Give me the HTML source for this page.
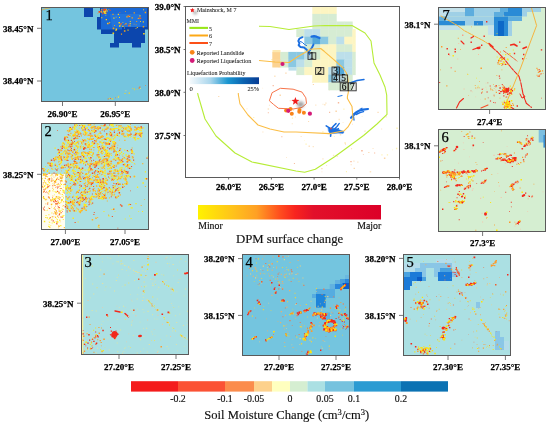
<!DOCTYPE html>
<html><head><meta charset="utf-8"><title>Soil moisture change figure</title>
<style>html,body{margin:0;padding:0;background:#fff;}svg{display:block;}
text{font-family:"Liberation Serif","Times New Roman",serif;}</style></head>
<body><svg width="550" height="425" viewBox="0 0 550 425">
<rect width="550" height="425" fill="#fff"/><rect x="41.0" y="7.0" width="108.0" height="95.0" fill="#74c5df" /><rect x="84.0" y="8.0" width="9.0" height="9.0" fill="#0c46ad" /><path d="M100 8 H148 V17 H148 V29.5 H145 V43 H141 V47.5 H132 V43 H119 V47.5 H110 V43 H114 V34 H101 V29.5 H97 V17 H100 Z" fill="#0c46ad"/><path d="M101 8 H147 V27 H122 V29.5 H101 Z" fill="#1a69d6"/><path d="M110 14 H140 V27 H112 Z" fill="#2a80e4" opacity="0.55"/><polyline points="42.0,10.0 46.0,8.5 50.0,8.0" fill="none" stroke="#e8b040" stroke-width="0.8" stroke-linejoin="round" stroke-linecap="round" /><path fill="#ffd21a" d="M103.2 11.0h1.5v1.5h-1.5zM107.1 10.5h0.9v0.9h-0.9zM99.0 11.7h0.9v0.9h-0.9zM103.6 11.1h0.9v0.9h-0.9zM101.4 11.8h0.9v0.9h-0.9zM105.2 12.9h1.2v1.2h-1.2zM103.7 9.6h1.3v1.3h-1.3zM104.8 10.5h1.6v1.6h-1.6zM104.0 12.0h1.7v1.7h-1.7zM105.6 8.8h1.2v1.2h-1.2zM129.5 25.2h1.0v1.0h-1.0zM115.7 16.7h0.8v0.8h-0.8zM105.7 18.9h1.3v1.3h-1.3zM129.8 21.1h1.0v1.0h-1.0zM122.5 22.2h0.8v0.8h-0.8zM119.0 17.0h1.0v1.0h-1.0zM109.3 22.0h0.9v0.9h-0.9zM119.0 25.2h1.5v1.5h-1.5zM135.6 28.0h0.8v0.8h-0.8zM101.2 17.2h1.1v1.1h-1.1zM127.5 29.6h1.1v1.1h-1.1zM137.8 17.9h1.0v1.0h-1.0zM112.5 32.5h1.6v1.6h-1.6zM117.8 13.8h1.2v1.2h-1.2zM143.1 9.2h1.0v1.0h-1.0zM122.2 25.7h1.3v1.3h-1.3zM118.5 22.1h1.5v1.5h-1.5zM107.1 22.8h1.5v1.5h-1.5zM139.4 15.3h1.2v1.2h-1.2zM140.0 21.0h0.9v0.9h-0.9zM113.3 17.5h1.2v1.2h-1.2zM126.4 16.3h1.2v1.2h-1.2zM129.6 23.1h1.2v1.2h-1.2zM143.1 33.0h1.6v1.6h-1.6zM129.1 15.9h1.1v1.1h-1.1zM142.7 21.2h1.2v1.2h-1.2zM115.4 29.8h1.2v1.2h-1.2zM105.4 14.7h0.9v0.9h-0.9zM115.6 28.6h1.5v1.5h-1.5zM136.8 27.1h1.0v1.0h-1.0zM112.3 98.1h0.9v0.9h-0.9zM136.7 89.0h0.8v0.8h-0.8zM128.6 92.5h1.3v1.3h-1.3zM134.2 88.4h0.9v0.9h-0.9zM111.7 99.0h0.9v0.9h-0.9zM109.4 97.8h1.1v1.1h-1.1zM118.2 95.8h1.0v1.0h-1.0zM124.5 93.0h1.0v1.0h-1.0zM116.8 96.7h0.7v0.7h-0.7zM132.3 88.2h0.9v0.9h-0.9zM134.2 89.4h0.8v0.8h-0.8z"/><path fill="#f04a1a" d="M101.2 9.6h0.9v0.9h-0.9zM104.8 8.8h1.4v1.4h-1.4zM103.3 8.6h1.4v1.4h-1.4zM106.0 11.9h0.8v0.8h-0.8zM102.2 12.8h1.4v1.4h-1.4zM98.5 11.0h1.7v1.7h-1.7zM103.5 9.4h1.5v1.5h-1.5zM109.6 9.8h1.1v1.1h-1.1z"/><path fill="#fd9a2a" d="M97.5 13.3h0.8v0.8h-0.8zM101.2 8.9h1.1v1.1h-1.1zM105.5 9.9h1.2v1.2h-1.2zM100.4 10.8h1.7v1.7h-1.7z"/><path fill="#f0a21a" d="M112.7 27.6h1.6v1.6h-1.6zM144.7 11.8h1.5v1.5h-1.5zM114.0 25.1h0.9v0.9h-0.9zM135.7 24.5h0.8v0.8h-0.8zM124.1 27.6h0.9v0.9h-0.9zM136.2 21.1h1.0v1.0h-1.0zM133.6 12.3h1.3v1.3h-1.3zM142.7 26.0h1.5v1.5h-1.5zM125.0 10.9h0.9v0.9h-0.9zM127.6 15.3h1.2v1.2h-1.2zM120.9 33.6h1.2v1.2h-1.2zM112.4 13.8h1.2v1.2h-1.2zM123.9 30.2h1.6v1.6h-1.6zM125.3 23.1h1.3v1.3h-1.3zM131.5 17.2h1.4v1.4h-1.4zM120.1 24.5h1.1v1.1h-1.1zM133.7 23.8h0.8v0.8h-0.8zM108.3 9.2h0.9v0.9h-0.9z"/><path fill="#e8602a" d="M120.3 23.1h1.5v1.5h-1.5zM139.7 17.6h1.5v1.5h-1.5zM128.1 25.1h1.3v1.3h-1.3zM128.5 23.7h0.9v0.9h-0.9zM127.7 15.8h1.5v1.5h-1.5zM108.5 22.9h1.2v1.2h-1.2zM138.5 17.6h1.2v1.2h-1.2zM124.1 24.2h1.1v1.1h-1.1zM129.5 14.4h0.9v0.9h-0.9zM119.4 12.2h0.9v0.9h-0.9z"/><path fill="#f07a2a" d="M138.6 87.5h1.2v1.2h-1.2zM115.0 97.5h0.8v0.8h-0.8zM145.3 85.3h0.7v0.7h-0.7zM107.7 98.4h1.1v1.1h-1.1zM139.3 86.4h1.2v1.2h-1.2zM110.0 98.0h1.1v1.1h-1.1z"/><path fill="#e8e070" d="M125.5 90.3h0.9v0.9h-0.9zM118.0 96.7h1.0v1.0h-1.0zM139.8 88.0h1.0v1.0h-1.0z"/><rect x="41.5" y="7.5" width="107" height="94" fill="none" stroke="#5a5a5a" stroke-width="1"/><line x1="37" y1="28.3" x2="41" y2="28.3" stroke="#777" stroke-width="1" /><text x="33.4" y="31.6" font-size="9" font-weight="bold" text-anchor="end" fill="#000" stroke="#000" stroke-width="0.25" >38.45°N</text><line x1="37" y1="81" x2="41" y2="81" stroke="#777" stroke-width="1" /><text x="33.4" y="84.3" font-size="9" font-weight="bold" text-anchor="end" fill="#000" stroke="#000" stroke-width="0.25" >38.40°N</text><line x1="62.5" y1="102" x2="62.5" y2="106" stroke="#777" stroke-width="1" /><text x="62.5" y="117.0" font-size="9" font-weight="bold" text-anchor="middle" fill="#000" stroke="#000" stroke-width="0.25" >26.90°E</text><line x1="115.3" y1="102" x2="115.3" y2="106" stroke="#777" stroke-width="1" /><text x="115.3" y="117.0" font-size="9" font-weight="bold" text-anchor="middle" fill="#000" stroke="#000" stroke-width="0.25" >26.95°E</text><text x="45.6" y="20.2" font-size="14.5" font-weight="normal" text-anchor="start" fill="#000" stroke="#000" stroke-width="0.25" >1</text><rect x="41.0" y="123.0" width="108.0" height="107.0" fill="#abe0e3" /><rect x="42.0" y="174.0" width="23.0" height="55.0" fill="#fffdf0" /><path fill="#f5501e" d="M114.2 175.4h1.4v1.4h-1.4zM99.8 192.1h1.4v1.4h-1.4zM94.4 164.2h1.3v1.3h-1.3zM110.1 132.1h1.0v1.0h-1.0zM87.4 152.9h0.9v0.9h-0.9zM86.7 152.2h0.9v0.9h-0.9zM118.3 129.2h1.2v1.2h-1.2zM55.5 173.6h1.0v1.0h-1.0zM70.7 150.1h1.2v1.2h-1.2zM134.5 126.3h1.4v1.4h-1.4zM104.2 124.0h1.5v1.5h-1.5zM123.1 172.0h0.8v0.8h-0.8zM88.4 204.2h1.0v1.0h-1.0zM89.2 203.4h1.0v1.0h-1.0zM85.1 197.6h1.2v1.2h-1.2zM87.8 129.2h1.1v1.1h-1.1zM88.7 130.1h1.1v1.1h-1.1zM123.3 128.3h0.9v0.9h-0.9zM106.4 158.4h1.1v1.1h-1.1zM105.5 158.4h1.1v1.1h-1.1zM101.3 163.2h1.0v1.0h-1.0zM110.8 133.6h1.4v1.4h-1.4zM75.1 183.5h1.1v1.1h-1.1zM140.1 135.4h1.4v1.4h-1.4zM138.9 134.3h1.4v1.4h-1.4zM90.4 169.0h1.3v1.3h-1.3zM84.4 131.0h1.1v1.1h-1.1zM73.6 210.2h1.3v1.3h-1.3zM67.8 139.7h1.3v1.3h-1.3zM60.5 156.5h0.8v0.8h-0.8zM78.7 203.9h1.5v1.5h-1.5zM108.9 154.2h0.9v0.9h-0.9zM107.5 127.3h1.1v1.1h-1.1zM72.4 169.8h1.0v1.0h-1.0zM63.9 164.8h1.1v1.1h-1.1zM114.9 190.5h1.1v1.1h-1.1zM42.3 168.0h1.4v1.4h-1.4zM127.0 165.2h0.9v0.9h-0.9zM109.2 173.3h1.0v1.0h-1.0zM91.6 154.9h0.9v0.9h-0.9zM131.4 152.9h1.0v1.0h-1.0zM80.9 191.8h1.2v1.2h-1.2zM130.1 190.5h0.8v0.8h-0.8zM68.5 134.7h1.0v1.0h-1.0zM67.7 133.9h1.0v1.0h-1.0zM84.8 176.9h1.2v1.2h-1.2zM122.8 134.6h0.8v0.8h-0.8zM47.4 162.6h1.2v1.2h-1.2zM76.1 152.1h1.5v1.5h-1.5zM93.4 164.1h1.4v1.4h-1.4zM103.2 186.8h1.5v1.5h-1.5zM113.0 165.3h0.9v0.9h-0.9zM75.4 151.9h1.2v1.2h-1.2zM107.6 163.2h1.4v1.4h-1.4zM77.2 201.3h1.2v1.2h-1.2zM113.7 146.2h1.0v1.0h-1.0zM71.0 145.6h1.4v1.4h-1.4zM89.3 178.1h1.4v1.4h-1.4zM54.0 160.5h0.8v0.8h-0.8zM65.5 164.6h1.1v1.1h-1.1zM66.4 164.6h1.1v1.1h-1.1zM106.2 160.5h1.2v1.2h-1.2zM98.9 156.8h1.1v1.1h-1.1zM90.3 167.9h1.5v1.5h-1.5zM108.7 143.1h1.5v1.5h-1.5zM119.0 149.7h1.3v1.3h-1.3zM107.2 147.2h1.1v1.1h-1.1zM113.7 145.6h1.5v1.5h-1.5zM67.2 149.4h1.2v1.2h-1.2zM112.7 186.9h1.4v1.4h-1.4zM53.1 158.1h1.1v1.1h-1.1zM110.6 161.4h0.9v0.9h-0.9zM68.9 130.1h1.4v1.4h-1.4zM84.7 129.3h1.1v1.1h-1.1zM66.1 172.1h1.4v1.4h-1.4zM121.0 159.8h1.3v1.3h-1.3zM122.1 160.9h1.3v1.3h-1.3zM113.6 150.7h1.2v1.2h-1.2zM72.7 196.2h0.9v0.9h-0.9zM114.0 165.2h0.9v0.9h-0.9zM109.1 190.6h1.0v1.0h-1.0zM113.2 166.5h1.4v1.4h-1.4zM104.0 155.9h1.2v1.2h-1.2zM104.1 149.3h1.5v1.5h-1.5zM65.5 204.1h0.8v0.8h-0.8zM69.5 187.6h1.5v1.5h-1.5zM83.9 146.9h0.8v0.8h-0.8zM134.4 137.4h0.9v0.9h-0.9zM95.1 135.8h1.2v1.2h-1.2zM94.1 134.8h1.2v1.2h-1.2zM99.7 181.6h1.6v1.6h-1.6zM97.3 174.0h0.9v0.9h-0.9zM97.3 171.5h1.1v1.1h-1.1zM81.5 193.9h0.9v0.9h-0.9zM84.6 128.3h1.2v1.2h-1.2zM100.0 179.5h1.1v1.1h-1.1zM74.3 137.8h1.3v1.3h-1.3zM78.2 171.9h1.3v1.3h-1.3zM77.2 171.9h1.3v1.3h-1.3zM130.2 127.7h1.2v1.2h-1.2zM125.8 175.2h1.3v1.3h-1.3zM117.1 179.0h1.0v1.0h-1.0zM116.9 170.5h1.5v1.5h-1.5zM65.7 181.3h1.2v1.2h-1.2zM94.8 163.4h1.1v1.1h-1.1zM83.6 206.3h1.3v1.3h-1.3zM111.4 175.8h0.8v0.8h-0.8zM108.0 176.6h0.9v0.9h-0.9zM98.1 154.3h1.0v1.0h-1.0zM134.8 134.1h1.5v1.5h-1.5zM131.0 166.0h1.1v1.1h-1.1zM67.3 137.1h0.8v0.8h-0.8zM73.6 160.6h1.5v1.5h-1.5zM78.1 158.8h1.0v1.0h-1.0zM77.3 158.0h1.0v1.0h-1.0zM97.8 171.1h1.4v1.4h-1.4zM50.8 159.5h1.5v1.5h-1.5zM133.0 159.5h1.2v1.2h-1.2zM65.8 201.5h1.0v1.0h-1.0zM101.8 147.3h1.4v1.4h-1.4zM76.8 130.7h1.2v1.2h-1.2zM118.6 192.1h1.5v1.5h-1.5zM75.1 151.6h1.2v1.2h-1.2zM103.9 130.5h1.0v1.0h-1.0zM79.7 180.9h1.1v1.1h-1.1zM140.8 127.2h1.5v1.5h-1.5zM94.2 166.5h1.5v1.5h-1.5zM69.1 210.3h1.5v1.5h-1.5zM117.4 227.7h0.9v0.9h-0.9zM82.8 199.3h1.4v1.4h-1.4zM81.7 198.1h1.4v1.4h-1.4zM127.3 165.6h1.0v1.0h-1.0zM50.2 164.6h1.0v1.0h-1.0zM85.2 196.9h1.4v1.4h-1.4zM90.6 182.0h1.6v1.6h-1.6zM83.0 147.8h1.4v1.4h-1.4zM60.3 157.6h1.5v1.5h-1.5zM91.8 172.5h1.5v1.5h-1.5zM112.5 145.8h1.1v1.1h-1.1zM89.2 165.2h1.5v1.5h-1.5zM68.5 153.0h1.2v1.2h-1.2zM66.6 210.3h0.9v0.9h-0.9zM87.0 177.6h0.8v0.8h-0.8zM78.5 167.6h1.4v1.4h-1.4zM73.6 182.2h1.4v1.4h-1.4zM74.7 183.3h1.4v1.4h-1.4zM84.7 143.2h1.5v1.5h-1.5zM71.1 178.8h1.2v1.2h-1.2zM70.0 201.0h1.5v1.5h-1.5zM130.5 129.6h0.9v0.9h-0.9zM128.0 155.0h1.5v1.5h-1.5zM65.7 151.3h0.9v0.9h-0.9zM93.8 179.7h1.0v1.0h-1.0zM78.3 134.0h0.9v0.9h-0.9zM72.0 158.7h0.9v0.9h-0.9zM72.7 157.9h0.9v0.9h-0.9zM64.3 136.8h1.4v1.4h-1.4zM105.2 197.3h1.5v1.5h-1.5zM110.0 141.1h0.8v0.8h-0.8zM81.8 154.5h1.4v1.4h-1.4zM79.9 156.2h1.4v1.4h-1.4zM66.3 159.4h1.4v1.4h-1.4zM81.1 152.3h1.4v1.4h-1.4zM106.0 149.9h1.1v1.1h-1.1zM106.8 154.8h1.5v1.5h-1.5zM77.5 191.7h1.2v1.2h-1.2zM105.5 142.4h1.2v1.2h-1.2zM104.6 142.4h1.2v1.2h-1.2zM81.7 201.0h1.0v1.0h-1.0zM115.7 165.6h1.0v1.0h-1.0zM96.0 176.6h1.4v1.4h-1.4zM103.3 146.9h0.8v0.8h-0.8zM88.0 153.1h1.4v1.4h-1.4zM110.5 134.7h1.5v1.5h-1.5zM61.8 145.6h1.5v1.5h-1.5zM73.7 152.9h0.9v0.9h-0.9zM110.8 196.2h1.0v1.0h-1.0zM102.4 178.1h1.6v1.6h-1.6zM67.5 202.0h1.6v1.6h-1.6zM105.8 188.8h1.5v1.5h-1.5zM91.1 160.3h0.9v0.9h-0.9zM128.8 134.6h1.5v1.5h-1.5zM130.1 133.4h1.5v1.5h-1.5zM71.2 150.4h0.9v0.9h-0.9zM67.7 197.2h0.9v0.9h-0.9zM96.6 154.2h1.2v1.2h-1.2zM121.8 173.2h1.0v1.0h-1.0zM81.8 167.5h1.5v1.5h-1.5zM109.7 134.5h1.0v1.0h-1.0zM110.5 135.3h1.0v1.0h-1.0zM103.2 142.2h0.9v0.9h-0.9zM115.7 182.9h1.6v1.6h-1.6zM101.5 173.9h0.9v0.9h-0.9zM70.7 128.3h1.6v1.6h-1.6zM69.4 127.0h1.6v1.6h-1.6zM112.5 185.2h1.1v1.1h-1.1zM75.2 137.0h0.8v0.8h-0.8zM130.7 149.3h1.4v1.4h-1.4zM83.1 148.5h1.5v1.5h-1.5zM84.3 147.3h1.5v1.5h-1.5zM105.3 138.4h1.6v1.6h-1.6zM99.5 159.1h1.0v1.0h-1.0zM49.9 165.2h1.3v1.3h-1.3zM102.1 188.0h1.1v1.1h-1.1zM128.1 159.7h1.2v1.2h-1.2zM79.4 196.8h1.5v1.5h-1.5zM126.9 156.0h1.0v1.0h-1.0zM127.7 156.8h1.0v1.0h-1.0zM66.6 157.2h1.4v1.4h-1.4zM76.1 151.4h0.9v0.9h-0.9zM113.4 182.9h1.0v1.0h-1.0zM93.8 142.5h1.4v1.4h-1.4zM126.8 172.2h1.6v1.6h-1.6zM132.5 156.8h1.0v1.0h-1.0zM110.5 148.1h0.9v0.9h-0.9zM84.7 184.9h1.0v1.0h-1.0zM76.5 146.0h1.0v1.0h-1.0zM75.7 145.2h1.0v1.0h-1.0zM117.7 172.8h1.4v1.4h-1.4zM97.5 190.6h0.8v0.8h-0.8zM63.1 155.9h1.0v1.0h-1.0zM63.9 156.7h1.0v1.0h-1.0zM98.2 193.1h1.3v1.3h-1.3zM140.5 125.9h1.3v1.3h-1.3zM118.1 183.4h1.6v1.6h-1.6zM64.9 183.7h1.0v1.0h-1.0zM64.2 183.7h1.0v1.0h-1.0zM95.6 196.5h0.9v0.9h-0.9zM49.3 164.8h1.0v1.0h-1.0zM97.9 137.0h1.3v1.3h-1.3zM95.0 161.3h1.5v1.5h-1.5zM68.3 131.5h0.8v0.8h-0.8zM126.7 161.0h1.5v1.5h-1.5zM106.5 158.4h1.5v1.5h-1.5zM59.0 155.1h1.1v1.1h-1.1zM91.9 193.6h0.9v0.9h-0.9zM67.7 170.1h0.9v0.9h-0.9zM60.9 159.5h1.5v1.5h-1.5zM98.5 190.2h1.2v1.2h-1.2zM53.5 172.6h1.1v1.1h-1.1zM60.7 167.0h1.5v1.5h-1.5zM106.8 180.3h0.8v0.8h-0.8zM129.9 176.3h1.1v1.1h-1.1zM140.1 133.5h1.3v1.3h-1.3zM141.2 132.4h1.3v1.3h-1.3zM106.4 143.2h1.4v1.4h-1.4zM60.8 158.5h1.0v1.0h-1.0zM80.4 161.8h1.1v1.1h-1.1zM100.0 170.8h1.2v1.2h-1.2zM99.1 196.1h0.8v0.8h-0.8zM115.2 159.7h1.1v1.1h-1.1zM71.1 143.4h1.5v1.5h-1.5zM72.3 142.2h1.5v1.5h-1.5zM73.8 210.1h0.8v0.8h-0.8zM115.3 189.3h1.5v1.5h-1.5zM86.0 160.8h1.4v1.4h-1.4zM107.5 191.7h1.0v1.0h-1.0zM57.5 149.0h1.5v1.5h-1.5zM127.4 134.4h1.2v1.2h-1.2zM78.7 135.9h1.1v1.1h-1.1zM122.1 183.8h0.9v0.9h-0.9zM69.0 175.1h1.3v1.3h-1.3zM68.0 174.1h1.3v1.3h-1.3zM124.4 135.8h1.1v1.1h-1.1zM84.3 177.1h1.4v1.4h-1.4zM114.3 169.3h1.2v1.2h-1.2zM92.6 181.7h1.4v1.4h-1.4zM97.9 168.0h0.9v0.9h-0.9zM93.2 146.9h1.0v1.0h-1.0zM88.3 171.4h1.1v1.1h-1.1zM70.1 163.7h1.2v1.2h-1.2zM92.6 188.8h1.1v1.1h-1.1zM117.9 157.3h1.4v1.4h-1.4zM103.0 197.4h1.4v1.4h-1.4zM95.8 163.1h1.4v1.4h-1.4zM72.0 154.8h1.1v1.1h-1.1zM56.2 169.3h1.4v1.4h-1.4zM86.6 191.5h1.3v1.3h-1.3zM74.6 221.9h1.1v1.1h-1.1zM113.3 175.3h1.5v1.5h-1.5zM81.8 194.7h1.5v1.5h-1.5zM96.5 162.2h1.2v1.2h-1.2zM123.8 164.0h1.3v1.3h-1.3zM122.8 164.0h1.3v1.3h-1.3zM66.7 207.5h1.5v1.5h-1.5zM125.8 182.7h1.0v1.0h-1.0zM82.5 176.4h1.0v1.0h-1.0zM69.8 201.7h1.4v1.4h-1.4zM90.1 157.1h1.5v1.5h-1.5zM98.7 160.2h1.5v1.5h-1.5zM93.7 129.5h1.2v1.2h-1.2zM100.9 136.2h1.5v1.5h-1.5zM85.2 186.4h0.8v0.8h-0.8zM139.7 127.4h0.9v0.9h-0.9zM139.0 127.4h0.9v0.9h-0.9zM121.2 170.9h1.6v1.6h-1.6zM108.4 143.4h1.5v1.5h-1.5zM108.7 164.6h1.2v1.2h-1.2zM58.5 151.9h1.4v1.4h-1.4zM77.6 197.7h1.5v1.5h-1.5zM126.8 150.0h1.2v1.2h-1.2zM130.0 204.0h1.1v1.1h-1.1zM129.1 204.0h1.1v1.1h-1.1zM84.5 192.1h1.3v1.3h-1.3zM73.6 149.0h1.6v1.6h-1.6zM66.7 211.4h1.0v1.0h-1.0zM136.4 127.4h1.3v1.3h-1.3zM99.6 141.6h1.0v1.0h-1.0zM79.9 159.1h1.1v1.1h-1.1zM89.4 198.3h1.2v1.2h-1.2zM111.6 178.9h1.3v1.3h-1.3zM74.0 202.2h0.9v0.9h-0.9zM116.6 154.1h1.5v1.5h-1.5zM68.8 129.8h1.1v1.1h-1.1zM72.2 196.7h1.0v1.0h-1.0zM115.6 197.5h0.9v0.9h-0.9zM134.9 134.1h1.3v1.3h-1.3zM136.0 133.0h1.3v1.3h-1.3zM97.8 181.7h1.2v1.2h-1.2zM101.1 150.9h1.1v1.1h-1.1zM125.8 183.0h1.6v1.6h-1.6zM122.4 130.7h0.8v0.8h-0.8zM61.5 147.4h1.5v1.5h-1.5zM93.1 185.9h1.0v1.0h-1.0zM119.6 159.6h1.0v1.0h-1.0zM95.5 165.5h1.3v1.3h-1.3zM113.4 172.5h1.2v1.2h-1.2zM127.1 134.6h0.9v0.9h-0.9zM82.1 172.7h1.0v1.0h-1.0zM82.0 197.3h1.6v1.6h-1.6zM95.0 170.3h1.3v1.3h-1.3zM93.9 171.4h1.3v1.3h-1.3zM99.3 127.2h1.6v1.6h-1.6zM73.1 184.0h1.0v1.0h-1.0zM82.8 151.4h0.8v0.8h-0.8zM82.1 152.0h0.8v0.8h-0.8zM50.7 165.7h0.8v0.8h-0.8zM106.0 133.3h1.4v1.4h-1.4zM63.9 138.2h1.6v1.6h-1.6zM127.5 171.2h1.1v1.1h-1.1zM93.0 143.3h1.3v1.3h-1.3zM77.8 142.7h0.9v0.9h-0.9zM104.7 182.4h1.2v1.2h-1.2zM76.6 135.0h1.5v1.5h-1.5zM121.9 158.5h1.1v1.1h-1.1zM122.1 131.0h1.0v1.0h-1.0zM121.3 130.2h1.0v1.0h-1.0zM78.3 130.9h0.8v0.8h-0.8zM75.6 153.4h0.8v0.8h-0.8zM103.8 138.5h1.2v1.2h-1.2zM74.0 124.4h1.3v1.3h-1.3zM102.4 181.7h1.6v1.6h-1.6zM102.6 161.6h1.3v1.3h-1.3zM96.6 179.6h1.3v1.3h-1.3zM79.0 189.7h0.9v0.9h-0.9zM116.7 188.0h1.2v1.2h-1.2zM104.6 190.3h0.8v0.8h-0.8zM114.9 191.1h1.0v1.0h-1.0zM94.4 126.2h1.3v1.3h-1.3zM93.3 126.2h1.3v1.3h-1.3zM98.6 145.9h1.4v1.4h-1.4zM116.9 147.5h0.8v0.8h-0.8zM115.1 196.6h1.2v1.2h-1.2zM127.2 164.1h1.2v1.2h-1.2zM82.9 140.1h1.3v1.3h-1.3zM108.8 187.2h1.0v1.0h-1.0zM99.5 146.6h0.8v0.8h-0.8zM81.5 159.6h1.2v1.2h-1.2zM91.8 182.6h1.5v1.5h-1.5zM90.6 183.8h1.5v1.5h-1.5zM88.7 167.2h1.0v1.0h-1.0zM107.6 173.0h1.4v1.4h-1.4zM80.5 185.2h1.5v1.5h-1.5zM79.1 175.4h1.3v1.3h-1.3zM82.2 207.7h1.1v1.1h-1.1zM81.3 207.7h1.1v1.1h-1.1zM75.5 153.8h1.0v1.0h-1.0zM70.2 146.3h1.2v1.2h-1.2zM70.8 139.7h1.2v1.2h-1.2zM79.2 173.3h1.3v1.3h-1.3zM43.2 170.2h1.0v1.0h-1.0zM111.2 160.8h0.9v0.9h-0.9zM95.8 140.6h1.0v1.0h-1.0zM94.9 130.5h1.3v1.3h-1.3zM93.9 131.5h1.3v1.3h-1.3zM115.0 154.8h0.9v0.9h-0.9zM88.7 151.4h1.5v1.5h-1.5zM145.9 178.0h1.4v1.4h-1.4zM64.2 139.4h1.1v1.1h-1.1zM102.0 180.2h1.5v1.5h-1.5zM66.3 176.9h0.8v0.8h-0.8zM53.6 159.7h1.2v1.2h-1.2zM58.8 157.8h1.1v1.1h-1.1zM120.1 161.5h1.3v1.3h-1.3zM105.6 151.1h1.3v1.3h-1.3zM57.1 130.2h0.8v0.8h-0.8zM128.9 130.6h1.2v1.2h-1.2zM90.2 138.7h0.8v0.8h-0.8zM89.5 138.7h0.8v0.8h-0.8zM49.5 162.8h1.2v1.2h-1.2zM86.5 185.9h1.1v1.1h-1.1zM133.9 137.6h0.8v0.8h-0.8zM83.0 156.1h1.5v1.5h-1.5zM106.2 154.6h1.2v1.2h-1.2zM55.2 168.6h0.8v0.8h-0.8zM118.5 125.3h1.2v1.2h-1.2zM109.4 139.3h1.3v1.3h-1.3zM72.4 126.7h1.1v1.1h-1.1zM92.4 163.2h1.1v1.1h-1.1zM118.0 163.2h0.9v0.9h-0.9zM76.2 201.8h1.3v1.3h-1.3zM97.9 176.5h1.3v1.3h-1.3zM146.4 157.6h1.2v1.2h-1.2zM109.3 170.8h1.4v1.4h-1.4zM118.8 132.4h1.3v1.3h-1.3zM129.0 159.4h1.3v1.3h-1.3zM109.1 124.6h1.0v1.0h-1.0zM69.2 145.5h1.2v1.2h-1.2zM81.0 127.5h1.0v1.0h-1.0zM73.5 166.4h1.0v1.0h-1.0zM84.9 189.1h1.0v1.0h-1.0zM122.0 186.5h1.4v1.4h-1.4zM83.7 126.6h1.4v1.4h-1.4zM113.1 138.8h0.9v0.9h-0.9zM90.8 163.6h1.3v1.3h-1.3zM113.8 130.4h0.9v0.9h-0.9zM107.8 163.7h1.0v1.0h-1.0zM121.1 205.3h1.4v1.4h-1.4zM119.9 204.2h1.4v1.4h-1.4zM88.5 201.6h1.1v1.1h-1.1zM75.0 160.9h1.2v1.2h-1.2zM73.3 138.1h1.5v1.5h-1.5zM67.3 130.5h0.8v0.8h-0.8zM94.9 130.1h1.6v1.6h-1.6zM68.6 150.1h1.2v1.2h-1.2zM75.3 158.4h1.3v1.3h-1.3zM99.7 131.5h0.9v0.9h-0.9zM85.9 173.3h1.1v1.1h-1.1zM70.5 167.1h0.9v0.9h-0.9zM75.1 179.6h1.5v1.5h-1.5zM113.6 149.2h1.2v1.2h-1.2zM51.5 165.4h0.9v0.9h-0.9zM128.7 167.8h1.3v1.3h-1.3zM78.9 202.2h1.2v1.2h-1.2zM67.0 207.7h1.0v1.0h-1.0zM77.0 156.5h1.3v1.3h-1.3zM79.3 125.1h0.9v0.9h-0.9zM70.6 143.7h1.4v1.4h-1.4zM106.9 152.9h1.3v1.3h-1.3zM113.8 131.8h1.2v1.2h-1.2zM63.5 146.6h1.1v1.1h-1.1zM104.9 153.8h1.4v1.4h-1.4zM94.2 176.0h1.1v1.1h-1.1zM119.1 131.7h0.9v0.9h-0.9zM98.9 189.6h1.2v1.2h-1.2zM76.0 191.8h1.0v1.0h-1.0zM113.3 151.5h1.1v1.1h-1.1zM100.9 152.7h0.9v0.9h-0.9zM66.5 152.5h1.0v1.0h-1.0zM70.3 143.4h1.3v1.3h-1.3zM71.4 142.4h1.3v1.3h-1.3zM74.3 184.3h1.1v1.1h-1.1zM80.3 133.3h1.1v1.1h-1.1zM79.5 132.5h1.1v1.1h-1.1zM71.0 148.0h1.0v1.0h-1.0zM89.5 132.7h1.0v1.0h-1.0zM90.3 133.5h1.0v1.0h-1.0zM73.4 135.0h1.3v1.3h-1.3zM104.8 138.7h1.3v1.3h-1.3zM93.1 159.7h1.0v1.0h-1.0zM86.2 206.0h1.1v1.1h-1.1zM96.6 181.6h1.4v1.4h-1.4zM73.9 199.5h1.1v1.1h-1.1zM75.8 162.5h1.3v1.3h-1.3zM54.7 164.4h1.4v1.4h-1.4zM74.3 175.9h1.1v1.1h-1.1zM83.0 177.9h1.4v1.4h-1.4zM62.9 142.6h0.8v0.8h-0.8zM67.9 166.2h1.4v1.4h-1.4zM74.0 141.1h0.9v0.9h-0.9zM108.9 148.1h1.4v1.4h-1.4zM75.2 179.9h1.1v1.1h-1.1zM84.2 190.6h1.2v1.2h-1.2zM121.0 169.6h1.2v1.2h-1.2zM117.3 162.0h1.5v1.5h-1.5zM62.6 167.0h1.3v1.3h-1.3zM74.5 159.0h1.0v1.0h-1.0zM112.3 192.1h1.0v1.0h-1.0zM99.9 148.3h1.3v1.3h-1.3zM116.8 134.8h1.2v1.2h-1.2zM107.4 174.0h0.8v0.8h-0.8zM104.0 194.4h1.4v1.4h-1.4zM92.1 202.6h1.1v1.1h-1.1zM117.4 157.8h1.5v1.5h-1.5zM74.1 166.9h0.9v0.9h-0.9zM103.8 194.9h1.1v1.1h-1.1zM67.5 160.1h1.0v1.0h-1.0zM59.9 163.1h0.9v0.9h-0.9zM106.7 159.8h1.5v1.5h-1.5zM103.9 124.9h1.4v1.4h-1.4zM95.9 193.8h1.3v1.3h-1.3zM126.8 158.3h1.5v1.5h-1.5zM78.9 184.9h0.9v0.9h-0.9zM129.0 126.1h1.4v1.4h-1.4zM95.9 164.8h1.3v1.3h-1.3zM82.1 125.0h1.4v1.4h-1.4zM89.1 187.7h1.2v1.2h-1.2zM106.7 163.7h1.5v1.5h-1.5zM92.1 141.3h1.2v1.2h-1.2zM129.1 156.8h1.0v1.0h-1.0zM107.6 143.2h1.4v1.4h-1.4zM81.7 160.8h1.0v1.0h-1.0zM101.2 184.0h0.9v0.9h-0.9zM107.8 155.2h1.6v1.6h-1.6zM66.1 187.1h1.2v1.2h-1.2zM85.4 161.5h1.0v1.0h-1.0zM64.7 206.0h1.5v1.5h-1.5zM85.0 164.4h1.1v1.1h-1.1zM84.3 198.8h1.1v1.1h-1.1zM83.4 198.8h1.1v1.1h-1.1zM75.9 165.8h1.2v1.2h-1.2zM136.4 128.6h1.4v1.4h-1.4zM76.0 196.6h1.0v1.0h-1.0zM105.1 158.5h1.3v1.3h-1.3zM100.6 186.1h1.2v1.2h-1.2zM68.1 187.6h1.0v1.0h-1.0zM94.1 140.0h1.3v1.3h-1.3zM68.0 152.9h1.5v1.5h-1.5zM124.9 170.9h1.3v1.3h-1.3zM125.9 170.9h1.3v1.3h-1.3zM81.0 142.3h0.9v0.9h-0.9zM49.7 217.1h1.0v1.0h-1.0zM47.0 203.4h1.2v1.2h-1.2zM48.6 186.2h0.7v0.7h-0.7zM48.0 186.2h0.7v0.7h-0.7zM53.7 201.5h1.0v1.0h-1.0zM52.9 200.7h1.0v1.0h-1.0zM56.2 222.8h1.1v1.1h-1.1zM43.1 208.5h0.9v0.9h-0.9zM57.8 183.6h1.0v1.0h-1.0zM54.9 180.2h1.0v1.0h-1.0zM52.6 199.2h0.7v0.7h-0.7zM55.1 203.2h1.1v1.1h-1.1zM56.0 203.2h1.1v1.1h-1.1zM45.4 199.3h0.9v0.9h-0.9zM51.4 178.6h1.0v1.0h-1.0zM58.3 179.0h0.7v0.7h-0.7zM52.6 220.2h1.2v1.2h-1.2zM56.2 195.9h1.0v1.0h-1.0zM58.6 225.7h1.1v1.1h-1.1zM57.5 200.0h0.7v0.7h-0.7zM47.9 196.4h1.2v1.2h-1.2zM48.8 197.3h1.2v1.2h-1.2zM46.4 174.0h1.1v1.1h-1.1zM55.4 213.2h0.7v0.7h-0.7zM58.7 207.1h1.1v1.1h-1.1zM43.8 209.4h1.2v1.2h-1.2zM63.9 192.6h0.9v0.9h-0.9zM57.3 204.4h0.8v0.8h-0.8zM45.4 174.1h0.6v0.6h-0.6zM43.7 174.5h1.1v1.1h-1.1zM42.9 173.6h1.1v1.1h-1.1zM57.9 206.6h1.0v1.0h-1.0zM42.1 185.8h0.7v0.7h-0.7zM48.1 178.6h0.8v0.8h-0.8zM55.9 210.5h1.1v1.1h-1.1zM54.8 198.8h0.7v0.7h-0.7zM60.4 180.4h1.1v1.1h-1.1zM54.2 181.0h0.9v0.9h-0.9zM49.1 178.0h1.0v1.0h-1.0zM44.1 206.7h0.9v0.9h-0.9zM56.2 201.2h0.8v0.8h-0.8zM56.9 190.8h1.1v1.1h-1.1zM48.8 179.5h1.1v1.1h-1.1zM58.6 191.7h1.0v1.0h-1.0zM44.8 188.5h1.1v1.1h-1.1zM50.1 199.6h1.0v1.0h-1.0zM61.1 180.1h0.9v0.9h-0.9zM55.5 187.1h0.7v0.7h-0.7zM53.8 183.4h0.7v0.7h-0.7zM47.9 180.7h0.6v0.6h-0.6zM57.5 215.4h0.9v0.9h-0.9zM43.5 189.1h0.9v0.9h-0.9zM44.0 206.6h0.7v0.7h-0.7zM52.4 216.3h0.9v0.9h-0.9zM62.2 216.9h0.9v0.9h-0.9zM59.3 213.3h1.0v1.0h-1.0zM47.1 186.9h1.2v1.2h-1.2zM54.7 199.9h1.0v1.0h-1.0zM57.7 206.3h0.7v0.7h-0.7zM45.4 192.0h0.8v0.8h-0.8zM46.0 191.4h0.8v0.8h-0.8zM62.0 211.1h0.7v0.7h-0.7zM58.6 210.4h1.0v1.0h-1.0zM52.2 197.3h0.7v0.7h-0.7zM60.6 212.1h1.0v1.0h-1.0zM54.4 185.1h0.6v0.6h-0.6zM54.8 185.3h0.8v0.8h-0.8zM45.4 174.8h1.0v1.0h-1.0zM56.1 178.9h1.1v1.1h-1.1zM59.7 176.3h0.6v0.6h-0.6zM47.1 192.6h0.7v0.7h-0.7zM59.3 185.8h0.8v0.8h-0.8zM59.5 197.3h1.0v1.0h-1.0zM49.7 218.4h0.7v0.7h-0.7zM60.6 188.0h1.0v1.0h-1.0zM52.1 180.6h0.7v0.7h-0.7zM60.6 216.6h1.1v1.1h-1.1zM42.2 186.6h0.9v0.9h-0.9zM62.8 174.7h0.9v0.9h-0.9zM54.9 200.3h1.1v1.1h-1.1zM42.8 207.5h0.8v0.8h-0.8zM53.5 213.6h0.6v0.6h-0.6zM52.3 185.3h1.0v1.0h-1.0zM49.7 226.9h0.6v0.6h-0.6zM49.1 178.8h1.0v1.0h-1.0zM47.2 185.7h1.1v1.1h-1.1zM48.8 208.2h0.8v0.8h-0.8zM54.6 208.7h1.0v1.0h-1.0zM63.4 204.9h0.8v0.8h-0.8zM55.1 205.8h0.7v0.7h-0.7zM49.3 208.0h0.9v0.9h-0.9zM57.3 202.9h1.0v1.0h-1.0zM57.0 187.4h1.0v1.0h-1.0zM57.8 186.6h1.0v1.0h-1.0zM43.8 190.6h1.1v1.1h-1.1zM43.0 191.4h1.1v1.1h-1.1zM59.2 215.5h0.6v0.6h-0.6zM56.4 223.4h1.1v1.1h-1.1zM58.8 213.8h1.1v1.1h-1.1zM53.9 198.7h1.1v1.1h-1.1zM61.1 199.6h1.0v1.0h-1.0zM50.8 180.4h1.1v1.1h-1.1zM55.6 201.2h1.0v1.0h-1.0zM61.2 177.6h1.1v1.1h-1.1zM56.7 186.0h0.7v0.7h-0.7zM111.8 215.9h1.1v1.1h-1.1zM108.2 214.7h0.8v0.8h-0.8zM93.8 212.1h0.9v0.9h-0.9zM93.4 214.0h1.0v1.0h-1.0zM113.2 209.0h1.1v1.1h-1.1z"/><path fill="#ffe81a" d="M98.7 193.2h1.4v1.4h-1.4zM140.6 131.8h1.4v1.4h-1.4zM106.0 190.3h0.9v0.9h-0.9zM119.1 167.7h0.9v0.9h-0.9zM119.8 167.7h0.9v0.9h-0.9zM88.2 157.1h1.4v1.4h-1.4zM69.6 192.9h1.2v1.2h-1.2zM68.6 191.9h1.2v1.2h-1.2zM121.5 167.3h1.2v1.2h-1.2zM120.5 167.3h1.2v1.2h-1.2zM67.7 179.3h0.8v0.8h-0.8zM110.6 132.5h1.1v1.1h-1.1zM84.0 124.7h1.5v1.5h-1.5zM121.1 127.3h1.1v1.1h-1.1zM120.2 126.5h1.1v1.1h-1.1zM122.6 128.9h0.9v0.9h-0.9zM69.8 199.2h1.0v1.0h-1.0zM68.6 169.1h1.5v1.5h-1.5zM68.2 130.8h1.2v1.2h-1.2zM102.1 163.2h1.0v1.0h-1.0zM66.5 171.1h1.5v1.5h-1.5zM65.3 169.9h1.5v1.5h-1.5zM105.2 189.1h1.1v1.1h-1.1zM111.9 144.5h1.1v1.1h-1.1zM126.3 181.5h0.9v0.9h-0.9zM109.8 133.6h1.4v1.4h-1.4zM80.6 144.7h1.0v1.0h-1.0zM84.4 178.4h0.9v0.9h-0.9zM137.1 128.3h1.4v1.4h-1.4zM108.5 156.2h1.3v1.3h-1.3zM111.7 128.3h1.5v1.5h-1.5zM95.6 157.5h0.9v0.9h-0.9zM125.2 136.1h1.3v1.3h-1.3zM123.1 170.4h1.4v1.4h-1.4zM104.1 193.7h0.8v0.8h-0.8zM136.9 137.9h1.3v1.3h-1.3zM138.0 137.9h1.3v1.3h-1.3zM79.9 147.5h1.3v1.3h-1.3zM121.0 172.9h1.2v1.2h-1.2zM120.1 173.8h1.2v1.2h-1.2zM97.5 151.9h1.6v1.6h-1.6zM102.5 156.3h1.3v1.3h-1.3zM109.6 154.2h0.9v0.9h-0.9zM73.3 169.8h1.0v1.0h-1.0zM109.5 163.1h1.1v1.1h-1.1zM76.3 172.6h1.0v1.0h-1.0zM75.5 173.4h1.0v1.0h-1.0zM76.6 178.8h1.1v1.1h-1.1zM83.6 204.1h1.6v1.6h-1.6zM84.9 204.1h1.6v1.6h-1.6zM43.4 168.0h1.4v1.4h-1.4zM132.2 152.1h1.0v1.0h-1.0zM68.1 141.3h1.4v1.4h-1.4zM69.2 142.4h1.4v1.4h-1.4zM113.7 143.0h1.3v1.3h-1.3zM118.1 189.7h1.5v1.5h-1.5zM88.1 168.4h1.5v1.5h-1.5zM126.3 127.0h1.5v1.5h-1.5zM125.4 183.0h1.0v1.0h-1.0zM141.0 129.7h0.8v0.8h-0.8zM85.7 134.7h1.0v1.0h-1.0zM134.2 137.5h1.4v1.4h-1.4zM124.5 171.5h1.4v1.4h-1.4zM83.1 163.5h1.0v1.0h-1.0zM92.3 165.2h1.4v1.4h-1.4zM63.4 146.3h1.4v1.4h-1.4zM133.8 163.0h0.9v0.9h-0.9zM101.9 185.6h1.5v1.5h-1.5zM76.3 151.0h1.2v1.2h-1.2zM82.8 126.3h1.6v1.6h-1.6zM81.6 127.5h1.6v1.6h-1.6zM112.8 146.2h1.0v1.0h-1.0zM97.8 143.5h1.5v1.5h-1.5zM85.3 199.8h1.4v1.4h-1.4zM80.9 141.2h1.3v1.3h-1.3zM76.0 198.7h1.4v1.4h-1.4zM98.2 180.4h1.6v1.6h-1.6zM97.0 180.4h1.6v1.6h-1.6zM128.6 127.2h1.4v1.4h-1.4zM129.7 128.2h1.4v1.4h-1.4zM89.1 160.8h0.9v0.9h-0.9zM66.1 147.8h1.2v1.2h-1.2zM105.3 187.3h1.6v1.6h-1.6zM76.0 166.1h1.1v1.1h-1.1zM76.4 145.1h1.0v1.0h-1.0zM137.6 132.9h1.5v1.5h-1.5zM71.1 201.3h1.0v1.0h-1.0zM76.3 158.2h1.5v1.5h-1.5zM112.8 138.7h1.3v1.3h-1.3zM109.0 197.9h0.9v0.9h-0.9zM110.7 124.7h1.6v1.6h-1.6zM112.0 123.4h1.6v1.6h-1.6zM87.6 172.7h1.3v1.3h-1.3zM86.5 173.8h1.3v1.3h-1.3zM85.4 176.6h1.5v1.5h-1.5zM86.6 176.6h1.5v1.5h-1.5zM80.4 162.5h1.0v1.0h-1.0zM103.4 139.1h1.0v1.0h-1.0zM62.3 189.5h1.0v1.0h-1.0zM65.6 140.7h0.9v0.9h-0.9zM60.4 161.6h1.6v1.6h-1.6zM84.7 130.9h1.5v1.5h-1.5zM83.6 130.9h1.5v1.5h-1.5zM78.2 140.4h0.9v0.9h-0.9zM66.1 171.5h1.4v1.4h-1.4zM104.3 162.6h1.3v1.3h-1.3zM71.7 206.1h1.3v1.3h-1.3zM111.4 136.3h1.1v1.1h-1.1zM66.0 137.2h1.0v1.0h-1.0zM63.0 155.8h0.8v0.8h-0.8zM118.0 150.7h1.3v1.3h-1.3zM114.2 127.9h1.4v1.4h-1.4zM101.3 142.3h1.4v1.4h-1.4zM100.1 141.2h1.4v1.4h-1.4zM113.8 185.7h1.4v1.4h-1.4zM54.0 158.1h1.1v1.1h-1.1zM125.1 157.8h0.9v0.9h-0.9zM105.9 189.8h1.0v1.0h-1.0zM102.2 173.2h1.2v1.2h-1.2zM108.3 140.2h1.3v1.3h-1.3zM118.6 158.8h1.3v1.3h-1.3zM88.8 151.4h1.6v1.6h-1.6zM90.8 196.0h1.6v1.6h-1.6zM51.9 163.2h1.1v1.1h-1.1zM51.0 163.2h1.1v1.1h-1.1zM106.0 134.5h1.4v1.4h-1.4zM83.1 161.1h1.3v1.3h-1.3zM84.1 162.1h1.3v1.3h-1.3zM109.3 160.8h1.1v1.1h-1.1zM95.2 134.5h0.8v0.8h-0.8zM94.5 135.1h0.8v0.8h-0.8zM64.5 158.3h1.3v1.3h-1.3zM78.5 130.7h0.8v0.8h-0.8zM80.3 160.1h1.5v1.5h-1.5zM43.0 174.0h1.4v1.4h-1.4zM66.2 203.4h0.8v0.8h-0.8zM124.6 179.5h1.4v1.4h-1.4zM65.8 150.5h1.1v1.1h-1.1zM66.7 151.4h1.1v1.1h-1.1zM73.8 133.3h1.5v1.5h-1.5zM73.5 126.6h1.6v1.6h-1.6zM67.5 207.8h0.8v0.8h-0.8zM135.1 136.6h0.9v0.9h-0.9zM70.9 142.6h0.9v0.9h-0.9zM84.3 157.4h1.6v1.6h-1.6zM69.0 188.1h1.0v1.0h-1.0zM68.2 188.9h1.0v1.0h-1.0zM115.6 158.1h1.2v1.2h-1.2zM89.6 174.2h1.4v1.4h-1.4zM80.9 178.7h1.1v1.1h-1.1zM71.1 158.0h1.5v1.5h-1.5zM46.7 170.5h1.4v1.4h-1.4zM127.5 135.8h1.4v1.4h-1.4zM114.2 156.2h1.1v1.1h-1.1zM129.3 127.7h1.2v1.2h-1.2zM88.0 191.1h1.5v1.5h-1.5zM126.9 176.3h1.3v1.3h-1.3zM117.8 178.2h1.0v1.0h-1.0zM115.7 170.5h1.5v1.5h-1.5zM66.7 185.1h1.2v1.2h-1.2zM78.9 202.8h1.5v1.5h-1.5zM140.0 127.4h1.6v1.6h-1.6zM111.6 129.3h1.2v1.2h-1.2zM91.6 126.8h0.9v0.9h-0.9zM112.3 141.2h1.6v1.6h-1.6zM94.6 180.3h1.2v1.2h-1.2zM95.7 162.5h1.1v1.1h-1.1zM102.5 196.3h1.4v1.4h-1.4zM101.3 196.3h1.4v1.4h-1.4zM86.3 132.1h1.4v1.4h-1.4zM123.8 176.1h1.4v1.4h-1.4zM85.1 133.1h1.5v1.5h-1.5zM130.6 207.3h1.2v1.2h-1.2zM131.6 207.3h1.2v1.2h-1.2zM73.7 139.3h0.9v0.9h-0.9zM99.0 149.4h1.3v1.3h-1.3zM83.3 158.9h0.9v0.9h-0.9zM112.6 138.2h1.0v1.0h-1.0zM54.6 163.6h1.2v1.2h-1.2zM123.9 126.7h1.1v1.1h-1.1zM80.3 157.6h1.2v1.2h-1.2zM101.2 194.4h1.0v1.0h-1.0zM82.4 154.2h1.5v1.5h-1.5zM74.8 161.8h1.5v1.5h-1.5zM76.5 124.4h0.9v0.9h-0.9zM104.0 166.0h1.3v1.3h-1.3zM78.2 143.9h1.0v1.0h-1.0zM96.7 170.1h1.4v1.4h-1.4zM99.0 182.6h1.3v1.3h-1.3zM86.6 127.1h1.4v1.4h-1.4zM122.7 183.9h1.5v1.5h-1.5zM124.2 128.6h1.3v1.3h-1.3zM107.3 157.9h1.6v1.6h-1.6zM74.8 155.1h1.3v1.3h-1.3zM73.8 154.0h1.3v1.3h-1.3zM102.9 146.1h1.4v1.4h-1.4zM126.9 129.8h1.0v1.0h-1.0zM127.7 129.8h1.0v1.0h-1.0zM76.6 208.4h1.2v1.2h-1.2zM79.8 209.7h1.4v1.4h-1.4zM78.7 210.8h1.4v1.4h-1.4zM77.7 130.7h1.2v1.2h-1.2zM72.1 165.0h1.6v1.6h-1.6zM110.0 188.9h1.4v1.4h-1.4zM108.8 190.0h1.4v1.4h-1.4zM76.2 145.6h1.4v1.4h-1.4zM77.3 146.8h1.4v1.4h-1.4zM76.0 152.6h1.2v1.2h-1.2zM81.2 153.6h1.2v1.2h-1.2zM87.8 129.9h1.2v1.2h-1.2zM84.6 195.3h1.6v1.6h-1.6zM76.1 166.7h1.3v1.3h-1.3zM59.2 210.9h1.3v1.3h-1.3zM101.6 198.7h1.0v1.0h-1.0zM66.8 141.6h1.2v1.2h-1.2zM102.5 143.1h1.0v1.0h-1.0zM119.9 161.8h1.4v1.4h-1.4zM118.8 161.8h1.4v1.4h-1.4zM111.4 173.3h1.1v1.1h-1.1zM93.1 125.8h0.9v0.9h-0.9zM118.9 152.6h0.8v0.8h-0.8zM57.8 159.2h1.1v1.1h-1.1zM69.4 129.8h0.9v0.9h-0.9zM115.8 151.6h1.4v1.4h-1.4zM121.6 176.6h1.1v1.1h-1.1zM128.2 164.8h1.0v1.0h-1.0zM67.1 142.4h1.0v1.0h-1.0zM111.9 129.9h1.0v1.0h-1.0zM69.0 128.1h1.6v1.6h-1.6zM70.2 128.1h1.6v1.6h-1.6zM107.5 165.4h1.6v1.6h-1.6zM58.0 156.2h1.1v1.1h-1.1zM138.8 127.7h1.3v1.3h-1.3zM104.6 169.4h1.1v1.1h-1.1zM87.9 164.0h1.5v1.5h-1.5zM101.4 139.1h1.4v1.4h-1.4zM118.5 135.5h1.3v1.3h-1.3zM75.9 142.0h1.2v1.2h-1.2zM79.8 169.8h1.3v1.3h-1.3zM92.0 144.8h0.9v0.9h-0.9zM92.7 144.1h0.9v0.9h-0.9zM79.5 168.6h1.4v1.4h-1.4zM119.2 161.2h1.5v1.5h-1.5zM85.9 143.2h1.5v1.5h-1.5zM72.1 177.8h1.2v1.2h-1.2zM83.0 188.0h1.0v1.0h-1.0zM88.0 144.3h1.5v1.5h-1.5zM86.8 145.4h1.5v1.5h-1.5zM74.0 132.8h0.8v0.8h-0.8zM59.9 172.7h1.0v1.0h-1.0zM76.5 166.9h1.2v1.2h-1.2zM131.5 162.0h1.0v1.0h-1.0zM77.4 174.4h1.6v1.6h-1.6zM112.4 188.5h1.3v1.3h-1.3zM129.8 128.9h0.9v0.9h-0.9zM89.9 201.4h1.4v1.4h-1.4zM69.5 177.2h0.8v0.8h-0.8zM130.9 151.3h1.5v1.5h-1.5zM65.0 152.0h0.9v0.9h-0.9zM86.1 173.3h0.8v0.8h-0.8zM112.5 142.4h1.0v1.0h-1.0zM117.2 185.6h1.0v1.0h-1.0zM96.6 160.8h1.2v1.2h-1.2zM98.3 164.4h1.1v1.1h-1.1zM81.2 181.1h0.9v0.9h-0.9zM56.9 221.2h1.5v1.5h-1.5zM63.0 151.3h1.4v1.4h-1.4zM116.9 169.0h0.8v0.8h-0.8zM118.0 177.6h1.3v1.3h-1.3zM51.7 218.8h1.0v1.0h-1.0zM113.1 147.4h1.4v1.4h-1.4zM76.1 129.6h1.4v1.4h-1.4zM80.9 198.8h1.6v1.6h-1.6zM82.3 194.5h0.8v0.8h-0.8zM102.0 144.6h1.2v1.2h-1.2zM86.4 193.7h1.2v1.2h-1.2zM113.7 190.7h1.0v1.0h-1.0zM123.9 163.3h1.5v1.5h-1.5zM105.1 150.8h1.1v1.1h-1.1zM77.3 195.4h1.0v1.0h-1.0zM108.0 153.7h1.5v1.5h-1.5zM76.5 191.7h1.2v1.2h-1.2zM84.3 192.7h1.1v1.1h-1.1zM117.6 134.5h0.9v0.9h-0.9zM110.0 138.4h0.9v0.9h-0.9zM110.7 137.7h0.9v0.9h-0.9zM113.6 176.2h1.0v1.0h-1.0zM77.7 130.9h1.3v1.3h-1.3zM78.7 132.0h1.3v1.3h-1.3zM62.9 145.6h1.5v1.5h-1.5zM94.0 126.4h1.1v1.1h-1.1zM95.9 136.4h1.5v1.5h-1.5zM118.3 178.6h0.9v0.9h-0.9zM117.7 178.6h0.9v0.9h-0.9zM61.0 165.5h1.1v1.1h-1.1zM83.7 203.3h0.9v0.9h-0.9zM122.9 153.0h1.2v1.2h-1.2zM86.1 127.6h1.5v1.5h-1.5zM92.2 125.7h1.0v1.0h-1.0zM71.4 176.2h1.1v1.1h-1.1zM70.4 206.7h1.0v1.0h-1.0zM65.2 159.3h0.9v0.9h-0.9zM70.4 165.5h1.1v1.1h-1.1zM71.3 164.5h1.1v1.1h-1.1zM104.9 172.5h1.3v1.3h-1.3zM112.3 159.3h1.0v1.0h-1.0zM64.2 146.0h1.0v1.0h-1.0zM128.2 130.1h0.9v0.9h-0.9zM120.8 176.9h1.0v1.0h-1.0zM121.6 176.2h1.0v1.0h-1.0zM108.8 167.7h1.5v1.5h-1.5zM110.0 166.4h1.5v1.5h-1.5zM94.3 163.2h1.1v1.1h-1.1zM80.3 174.2h1.3v1.3h-1.3zM137.7 128.7h1.3v1.3h-1.3zM121.8 133.6h0.9v0.9h-0.9zM98.4 197.4h1.1v1.1h-1.1zM97.5 196.5h1.1v1.1h-1.1zM126.3 155.9h0.9v0.9h-0.9zM127.0 155.9h0.9v0.9h-0.9zM69.4 134.8h1.4v1.4h-1.4zM104.6 181.0h1.0v1.0h-1.0zM71.6 170.8h0.9v0.9h-0.9zM66.6 198.0h1.4v1.4h-1.4zM63.0 156.6h0.9v0.9h-0.9zM102.5 142.2h0.9v0.9h-0.9zM117.0 181.7h1.6v1.6h-1.6zM64.5 136.3h0.9v0.9h-0.9zM65.2 136.3h0.9v0.9h-0.9zM94.8 193.9h1.3v1.3h-1.3zM71.1 136.4h1.2v1.2h-1.2zM75.6 195.9h1.4v1.4h-1.4zM82.8 208.3h1.4v1.4h-1.4zM113.4 186.1h1.1v1.1h-1.1zM104.4 175.9h1.3v1.3h-1.3zM86.7 169.4h1.1v1.1h-1.1zM89.6 186.1h1.0v1.0h-1.0zM104.3 170.1h1.5v1.5h-1.5zM134.4 126.0h1.5v1.5h-1.5zM106.6 137.2h1.6v1.6h-1.6zM100.3 158.3h1.0v1.0h-1.0zM117.3 158.0h1.3v1.3h-1.3zM51.0 164.1h1.3v1.3h-1.3zM73.3 142.4h1.2v1.2h-1.2zM72.4 143.4h1.2v1.2h-1.2zM101.3 187.1h1.1v1.1h-1.1zM69.6 129.8h1.0v1.0h-1.0zM101.2 170.7h1.3v1.3h-1.3zM117.7 173.5h1.0v1.0h-1.0zM92.7 143.6h1.4v1.4h-1.4zM79.0 186.8h1.5v1.5h-1.5zM129.0 125.9h1.6v1.6h-1.6zM103.7 148.8h1.3v1.3h-1.3zM98.9 184.4h1.5v1.5h-1.5zM100.2 185.6h1.5v1.5h-1.5zM131.7 157.6h1.0v1.0h-1.0zM59.7 163.0h1.2v1.2h-1.2zM72.5 134.0h1.5v1.5h-1.5zM95.4 175.9h1.4v1.4h-1.4zM96.5 174.8h1.4v1.4h-1.4zM112.6 125.4h1.6v1.6h-1.6zM72.5 217.6h1.4v1.4h-1.4zM98.1 190.6h0.8v0.8h-0.8zM98.1 189.2h1.0v1.0h-1.0zM97.2 192.1h1.3v1.3h-1.3zM62.9 166.5h1.1v1.1h-1.1zM87.0 179.7h1.5v1.5h-1.5zM63.0 142.5h1.2v1.2h-1.2zM85.8 152.2h1.6v1.6h-1.6zM73.7 175.4h1.5v1.5h-1.5zM51.1 162.5h1.4v1.4h-1.4zM86.1 175.4h1.2v1.2h-1.2zM91.8 138.8h1.2v1.2h-1.2zM90.4 178.3h0.9v0.9h-0.9zM118.0 127.6h1.2v1.2h-1.2zM115.3 136.6h0.8v0.8h-0.8zM96.8 136.0h1.3v1.3h-1.3zM103.6 149.1h1.5v1.5h-1.5zM92.2 198.9h1.2v1.2h-1.2zM72.6 150.9h1.2v1.2h-1.2zM77.7 170.3h0.9v0.9h-0.9zM114.2 185.5h1.0v1.0h-1.0zM105.3 192.5h0.8v0.8h-0.8zM103.7 163.8h1.6v1.6h-1.6zM73.7 147.3h1.5v1.5h-1.5zM102.6 152.0h1.2v1.2h-1.2zM101.6 153.0h1.2v1.2h-1.2zM126.1 129.4h1.3v1.3h-1.3zM72.8 180.7h1.2v1.2h-1.2zM105.7 149.7h1.4v1.4h-1.4zM74.0 162.8h1.1v1.1h-1.1zM59.7 158.3h1.5v1.5h-1.5zM99.4 189.3h1.2v1.2h-1.2zM98.1 133.0h0.8v0.8h-0.8zM140.9 136.3h1.1v1.1h-1.1zM81.7 154.1h1.1v1.1h-1.1zM112.8 175.8h1.0v1.0h-1.0zM111.1 163.5h1.0v1.0h-1.0zM116.6 127.9h1.2v1.2h-1.2zM140.6 129.7h1.2v1.2h-1.2zM61.9 165.8h1.5v1.5h-1.5zM85.8 132.7h1.0v1.0h-1.0zM87.2 184.4h0.8v0.8h-0.8zM104.2 182.3h1.2v1.2h-1.2zM125.7 126.7h1.4v1.4h-1.4zM61.8 143.3h1.4v1.4h-1.4zM91.5 145.2h1.2v1.2h-1.2zM125.4 154.3h1.5v1.5h-1.5zM107.5 142.1h1.4v1.4h-1.4zM106.6 162.4h1.2v1.2h-1.2zM59.1 203.0h0.9v0.9h-0.9zM59.8 202.3h0.9v0.9h-0.9zM100.9 170.8h1.2v1.2h-1.2zM113.1 166.0h1.2v1.2h-1.2zM115.0 177.6h1.3v1.3h-1.3zM99.7 195.5h0.8v0.8h-0.8zM74.2 131.0h1.2v1.2h-1.2zM73.1 210.8h0.8v0.8h-0.8zM110.5 139.3h1.3v1.3h-1.3zM104.6 175.7h1.2v1.2h-1.2zM114.1 136.6h1.1v1.1h-1.1zM60.8 174.0h1.3v1.3h-1.3zM59.7 174.0h1.3v1.3h-1.3zM126.4 133.4h1.2v1.2h-1.2zM118.7 177.2h1.0v1.0h-1.0zM117.9 176.5h1.0v1.0h-1.0zM113.9 147.6h0.9v0.9h-0.9zM114.6 147.6h0.9v0.9h-0.9zM134.6 139.0h1.6v1.6h-1.6zM76.3 149.2h1.0v1.0h-1.0zM77.1 149.9h1.0v1.0h-1.0zM106.0 150.9h1.2v1.2h-1.2zM79.3 201.5h1.5v1.5h-1.5zM113.3 170.2h1.2v1.2h-1.2zM133.8 175.7h1.5v1.5h-1.5zM122.0 167.4h0.8v0.8h-0.8zM80.4 210.1h1.3v1.3h-1.3zM103.7 175.1h0.8v0.8h-0.8zM54.5 147.6h1.2v1.2h-1.2zM77.6 221.6h1.0v1.0h-1.0zM98.1 157.0h1.6v1.6h-1.6zM127.1 159.5h1.5v1.5h-1.5zM89.9 137.1h1.0v1.0h-1.0zM71.1 163.7h1.2v1.2h-1.2zM118.7 129.8h1.3v1.3h-1.3zM116.8 157.3h1.4v1.4h-1.4zM70.6 154.0h1.3v1.3h-1.3zM91.5 126.2h1.1v1.1h-1.1zM66.4 192.3h1.5v1.5h-1.5zM89.1 153.8h1.5v1.5h-1.5zM87.9 153.8h1.5v1.5h-1.5zM107.6 126.4h1.4v1.4h-1.4zM83.1 124.7h1.1v1.1h-1.1zM92.4 174.9h1.4v1.4h-1.4zM82.4 160.9h1.3v1.3h-1.3zM67.9 208.7h1.5v1.5h-1.5zM89.4 191.2h0.8v0.8h-0.8zM103.5 196.0h1.5v1.5h-1.5zM136.9 186.6h1.3v1.3h-1.3zM74.9 150.4h0.9v0.9h-0.9zM81.5 191.2h1.3v1.3h-1.3zM82.6 192.3h1.3v1.3h-1.3zM131.6 157.6h1.0v1.0h-1.0zM71.4 184.7h0.9v0.9h-0.9zM90.5 145.1h1.6v1.6h-1.6zM120.9 151.6h1.3v1.3h-1.3zM68.8 177.0h1.3v1.3h-1.3zM77.3 141.2h1.0v1.0h-1.0zM76.5 142.0h1.0v1.0h-1.0zM108.7 155.1h0.9v0.9h-0.9zM123.6 136.4h1.0v1.0h-1.0zM82.4 146.2h1.5v1.5h-1.5zM73.8 128.1h1.6v1.6h-1.6zM71.5 179.5h1.4v1.4h-1.4zM50.9 163.1h1.1v1.1h-1.1zM56.9 173.8h1.4v1.4h-1.4zM88.8 124.3h1.5v1.5h-1.5zM102.1 128.6h1.3v1.3h-1.3zM85.1 182.3h0.9v0.9h-0.9zM60.5 160.6h1.6v1.6h-1.6zM97.2 139.2h1.0v1.0h-1.0zM100.7 161.7h0.9v0.9h-0.9zM136.7 132.6h1.0v1.0h-1.0zM99.0 156.5h1.3v1.3h-1.3zM100.0 157.5h1.3v1.3h-1.3zM117.9 170.5h1.5v1.5h-1.5zM119.1 169.3h1.5v1.5h-1.5zM110.8 169.9h1.4v1.4h-1.4zM57.4 153.1h1.4v1.4h-1.4zM76.3 196.5h1.5v1.5h-1.5zM127.7 150.9h1.2v1.2h-1.2zM97.7 226.3h1.1v1.1h-1.1zM49.1 163.5h0.9v0.9h-0.9zM48.4 163.5h0.9v0.9h-0.9zM69.8 179.7h1.2v1.2h-1.2zM70.8 179.7h1.2v1.2h-1.2zM95.9 141.3h1.0v1.0h-1.0zM65.6 147.4h0.9v0.9h-0.9zM124.1 129.1h0.8v0.8h-0.8zM105.4 155.4h1.0v1.0h-1.0zM86.9 138.0h1.6v1.6h-1.6zM73.4 194.8h0.8v0.8h-0.8zM96.8 135.2h0.9v0.9h-0.9zM119.6 162.0h1.0v1.0h-1.0zM108.9 138.7h1.1v1.1h-1.1zM103.0 171.6h1.4v1.4h-1.4zM74.0 181.3h1.3v1.3h-1.3zM76.2 196.3h1.0v1.0h-1.0zM102.1 180.2h1.2v1.2h-1.2zM101.2 180.2h1.2v1.2h-1.2zM99.2 163.3h1.3v1.3h-1.3zM71.7 179.6h0.8v0.8h-0.8zM74.9 210.4h1.2v1.2h-1.2zM75.8 210.4h1.2v1.2h-1.2zM73.3 202.9h0.9v0.9h-0.9zM84.4 174.7h0.9v0.9h-0.9zM115.4 152.9h1.5v1.5h-1.5zM98.2 147.8h1.2v1.2h-1.2zM90.5 127.1h1.5v1.5h-1.5zM100.1 169.8h1.1v1.1h-1.1zM95.0 178.1h0.9v0.9h-0.9zM116.5 196.7h1.3v1.3h-1.3zM73.1 195.8h1.0v1.0h-1.0zM97.7 163.3h1.3v1.3h-1.3zM78.1 152.4h1.3v1.3h-1.3zM77.1 153.4h1.3v1.3h-1.3zM75.9 180.6h1.2v1.2h-1.2zM76.8 181.5h1.2v1.2h-1.2zM72.3 135.2h1.0v1.0h-1.0zM81.1 124.3h1.2v1.2h-1.2zM44.7 173.3h1.2v1.2h-1.2zM85.9 206.6h1.0v1.0h-1.0zM82.8 199.2h1.0v1.0h-1.0zM60.0 153.6h1.1v1.1h-1.1zM96.3 160.9h1.0v1.0h-1.0zM95.5 161.6h1.0v1.0h-1.0zM100.2 151.8h1.1v1.1h-1.1zM65.9 158.4h1.3v1.3h-1.3zM64.9 158.4h1.3v1.3h-1.3zM106.5 154.0h1.3v1.3h-1.3zM105.3 159.2h1.0v1.0h-1.0zM104.5 159.2h1.0v1.0h-1.0zM115.9 134.0h1.1v1.1h-1.1zM79.5 140.7h1.3v1.3h-1.3zM95.7 176.6h0.9v0.9h-0.9zM110.8 154.9h1.1v1.1h-1.1zM86.5 184.5h0.9v0.9h-0.9zM89.4 184.0h1.1v1.1h-1.1zM91.2 186.0h1.0v1.0h-1.0zM82.7 153.2h1.4v1.4h-1.4zM72.5 202.1h1.3v1.3h-1.3zM103.8 172.8h0.9v0.9h-0.9zM125.0 166.5h0.9v0.9h-0.9zM101.7 136.2h1.0v1.0h-1.0zM116.4 179.2h1.3v1.3h-1.3zM115.7 164.2h1.1v1.1h-1.1zM133.5 153.3h1.2v1.2h-1.2zM82.9 172.7h1.0v1.0h-1.0zM98.0 125.9h1.6v1.6h-1.6zM127.8 164.4h0.8v0.8h-0.8zM109.2 138.8h1.5v1.5h-1.5zM108.0 137.6h1.5v1.5h-1.5zM105.4 151.9h1.2v1.2h-1.2zM114.1 137.4h1.2v1.2h-1.2zM119.7 187.7h1.5v1.5h-1.5zM65.2 186.6h1.5v1.5h-1.5zM66.4 186.6h1.5v1.5h-1.5zM118.3 173.2h1.0v1.0h-1.0zM117.5 173.2h1.0v1.0h-1.0zM67.8 168.8h1.1v1.1h-1.1zM110.7 175.4h1.4v1.4h-1.4zM111.9 174.3h1.4v1.4h-1.4zM113.5 140.9h1.6v1.6h-1.6zM112.2 140.9h1.6v1.6h-1.6zM71.2 189.0h1.5v1.5h-1.5zM60.8 153.3h1.5v1.5h-1.5zM91.9 142.2h1.3v1.3h-1.3zM81.5 151.9h1.3v1.3h-1.3zM132.9 136.7h1.3v1.3h-1.3zM119.4 152.9h1.4v1.4h-1.4zM59.1 164.3h0.9v0.9h-0.9zM122.7 158.5h1.1v1.1h-1.1zM79.0 131.6h0.8v0.8h-0.8zM77.6 189.8h1.4v1.4h-1.4zM67.7 175.3h1.1v1.1h-1.1zM101.1 182.9h1.6v1.6h-1.6zM103.6 161.6h1.3v1.3h-1.3zM107.4 158.5h1.1v1.1h-1.1zM119.5 128.7h1.2v1.2h-1.2zM97.6 179.6h1.3v1.3h-1.3zM90.1 178.7h1.5v1.5h-1.5zM87.0 145.3h1.0v1.0h-1.0zM105.3 189.6h0.8v0.8h-0.8zM90.6 151.4h1.6v1.6h-1.6zM66.8 155.9h1.3v1.3h-1.3zM76.1 167.6h1.4v1.4h-1.4zM77.2 166.5h1.4v1.4h-1.4zM97.5 146.9h1.4v1.4h-1.4zM64.9 147.7h1.0v1.0h-1.0zM74.5 166.2h1.1v1.1h-1.1zM73.6 167.1h1.1v1.1h-1.1zM89.4 146.3h1.4v1.4h-1.4zM88.4 145.2h1.4v1.4h-1.4zM131.5 150.1h1.5v1.5h-1.5zM78.5 132.3h1.3v1.3h-1.3zM79.5 132.3h1.3v1.3h-1.3zM128.2 164.1h1.2v1.2h-1.2zM58.3 151.2h1.0v1.0h-1.0zM109.7 188.0h1.0v1.0h-1.0zM98.9 147.3h0.8v0.8h-0.8zM129.3 130.9h0.9v0.9h-0.9zM140.8 134.3h1.5v1.5h-1.5zM125.7 136.4h0.9v0.9h-0.9zM103.3 167.1h1.0v1.0h-1.0zM84.8 180.2h1.0v1.0h-1.0zM92.2 155.9h1.1v1.1h-1.1zM91.4 155.0h1.1v1.1h-1.1zM113.5 178.2h1.3v1.3h-1.3zM80.5 161.7h1.5v1.5h-1.5zM107.5 151.7h1.1v1.1h-1.1zM108.4 152.5h1.1v1.1h-1.1zM97.5 196.1h1.0v1.0h-1.0zM71.2 145.3h1.2v1.2h-1.2zM81.9 143.6h1.2v1.2h-1.2zM78.7 127.6h1.1v1.1h-1.1zM107.3 160.9h1.3v1.3h-1.3zM108.4 161.9h1.3v1.3h-1.3zM87.5 179.1h1.3v1.3h-1.3zM97.4 176.0h1.5v1.5h-1.5zM97.3 135.8h1.2v1.2h-1.2zM115.0 156.6h1.2v1.2h-1.2zM74.9 135.7h1.2v1.2h-1.2zM69.4 211.1h1.0v1.0h-1.0zM75.4 126.3h1.2v1.2h-1.2zM74.4 125.3h1.2v1.2h-1.2zM115.4 127.9h0.9v0.9h-0.9zM101.2 191.0h1.1v1.1h-1.1zM100.4 191.9h1.1v1.1h-1.1zM67.2 155.4h1.0v1.0h-1.0zM82.7 160.8h1.2v1.2h-1.2zM109.5 193.6h0.8v0.8h-0.8zM90.1 196.7h1.6v1.6h-1.6zM91.3 195.4h1.6v1.6h-1.6zM120.3 169.6h1.4v1.4h-1.4zM58.5 157.5h1.3v1.3h-1.3zM116.5 179.5h1.2v1.2h-1.2zM76.0 143.1h1.2v1.2h-1.2zM96.2 176.0h1.4v1.4h-1.4zM75.6 156.8h1.5v1.5h-1.5zM76.9 155.6h1.5v1.5h-1.5zM100.6 174.9h0.9v0.9h-0.9zM63.8 172.5h0.9v0.9h-0.9zM85.5 176.9h1.4v1.4h-1.4zM87.6 141.6h1.6v1.6h-1.6zM115.7 154.1h0.9v0.9h-0.9zM92.1 130.8h1.4v1.4h-1.4zM75.4 142.4h1.5v1.5h-1.5zM74.2 143.6h1.5v1.5h-1.5zM89.9 151.4h1.5v1.5h-1.5zM144.8 178.0h1.4v1.4h-1.4zM57.9 156.9h1.1v1.1h-1.1zM93.8 129.5h1.1v1.1h-1.1zM71.1 138.7h1.2v1.2h-1.2zM121.1 161.5h1.3v1.3h-1.3zM71.0 174.8h0.8v0.8h-0.8zM70.3 174.8h0.8v0.8h-0.8zM91.2 179.1h1.3v1.3h-1.3zM97.5 134.3h1.0v1.0h-1.0zM106.6 150.0h1.3v1.3h-1.3zM85.2 157.8h1.5v1.5h-1.5zM67.4 164.2h1.1v1.1h-1.1zM104.7 153.9h1.4v1.4h-1.4zM120.9 130.4h0.8v0.8h-0.8zM121.5 130.4h0.8v0.8h-0.8zM89.7 138.6h1.4v1.4h-1.4zM92.4 168.9h1.0v1.0h-1.0zM111.2 124.1h1.5v1.5h-1.5zM107.2 155.5h1.2v1.2h-1.2zM54.5 168.0h0.8v0.8h-0.8zM119.4 187.1h0.8v0.8h-0.8zM90.0 198.2h1.3v1.3h-1.3zM115.7 159.1h0.9v0.9h-0.9zM53.6 221.7h1.4v1.4h-1.4zM88.8 193.4h1.1v1.1h-1.1zM102.3 129.0h1.1v1.1h-1.1zM83.9 155.0h1.4v1.4h-1.4zM66.7 147.2h1.0v1.0h-1.0zM67.4 146.4h1.0v1.0h-1.0zM93.3 162.3h1.1v1.1h-1.1zM117.3 162.5h0.9v0.9h-0.9zM45.3 166.1h0.8v0.8h-0.8zM126.4 175.2h1.5v1.5h-1.5zM105.0 180.1h1.4v1.4h-1.4zM147.4 156.6h1.2v1.2h-1.2zM73.4 170.3h1.0v1.0h-1.0zM75.0 171.1h0.8v0.8h-0.8zM74.4 170.4h0.8v0.8h-0.8zM130.0 160.4h1.3v1.3h-1.3zM70.7 177.4h1.0v1.0h-1.0zM69.9 178.2h1.0v1.0h-1.0zM110.0 123.7h1.0v1.0h-1.0zM116.5 169.1h1.0v1.0h-1.0zM88.2 170.3h0.9v0.9h-0.9zM124.9 183.9h0.8v0.8h-0.8zM87.5 181.6h1.0v1.0h-1.0zM103.5 167.2h1.0v1.0h-1.0zM111.7 190.1h1.4v1.4h-1.4zM98.9 135.5h0.8v0.8h-0.8zM58.7 155.8h0.9v0.9h-0.9zM113.8 147.9h1.5v1.5h-1.5zM66.5 165.4h1.4v1.4h-1.4zM99.1 132.7h1.3v1.3h-1.3zM65.6 173.4h1.2v1.2h-1.2zM129.4 164.2h0.9v0.9h-0.9zM96.6 185.8h1.0v1.0h-1.0zM112.8 164.5h1.5v1.5h-1.5zM66.7 198.1h1.0v1.0h-1.0zM113.0 159.2h1.0v1.0h-1.0zM108.2 154.1h1.1v1.1h-1.1zM105.1 187.2h1.1v1.1h-1.1zM103.2 145.8h1.0v1.0h-1.0zM76.8 166.5h1.4v1.4h-1.4zM144.8 171.2h1.2v1.2h-1.2zM82.6 125.5h1.4v1.4h-1.4zM99.9 197.6h1.3v1.3h-1.3zM101.0 197.6h1.3v1.3h-1.3zM127.9 204.3h1.2v1.2h-1.2zM76.7 137.2h0.9v0.9h-0.9zM102.9 146.4h1.2v1.2h-1.2zM58.3 158.7h1.5v1.5h-1.5zM84.4 139.3h1.2v1.2h-1.2zM63.8 144.0h1.3v1.3h-1.3zM102.9 196.1h1.4v1.4h-1.4zM84.5 132.3h1.4v1.4h-1.4zM88.8 167.1h1.3v1.3h-1.3zM143.1 127.3h1.1v1.1h-1.1zM66.2 144.6h1.2v1.2h-1.2zM121.6 154.3h1.0v1.0h-1.0zM132.8 137.3h0.9v0.9h-0.9zM107.1 164.4h1.0v1.0h-1.0zM80.3 199.0h1.2v1.2h-1.2zM81.3 198.0h1.2v1.2h-1.2zM51.6 165.9h0.9v0.9h-0.9zM66.6 130.5h0.8v0.8h-0.8zM93.6 130.1h1.6v1.6h-1.6zM88.4 169.5h0.9v0.9h-0.9zM114.9 145.7h0.8v0.8h-0.8zM97.9 148.5h1.2v1.2h-1.2zM115.4 170.5h1.3v1.3h-1.3zM104.3 178.9h1.3v1.3h-1.3zM77.9 145.8h1.0v1.0h-1.0zM72.7 203.4h1.5v1.5h-1.5zM69.6 150.1h1.2v1.2h-1.2zM105.7 126.4h1.0v1.0h-1.0zM106.5 125.6h1.0v1.0h-1.0zM73.6 176.2h1.3v1.3h-1.3zM104.6 147.4h0.9v0.9h-0.9zM104.0 147.4h0.9v0.9h-0.9zM82.2 169.6h1.0v1.0h-1.0zM139.2 129.5h1.3v1.3h-1.3zM56.4 165.6h1.6v1.6h-1.6zM126.9 182.4h1.4v1.4h-1.4zM118.5 125.7h1.5v1.5h-1.5zM116.4 196.8h1.5v1.5h-1.5zM52.2 169.0h1.1v1.1h-1.1zM91.9 153.8h1.3v1.3h-1.3zM100.7 161.3h1.2v1.2h-1.2zM130.4 129.7h1.4v1.4h-1.4zM108.7 133.5h1.0v1.0h-1.0zM61.7 152.6h0.9v0.9h-0.9zM114.6 150.2h1.2v1.2h-1.2zM47.2 169.8h1.0v1.0h-1.0zM48.0 169.0h1.0v1.0h-1.0zM124.2 149.6h1.2v1.2h-1.2zM105.7 197.4h1.0v1.0h-1.0zM104.9 196.5h1.0v1.0h-1.0zM110.9 149.0h1.4v1.4h-1.4zM52.2 164.7h0.9v0.9h-0.9zM115.4 128.0h1.0v1.0h-1.0zM116.2 128.0h1.0v1.0h-1.0zM127.2 125.0h1.4v1.4h-1.4zM105.6 191.5h1.0v1.0h-1.0zM106.0 139.5h1.1v1.1h-1.1zM65.6 146.4h1.2v1.2h-1.2zM106.7 188.8h1.1v1.1h-1.1zM127.7 166.7h1.3v1.3h-1.3zM77.9 202.2h1.2v1.2h-1.2zM128.7 175.9h0.8v0.8h-0.8zM68.7 187.2h1.1v1.1h-1.1zM69.6 187.2h1.1v1.1h-1.1zM76.0 157.5h1.3v1.3h-1.3zM102.8 126.2h0.9v0.9h-0.9zM80.0 125.1h0.9v0.9h-0.9zM104.3 174.8h1.4v1.4h-1.4zM94.0 189.8h1.1v1.1h-1.1zM105.9 151.9h1.3v1.3h-1.3zM106.1 152.6h1.4v1.4h-1.4zM66.8 198.4h1.6v1.6h-1.6zM120.0 177.5h0.9v0.9h-0.9zM105.8 142.0h1.1v1.1h-1.1zM102.7 190.6h1.0v1.0h-1.0zM73.8 133.7h1.5v1.5h-1.5zM132.5 151.5h1.0v1.0h-1.0zM56.9 171.7h0.8v0.8h-0.8zM113.1 128.4h1.5v1.5h-1.5zM88.9 143.3h1.1v1.1h-1.1zM83.7 162.4h0.8v0.8h-0.8zM97.9 188.6h1.2v1.2h-1.2zM127.9 135.6h1.0v1.0h-1.0zM114.3 187.7h1.3v1.3h-1.3zM85.9 162.2h0.9v0.9h-0.9zM77.0 165.2h1.2v1.2h-1.2zM117.6 189.6h1.2v1.2h-1.2zM118.5 188.7h1.2v1.2h-1.2zM101.3 149.9h1.4v1.4h-1.4zM74.4 135.0h1.3v1.3h-1.3zM105.8 137.6h1.3v1.3h-1.3zM142.4 182.2h1.5v1.5h-1.5zM113.8 169.3h1.2v1.2h-1.2zM100.3 136.4h1.3v1.3h-1.3zM140.1 127.6h1.5v1.5h-1.5zM71.8 156.8h0.8v0.8h-0.8zM71.1 156.8h0.8v0.8h-0.8zM95.5 181.6h1.4v1.4h-1.4zM74.8 200.4h1.1v1.1h-1.1zM74.3 125.3h1.5v1.5h-1.5zM75.6 124.1h1.5v1.5h-1.5zM72.7 196.0h1.0v1.0h-1.0zM62.2 142.0h0.8v0.8h-0.8zM78.8 180.4h0.9v0.9h-0.9zM130.2 136.6h0.8v0.8h-0.8zM130.8 136.0h0.8v0.8h-0.8zM83.0 194.8h1.5v1.5h-1.5zM69.4 163.9h0.8v0.8h-0.8zM104.2 146.3h1.3v1.3h-1.3zM85.2 190.6h1.2v1.2h-1.2zM76.9 177.9h1.1v1.1h-1.1zM76.9 183.2h0.9v0.9h-0.9zM126.4 165.7h1.0v1.0h-1.0zM70.0 199.0h1.2v1.2h-1.2zM111.5 192.9h1.0v1.0h-1.0zM115.9 134.8h1.2v1.2h-1.2zM102.6 183.9h1.3v1.3h-1.3zM99.0 171.2h1.4v1.4h-1.4zM83.9 187.4h1.6v1.6h-1.6zM82.6 187.4h1.6v1.6h-1.6zM135.2 129.5h1.5v1.5h-1.5zM126.6 133.2h1.3v1.3h-1.3zM127.7 134.2h1.3v1.3h-1.3zM109.0 177.8h1.2v1.2h-1.2zM71.5 175.1h1.6v1.6h-1.6zM105.0 182.4h1.5v1.5h-1.5zM101.3 125.3h0.9v0.9h-0.9zM66.6 157.5h1.5v1.5h-1.5zM106.4 161.9h1.1v1.1h-1.1zM66.1 139.5h1.5v1.5h-1.5zM90.1 131.4h1.4v1.4h-1.4zM140.3 131.9h1.0v1.0h-1.0zM107.1 168.2h1.4v1.4h-1.4zM125.0 165.6h1.1v1.1h-1.1zM88.8 160.1h0.9v0.9h-0.9zM89.5 160.8h0.9v0.9h-0.9zM94.2 196.1h1.3v1.3h-1.3zM68.1 190.9h1.0v1.0h-1.0zM81.8 151.7h1.1v1.1h-1.1zM69.1 211.0h1.0v1.0h-1.0zM84.4 169.4h1.4v1.4h-1.4zM96.7 145.3h1.3v1.3h-1.3zM97.8 146.3h1.3v1.3h-1.3zM69.4 165.0h1.1v1.1h-1.1zM76.4 196.0h1.0v1.0h-1.0zM77.9 176.4h0.8v0.8h-0.8zM54.5 156.9h1.4v1.4h-1.4zM66.3 154.6h1.5v1.5h-1.5zM43.8 220.8h1.5v1.5h-1.5zM91.1 142.3h1.2v1.2h-1.2zM113.5 195.1h1.2v1.2h-1.2zM79.1 171.8h1.4v1.4h-1.4zM84.9 204.4h1.5v1.5h-1.5zM83.7 205.6h1.5v1.5h-1.5zM99.6 171.9h0.9v0.9h-0.9zM100.6 166.8h1.1v1.1h-1.1zM65.2 149.5h1.1v1.1h-1.1zM67.0 202.4h1.6v1.6h-1.6zM65.7 201.1h1.6v1.6h-1.6zM113.3 177.0h1.4v1.4h-1.4zM104.5 159.4h1.1v1.1h-1.1zM65.2 188.1h1.2v1.2h-1.2zM65.9 204.8h1.5v1.5h-1.5zM124.5 175.0h0.9v0.9h-0.9zM61.7 208.5h1.0v1.0h-1.0zM72.4 200.0h1.5v1.5h-1.5zM71.2 201.3h1.5v1.5h-1.5zM114.7 191.2h1.1v1.1h-1.1zM111.6 172.9h1.1v1.1h-1.1zM123.7 168.6h0.9v0.9h-0.9zM99.8 169.4h1.1v1.1h-1.1zM106.0 149.6h1.4v1.4h-1.4zM75.8 174.8h0.8v0.8h-0.8zM76.4 174.8h0.8v0.8h-0.8zM62.6 153.4h1.1v1.1h-1.1zM123.3 135.5h1.1v1.1h-1.1zM78.6 131.8h1.2v1.2h-1.2zM109.8 160.8h1.3v1.3h-1.3zM102.3 171.3h1.0v1.0h-1.0zM70.9 176.7h1.4v1.4h-1.4zM107.1 193.5h0.9v0.9h-0.9zM81.9 195.9h1.2v1.2h-1.2zM80.9 195.0h1.2v1.2h-1.2zM94.7 162.3h0.8v0.8h-0.8zM84.3 192.1h0.9v0.9h-0.9zM98.2 194.6h1.3v1.3h-1.3zM100.7 188.3h1.6v1.6h-1.6zM72.1 169.6h1.5v1.5h-1.5zM73.2 170.8h1.5v1.5h-1.5zM67.9 172.5h1.3v1.3h-1.3zM110.8 167.2h1.0v1.0h-1.0zM127.7 174.7h1.6v1.6h-1.6zM106.0 162.9h1.0v1.0h-1.0zM63.3 186.7h0.9v0.9h-0.9zM51.4 204.2h0.6v0.6h-0.6zM61.9 215.6h1.0v1.0h-1.0zM48.9 218.0h1.0v1.0h-1.0zM59.8 210.4h1.2v1.2h-1.2zM45.2 216.9h1.1v1.1h-1.1zM58.4 196.5h1.0v1.0h-1.0zM53.6 181.7h0.9v0.9h-0.9zM46.6 187.4h1.1v1.1h-1.1zM45.7 187.4h1.1v1.1h-1.1zM58.2 196.5h0.7v0.7h-0.7zM58.7 195.9h0.7v0.7h-0.7zM57.0 184.3h1.0v1.0h-1.0zM56.3 218.5h0.7v0.7h-0.7zM60.7 213.2h0.7v0.7h-0.7zM44.6 199.3h0.9v0.9h-0.9zM61.2 179.7h1.1v1.1h-1.1zM55.0 216.9h1.1v1.1h-1.1zM52.7 200.1h0.9v0.9h-0.9zM49.0 189.9h1.1v1.1h-1.1zM52.4 198.7h0.9v0.9h-0.9zM59.2 220.0h1.1v1.1h-1.1zM59.5 188.3h0.6v0.6h-0.6zM60.0 188.3h0.6v0.6h-0.6zM54.9 191.4h1.2v1.2h-1.2zM63.5 190.8h1.1v1.1h-1.1zM62.6 190.0h1.1v1.1h-1.1zM62.9 205.4h0.8v0.8h-0.8zM48.7 182.1h1.2v1.2h-1.2zM63.2 190.3h0.7v0.7h-0.7zM60.9 200.2h1.2v1.2h-1.2zM55.9 196.5h0.9v0.9h-0.9zM49.0 197.3h0.8v0.8h-0.8zM53.5 208.0h1.0v1.0h-1.0zM49.1 196.8h0.7v0.7h-0.7zM63.3 215.0h1.1v1.1h-1.1zM62.4 215.9h1.1v1.1h-1.1zM42.7 175.1h1.0v1.0h-1.0zM63.2 191.9h0.9v0.9h-0.9zM48.1 180.8h1.0v1.0h-1.0zM45.3 182.5h1.0v1.0h-1.0zM48.4 214.2h1.0v1.0h-1.0zM42.6 185.8h0.7v0.7h-0.7zM43.9 185.8h0.7v0.7h-0.7zM44.4 185.8h0.7v0.7h-0.7zM42.7 174.9h0.6v0.6h-0.6zM49.1 226.6h1.2v1.2h-1.2zM48.2 225.7h1.2v1.2h-1.2zM48.1 193.3h0.7v0.7h-0.7zM62.0 205.8h0.7v0.7h-0.7zM61.7 193.9h1.2v1.2h-1.2zM51.4 212.4h1.0v1.0h-1.0zM57.0 175.3h0.8v0.8h-0.8zM61.2 179.5h1.1v1.1h-1.1zM61.8 200.1h0.9v0.9h-0.9zM45.5 183.4h1.0v1.0h-1.0zM60.5 176.9h0.7v0.7h-0.7zM48.3 178.8h1.0v1.0h-1.0zM46.7 217.2h1.2v1.2h-1.2zM48.5 191.3h1.1v1.1h-1.1zM50.5 225.3h0.7v0.7h-0.7zM45.0 188.5h0.8v0.8h-0.8zM50.6 177.9h0.7v0.7h-0.7zM56.0 191.7h1.1v1.1h-1.1zM54.2 198.2h1.2v1.2h-1.2zM55.1 198.2h1.2v1.2h-1.2zM63.2 184.1h1.2v1.2h-1.2zM55.5 197.7h0.8v0.8h-0.8zM61.7 180.1h0.9v0.9h-0.9zM42.9 197.0h1.0v1.0h-1.0zM43.7 197.8h1.0v1.0h-1.0zM56.0 178.0h0.8v0.8h-0.8zM55.1 180.1h1.1v1.1h-1.1zM47.4 180.2h0.6v0.6h-0.6zM59.1 196.9h0.8v0.8h-0.8zM54.7 213.3h0.8v0.8h-0.8zM52.8 183.9h0.7v0.7h-0.7zM51.4 199.7h1.0v1.0h-1.0zM63.0 197.7h0.9v0.9h-0.9zM63.0 197.2h0.8v0.8h-0.8zM51.6 216.3h0.9v0.9h-0.9zM52.4 198.0h1.2v1.2h-1.2zM51.5 198.9h1.2v1.2h-1.2zM48.5 190.9h0.9v0.9h-0.9zM52.3 182.9h0.7v0.7h-0.7zM49.4 222.3h0.8v0.8h-0.8zM48.8 221.6h0.8v0.8h-0.8zM56.3 196.5h0.9v0.9h-0.9zM44.7 198.6h0.6v0.6h-0.6zM57.0 208.4h0.7v0.7h-0.7zM59.4 205.0h0.6v0.6h-0.6zM51.1 204.4h0.9v0.9h-0.9zM51.8 203.7h0.9v0.9h-0.9zM54.2 185.3h0.8v0.8h-0.8zM45.6 210.0h0.8v0.8h-0.8zM45.6 215.1h0.9v0.9h-0.9zM54.3 194.5h0.7v0.7h-0.7zM59.8 177.8h1.1v1.1h-1.1zM52.0 190.5h0.8v0.8h-0.8zM55.7 179.8h1.0v1.0h-1.0zM61.3 202.5h0.6v0.6h-0.6zM47.5 184.3h1.2v1.2h-1.2zM62.8 195.6h0.7v0.7h-0.7zM60.2 225.1h1.2v1.2h-1.2zM51.7 222.5h0.9v0.9h-0.9zM42.9 187.3h0.9v0.9h-0.9zM60.5 177.1h0.7v0.7h-0.7zM58.6 184.2h1.0v1.0h-1.0zM58.3 225.7h1.1v1.1h-1.1zM42.7 197.2h0.8v0.8h-0.8zM61.3 210.2h0.9v0.9h-0.9zM62.0 175.4h0.9v0.9h-0.9zM58.7 208.8h0.8v0.8h-0.8zM58.1 208.8h0.8v0.8h-0.8zM42.1 178.3h1.0v1.0h-1.0zM63.5 190.3h1.1v1.1h-1.1zM61.7 195.9h0.9v0.9h-0.9zM62.8 219.1h0.9v0.9h-0.9zM43.3 190.7h0.9v0.9h-0.9zM53.7 191.0h0.7v0.7h-0.7zM60.9 184.0h1.1v1.1h-1.1zM50.8 200.4h0.9v0.9h-0.9zM62.4 174.7h1.1v1.1h-1.1zM48.2 207.5h0.8v0.8h-0.8zM47.1 176.2h1.0v1.0h-1.0zM50.5 175.2h1.1v1.1h-1.1zM60.0 185.5h0.9v0.9h-0.9zM59.2 219.5h1.2v1.2h-1.2zM48.7 224.3h0.7v0.7h-0.7zM53.1 179.8h1.0v1.0h-1.0zM51.2 180.5h0.9v0.9h-0.9zM58.8 193.1h0.7v0.7h-0.7zM43.7 180.1h0.7v0.7h-0.7zM44.3 180.1h0.7v0.7h-0.7zM57.0 219.3h1.0v1.0h-1.0zM55.3 186.7h0.6v0.6h-0.6zM62.5 191.6h0.9v0.9h-0.9zM46.2 198.8h1.0v1.0h-1.0zM58.1 202.1h1.0v1.0h-1.0zM44.4 185.1h1.0v1.0h-1.0zM59.1 193.0h0.7v0.7h-0.7zM55.5 209.9h1.0v1.0h-1.0zM51.3 206.8h0.7v0.7h-0.7zM58.7 215.5h0.6v0.6h-0.6zM48.5 219.1h0.7v0.7h-0.7zM59.5 198.8h0.6v0.6h-0.6zM44.2 186.3h0.8v0.8h-0.8zM53.1 189.3h0.9v0.9h-0.9zM61.9 198.9h1.0v1.0h-1.0zM62.2 177.1h1.0v1.0h-1.0zM60.5 183.5h0.7v0.7h-0.7zM45.1 174.1h1.1v1.1h-1.1zM47.0 209.7h0.9v0.9h-0.9zM111.4 209.1h1.0v1.0h-1.0zM114.6 211.0h0.8v0.8h-0.8zM142.0 211.0h1.0v1.0h-1.0zM102.7 198.6h1.2v1.2h-1.2zM138.2 211.2h0.9v0.9h-0.9zM108.3 215.3h1.3v1.3h-1.3zM129.2 215.6h0.9v0.9h-0.9zM124.8 218.5h0.9v0.9h-0.9zM130.6 218.1h1.0v1.0h-1.0zM103.4 210.9h1.1v1.1h-1.1zM135.4 203.1h1.2v1.2h-1.2z"/><path fill="#fdb22a" d="M109.3 131.3h1.0v1.0h-1.0zM65.1 175.4h1.0v1.0h-1.0zM51.1 173.7h0.9v0.9h-0.9zM72.7 163.1h1.6v1.6h-1.6zM89.4 158.3h1.4v1.4h-1.4zM78.2 133.6h1.0v1.0h-1.0zM122.4 172.7h0.8v0.8h-0.8zM86.0 198.5h1.2v1.2h-1.2zM117.2 170.9h1.1v1.1h-1.1zM103.3 158.3h1.6v1.6h-1.6zM102.0 159.5h1.6v1.6h-1.6zM106.1 188.2h1.1v1.1h-1.1zM111.1 145.4h1.1v1.1h-1.1zM138.4 133.3h1.1v1.1h-1.1zM139.3 132.5h1.1v1.1h-1.1zM89.4 170.0h1.3v1.3h-1.3zM72.5 209.2h1.3v1.3h-1.3zM83.8 207.8h1.6v1.6h-1.6zM104.7 193.7h0.8v0.8h-0.8zM84.6 151.7h1.3v1.3h-1.3zM67.2 130.1h0.8v0.8h-0.8zM77.6 202.7h1.5v1.5h-1.5zM109.2 197.2h0.9v0.9h-0.9zM117.9 162.6h1.6v1.6h-1.6zM106.6 128.2h1.1v1.1h-1.1zM110.5 163.1h1.1v1.1h-1.1zM105.0 196.4h0.8v0.8h-0.8zM95.1 190.4h0.9v0.9h-0.9zM114.0 191.4h1.1v1.1h-1.1zM117.6 190.1h1.1v1.1h-1.1zM118.0 177.8h1.5v1.5h-1.5zM79.9 192.7h1.2v1.2h-1.2zM100.8 151.8h0.9v0.9h-0.9zM101.6 151.0h0.9v0.9h-0.9zM114.7 141.9h1.3v1.3h-1.3zM125.9 158.7h1.0v1.0h-1.0zM125.1 128.2h1.5v1.5h-1.5zM106.8 188.8h1.4v1.4h-1.4zM126.2 183.9h1.0v1.0h-1.0zM84.9 133.9h1.0v1.0h-1.0zM144.2 199.3h0.8v0.8h-0.8zM48.3 162.6h1.2v1.2h-1.2zM125.6 172.7h1.4v1.4h-1.4zM126.5 181.5h1.2v1.2h-1.2zM98.8 161.3h1.1v1.1h-1.1zM99.7 161.3h1.1v1.1h-1.1zM134.5 163.7h0.9v0.9h-0.9zM63.3 143.0h0.8v0.8h-0.8zM130.7 128.9h1.4v1.4h-1.4zM57.8 167.9h0.8v0.8h-0.8zM57.2 167.9h0.8v0.8h-0.8zM117.4 144.7h0.9v0.9h-0.9zM133.6 175.8h1.5v1.5h-1.5zM75.1 157.0h1.5v1.5h-1.5zM115.4 154.2h1.1v1.1h-1.1zM101.9 135.2h1.3v1.3h-1.3zM94.0 173.1h1.4v1.4h-1.4zM91.5 169.1h1.5v1.5h-1.5zM70.7 205.0h1.3v1.3h-1.3zM112.3 135.4h1.1v1.1h-1.1zM114.0 193.7h1.1v1.1h-1.1zM78.1 176.8h1.5v1.5h-1.5zM85.6 145.1h0.9v0.9h-0.9zM121.5 132.8h1.6v1.6h-1.6zM122.8 132.8h1.6v1.6h-1.6zM83.9 139.2h1.6v1.6h-1.6zM114.3 134.7h1.0v1.0h-1.0zM92.8 146.9h0.8v0.8h-0.8zM96.2 139.0h0.8v0.8h-0.8zM65.6 201.7h0.9v0.9h-0.9zM104.5 128.6h1.1v1.1h-1.1zM71.0 176.5h1.3v1.3h-1.3zM110.2 160.8h1.1v1.1h-1.1zM77.8 130.0h0.8v0.8h-0.8zM75.6 192.7h1.1v1.1h-1.1zM102.9 148.2h1.5v1.5h-1.5zM83.2 146.3h0.8v0.8h-0.8zM75.0 132.1h1.5v1.5h-1.5zM66.9 207.2h0.8v0.8h-0.8zM85.3 182.4h0.8v0.8h-0.8zM66.9 190.1h1.1v1.1h-1.1zM97.8 188.3h1.1v1.1h-1.1zM65.7 188.3h1.5v1.5h-1.5zM122.2 126.7h1.2v1.2h-1.2zM88.6 175.6h1.5v1.5h-1.5zM128.7 134.7h1.4v1.4h-1.4zM99.1 178.6h1.1v1.1h-1.1zM90.9 127.5h0.9v0.9h-0.9zM95.2 217.5h1.6v1.6h-1.6zM85.2 133.2h1.4v1.4h-1.4zM133.9 129.3h1.1v1.1h-1.1zM124.9 177.2h1.4v1.4h-1.4zM90.5 148.8h1.5v1.5h-1.5zM77.1 152.0h1.0v1.0h-1.0zM127.6 130.5h1.2v1.2h-1.2zM80.2 196.8h1.5v1.5h-1.5zM108.8 177.4h0.9v0.9h-0.9zM98.9 154.3h1.0v1.0h-1.0zM87.9 146.5h1.4v1.4h-1.4zM77.2 125.1h0.9v0.9h-0.9zM92.7 138.0h1.3v1.3h-1.3zM98.0 150.4h1.1v1.1h-1.1zM65.0 200.7h1.0v1.0h-1.0zM125.2 127.6h1.3v1.3h-1.3zM125.9 180.4h1.3v1.3h-1.3zM113.1 182.8h0.9v0.9h-0.9zM82.5 141.0h1.6v1.6h-1.6zM110.7 146.9h1.5v1.5h-1.5zM89.1 149.1h0.8v0.8h-0.8zM88.7 129.9h1.2v1.2h-1.2zM71.7 206.9h1.4v1.4h-1.4zM70.7 207.9h1.4v1.4h-1.4zM96.6 126.6h1.4v1.4h-1.4zM97.7 127.7h1.4v1.4h-1.4zM88.5 138.8h1.4v1.4h-1.4zM111.3 177.8h1.0v1.0h-1.0zM97.5 195.1h1.4v1.4h-1.4zM113.2 208.0h1.2v1.2h-1.2zM110.5 173.3h1.1v1.1h-1.1zM120.7 175.8h1.1v1.1h-1.1zM48.6 172.6h1.4v1.4h-1.4zM67.8 143.2h1.0v1.0h-1.0zM49.4 164.6h1.0v1.0h-1.0zM86.4 198.0h1.4v1.4h-1.4zM78.1 178.6h1.4v1.4h-1.4zM98.2 197.5h1.5v1.5h-1.5zM57.1 157.1h1.1v1.1h-1.1zM137.7 126.7h1.3v1.3h-1.3zM69.5 153.0h1.2v1.2h-1.2zM80.8 168.7h1.3v1.3h-1.3zM43.5 170.1h1.3v1.3h-1.3zM96.8 176.2h0.9v0.9h-0.9zM88.8 200.3h1.4v1.4h-1.4zM110.6 153.2h1.1v1.1h-1.1zM134.9 132.5h1.5v1.5h-1.5zM93.0 179.7h1.0v1.0h-1.0zM90.3 162.8h1.6v1.6h-1.6zM55.2 156.5h0.9v0.9h-0.9zM64.1 150.2h1.4v1.4h-1.4zM110.7 140.4h0.8v0.8h-0.8zM50.9 219.6h1.0v1.0h-1.0zM112.0 146.3h1.4v1.4h-1.4zM95.2 175.3h1.3v1.3h-1.3zM92.2 138.8h0.9v0.9h-0.9zM79.6 200.0h1.6v1.6h-1.6zM96.1 185.7h1.0v1.0h-1.0zM78.8 156.2h1.4v1.4h-1.4zM97.1 181.8h1.2v1.2h-1.2zM105.8 182.7h1.4v1.4h-1.4zM89.3 166.6h1.4v1.4h-1.4zM115.5 151.2h0.9v0.9h-0.9zM116.3 151.2h0.9v0.9h-0.9zM56.3 156.4h1.2v1.2h-1.2zM102.6 147.3h1.5v1.5h-1.5zM119.6 147.9h1.5v1.5h-1.5zM79.8 146.0h1.4v1.4h-1.4zM92.0 177.2h1.0v1.0h-1.0zM128.1 133.9h1.3v1.3h-1.3zM102.7 147.5h0.8v0.8h-0.8zM86.9 153.1h1.4v1.4h-1.4zM111.0 180.0h1.1v1.1h-1.1zM97.1 137.6h1.5v1.5h-1.5zM91.4 126.4h1.0v1.0h-1.0zM133.5 134.5h1.4v1.4h-1.4zM66.3 136.1h1.2v1.2h-1.2zM69.5 188.7h1.2v1.2h-1.2zM68.5 187.8h1.2v1.2h-1.2zM87.0 163.3h1.4v1.4h-1.4zM64.5 159.3h0.9v0.9h-0.9zM104.6 190.0h1.5v1.5h-1.5zM87.6 179.0h1.2v1.2h-1.2zM115.0 142.4h1.4v1.4h-1.4zM95.0 179.3h0.9v0.9h-0.9zM87.8 177.0h1.4v1.4h-1.4zM131.8 155.9h1.1v1.1h-1.1zM79.2 173.2h1.3v1.3h-1.3zM55.0 212.0h1.5v1.5h-1.5zM76.6 131.5h1.5v1.5h-1.5zM75.4 131.5h1.5v1.5h-1.5zM129.6 134.2h1.4v1.4h-1.4zM74.5 134.3h1.4v1.4h-1.4zM80.8 135.3h1.2v1.2h-1.2zM67.1 205.9h1.2v1.2h-1.2zM66.1 204.9h1.2v1.2h-1.2zM128.9 155.7h1.2v1.2h-1.2zM127.9 154.7h1.2v1.2h-1.2zM90.1 199.1h1.4v1.4h-1.4zM83.6 183.0h1.6v1.6h-1.6zM123.6 157.1h1.4v1.4h-1.4zM93.9 127.8h1.0v1.0h-1.0zM94.6 127.8h1.0v1.0h-1.0zM119.7 194.2h1.2v1.2h-1.2zM115.7 175.8h0.9v0.9h-0.9zM70.2 149.1h1.3v1.3h-1.3zM122.4 155.7h1.0v1.0h-1.0zM124.6 178.2h1.5v1.5h-1.5zM87.0 146.7h1.2v1.2h-1.2zM115.8 124.8h1.2v1.2h-1.2zM118.9 154.8h1.0v1.0h-1.0zM102.0 193.1h0.8v0.8h-0.8zM84.1 205.9h1.2v1.2h-1.2zM96.7 155.0h1.5v1.5h-1.5zM97.9 156.2h1.5v1.5h-1.5zM103.5 141.4h0.9v0.9h-0.9zM67.5 162.8h1.2v1.2h-1.2zM121.2 133.9h1.2v1.2h-1.2zM68.7 129.8h1.0v1.0h-1.0zM129.9 124.1h1.0v1.0h-1.0zM67.7 156.0h1.4v1.4h-1.4zM98.1 224.8h1.5v1.5h-1.5zM76.9 156.1h1.6v1.6h-1.6zM99.7 137.4h1.3v1.3h-1.3zM109.8 148.1h0.9v0.9h-0.9zM58.7 163.9h1.2v1.2h-1.2zM79.8 212.0h1.3v1.3h-1.3zM65.5 196.1h1.4v1.4h-1.4zM82.8 133.6h1.2v1.2h-1.2zM80.8 210.0h1.5v1.5h-1.5zM105.0 193.6h0.9v0.9h-0.9zM63.9 143.4h1.2v1.2h-1.2zM119.4 183.4h1.6v1.6h-1.6zM92.7 153.1h1.3v1.3h-1.3zM77.1 137.7h1.3v1.3h-1.3zM76.1 137.7h1.3v1.3h-1.3zM66.6 174.9h1.4v1.4h-1.4zM96.3 195.8h0.9v0.9h-0.9zM91.7 135.3h1.5v1.5h-1.5zM59.5 149.2h1.2v1.2h-1.2zM101.6 187.9h1.3v1.3h-1.3zM114.9 185.5h1.0v1.0h-1.0zM93.7 124.2h1.0v1.0h-1.0zM105.8 128.6h1.5v1.5h-1.5zM104.6 128.6h1.5v1.5h-1.5zM127.9 159.8h1.5v1.5h-1.5zM111.5 194.9h1.0v1.0h-1.0zM112.3 194.1h1.0v1.0h-1.0zM131.6 147.4h1.1v1.1h-1.1zM127.1 130.4h1.3v1.3h-1.3zM74.9 162.8h1.1v1.1h-1.1zM64.8 180.3h1.5v1.5h-1.5zM77.0 147.5h1.1v1.1h-1.1zM86.7 155.1h1.1v1.1h-1.1zM110.4 162.8h1.0v1.0h-1.0zM85.0 131.9h1.0v1.0h-1.0zM103.2 182.3h1.2v1.2h-1.2zM106.2 179.7h0.8v0.8h-0.8zM106.7 179.3h1.4v1.4h-1.4zM89.1 148.5h0.9v0.9h-0.9zM107.6 163.4h1.2v1.2h-1.2zM60.0 157.7h1.0v1.0h-1.0zM70.3 132.7h1.2v1.2h-1.2zM116.2 175.3h1.2v1.2h-1.2zM112.1 166.0h1.2v1.2h-1.2zM113.9 144.1h1.1v1.1h-1.1zM113.1 143.3h1.1v1.1h-1.1zM92.7 152.2h1.1v1.1h-1.1zM75.2 131.9h1.2v1.2h-1.2zM95.9 185.3h1.2v1.2h-1.2zM58.7 150.2h1.5v1.5h-1.5zM124.1 186.1h0.9v0.9h-0.9zM80.4 171.6h1.4v1.4h-1.4zM105.3 143.9h1.4v1.4h-1.4zM124.3 139.7h1.2v1.2h-1.2zM79.4 211.1h1.3v1.3h-1.3zM69.0 144.1h1.3v1.3h-1.3zM73.6 198.7h0.8v0.8h-0.8zM68.5 152.5h1.6v1.6h-1.6zM93.5 187.9h1.1v1.1h-1.1zM90.7 127.0h1.1v1.1h-1.1zM101.9 196.3h1.4v1.4h-1.4zM94.8 163.1h1.4v1.4h-1.4zM106.4 127.6h1.4v1.4h-1.4zM132.5 157.6h1.0v1.0h-1.0zM97.5 161.4h1.5v1.5h-1.5zM72.1 184.7h0.9v0.9h-0.9zM118.4 175.8h0.9v0.9h-0.9zM98.9 185.6h1.5v1.5h-1.5zM72.1 203.6h1.5v1.5h-1.5zM107.3 143.4h1.5v1.5h-1.5zM87.6 124.3h1.5v1.5h-1.5zM62.9 157.3h1.1v1.1h-1.1zM107.7 165.6h1.2v1.2h-1.2zM115.5 155.2h1.0v1.0h-1.0zM98.6 227.2h1.1v1.1h-1.1zM83.4 191.1h1.3v1.3h-1.3zM95.4 178.9h1.3v1.3h-1.3zM110.6 128.7h1.0v1.0h-1.0zM92.6 190.0h1.5v1.5h-1.5zM122.3 175.5h0.8v0.8h-0.8zM91.6 127.1h1.1v1.1h-1.1zM135.4 128.5h1.3v1.3h-1.3zM88.5 144.0h1.4v1.4h-1.4zM101.9 171.6h1.4v1.4h-1.4zM88.4 197.4h1.2v1.2h-1.2zM98.2 162.3h1.3v1.3h-1.3zM76.2 135.2h1.2v1.2h-1.2zM61.1 170.4h0.8v0.8h-0.8zM97.3 146.8h1.2v1.2h-1.2zM91.7 127.1h1.5v1.5h-1.5zM64.9 153.1h1.3v1.3h-1.3zM110.7 167.6h1.3v1.3h-1.3zM76.2 207.6h0.9v0.9h-0.9zM83.8 151.6h1.4v1.4h-1.4zM84.9 152.7h1.4v1.4h-1.4zM142.2 163.1h1.1v1.1h-1.1zM116.3 196.8h0.9v0.9h-0.9zM54.0 159.3h1.2v1.2h-1.2zM91.7 218.9h1.5v1.5h-1.5zM96.7 163.3h1.3v1.3h-1.3zM101.9 159.5h1.4v1.4h-1.4zM102.7 136.0h1.2v1.2h-1.2zM74.3 157.3h1.0v1.0h-1.0zM127.2 167.4h0.9v0.9h-0.9zM93.5 146.9h1.0v1.0h-1.0zM123.1 130.0h0.8v0.8h-0.8zM79.4 183.9h1.1v1.1h-1.1zM116.8 133.1h1.1v1.1h-1.1zM96.1 193.8h1.0v1.0h-1.0zM87.3 185.2h0.9v0.9h-0.9zM123.9 169.7h1.5v1.5h-1.5zM73.6 201.8h1.4v1.4h-1.4zM71.4 202.1h1.3v1.3h-1.3zM114.6 150.5h1.3v1.3h-1.3zM114.4 172.5h1.2v1.2h-1.2zM113.3 158.6h1.4v1.4h-1.4zM127.9 135.4h0.9v0.9h-0.9zM72.3 184.8h1.0v1.0h-1.0zM90.3 181.7h1.0v1.0h-1.0zM51.4 166.4h0.8v0.8h-0.8zM72.9 208.1h1.0v1.0h-1.0zM96.6 143.2h1.4v1.4h-1.4zM70.0 190.2h1.5v1.5h-1.5zM79.0 176.6h1.1v1.1h-1.1zM79.9 176.6h1.1v1.1h-1.1zM77.1 142.0h0.9v0.9h-0.9zM60.3 146.3h1.3v1.3h-1.3zM66.8 176.1h1.1v1.1h-1.1zM43.0 173.2h1.5v1.5h-1.5zM60.7 149.6h1.6v1.6h-1.6zM55.0 158.6h1.6v1.6h-1.6zM89.4 162.7h0.9v0.9h-0.9zM126.0 165.5h1.5v1.5h-1.5zM60.2 155.8h1.1v1.1h-1.1zM61.1 155.8h1.1v1.1h-1.1zM99.1 173.1h1.2v1.2h-1.2zM89.8 124.1h1.5v1.5h-1.5zM83.1 129.3h1.4v1.4h-1.4zM81.9 129.3h1.4v1.4h-1.4zM64.1 147.7h1.0v1.0h-1.0zM77.1 134.8h1.0v1.0h-1.0zM117.3 124.7h0.9v0.9h-0.9zM81.9 139.1h1.3v1.3h-1.3zM99.3 179.8h0.9v0.9h-0.9zM129.9 131.6h0.9v0.9h-0.9zM139.6 133.1h1.5v1.5h-1.5zM92.7 181.9h1.2v1.2h-1.2zM77.7 141.5h1.0v1.0h-1.0zM76.9 141.5h1.0v1.0h-1.0zM110.8 194.2h1.0v1.0h-1.0zM44.7 168.9h0.9v0.9h-0.9zM104.1 167.9h1.0v1.0h-1.0zM56.4 174.6h1.2v1.2h-1.2zM55.5 173.6h1.2v1.2h-1.2zM109.2 133.6h1.2v1.2h-1.2zM79.4 161.7h1.5v1.5h-1.5zM85.4 201.8h0.9v0.9h-0.9zM86.1 201.1h0.9v0.9h-0.9zM81.0 142.6h1.2v1.2h-1.2zM58.1 161.6h0.9v0.9h-0.9zM58.8 160.9h0.9v0.9h-0.9zM69.7 183.0h1.1v1.1h-1.1zM71.8 140.7h1.2v1.2h-1.2zM87.1 183.8h1.3v1.3h-1.3zM88.1 182.8h1.3v1.3h-1.3zM116.9 163.1h1.4v1.4h-1.4zM121.5 172.7h1.4v1.4h-1.4zM57.5 156.4h1.3v1.3h-1.3zM95.0 140.6h1.0v1.0h-1.0zM89.6 190.3h1.1v1.1h-1.1zM64.6 172.5h0.9v0.9h-0.9zM84.3 178.0h1.4v1.4h-1.4zM91.0 129.7h1.4v1.4h-1.4zM65.1 140.2h1.1v1.1h-1.1zM100.9 181.4h1.5v1.5h-1.5zM98.6 137.5h1.5v1.5h-1.5zM95.3 141.0h1.2v1.2h-1.2zM100.2 136.2h1.3v1.3h-1.3zM105.8 155.0h1.4v1.4h-1.4zM118.9 139.8h0.8v0.8h-0.8zM91.3 182.1h1.0v1.0h-1.0zM90.8 138.6h1.4v1.4h-1.4zM95.4 127.9h1.0v1.0h-1.0zM96.2 127.9h1.0v1.0h-1.0zM100.6 186.7h1.0v1.0h-1.0zM91.0 198.2h1.3v1.3h-1.3zM117.5 130.2h1.1v1.1h-1.1zM106.7 143.7h1.4v1.4h-1.4zM96.8 175.5h1.3v1.3h-1.3zM94.0 134.7h1.5v1.5h-1.5zM70.5 156.3h1.3v1.3h-1.3zM71.6 155.2h1.3v1.3h-1.3zM110.4 170.8h1.4v1.4h-1.4zM144.9 186.0h0.9v0.9h-0.9zM84.2 134.5h1.3v1.3h-1.3zM124.3 183.3h0.8v0.8h-0.8zM88.3 180.8h1.0v1.0h-1.0zM102.7 167.2h1.0v1.0h-1.0zM112.6 147.9h1.5v1.5h-1.5zM67.6 164.3h1.4v1.4h-1.4zM100.2 132.7h1.3v1.3h-1.3zM91.3 161.3h0.8v0.8h-0.8zM67.5 198.1h1.0v1.0h-1.0zM113.8 159.2h1.0v1.0h-1.0zM109.1 153.2h1.1v1.1h-1.1zM75.7 166.5h1.4v1.4h-1.4zM85.3 140.2h1.2v1.2h-1.2zM85.0 173.5h1.4v1.4h-1.4zM126.2 161.2h1.1v1.1h-1.1zM89.8 163.6h1.3v1.3h-1.3zM72.3 207.1h0.9v0.9h-0.9zM113.3 178.8h1.3v1.3h-1.3zM51.0 165.9h0.9v0.9h-0.9zM105.4 177.8h1.3v1.3h-1.3zM74.3 157.4h1.3v1.3h-1.3zM93.6 176.1h1.0v1.0h-1.0zM112.9 180.1h1.0v1.0h-1.0zM102.6 166.2h1.3v1.3h-1.3zM103.7 165.1h1.3v1.3h-1.3zM117.6 195.6h1.5v1.5h-1.5zM51.3 168.1h1.1v1.1h-1.1zM108.1 172.8h1.4v1.4h-1.4zM101.0 160.7h1.5v1.5h-1.5zM48.4 193.7h0.9v0.9h-0.9zM129.4 175.9h0.8v0.8h-0.8zM60.9 167.2h1.5v1.5h-1.5zM90.3 135.0h1.4v1.4h-1.4zM94.9 190.7h1.1v1.1h-1.1zM86.2 147.7h0.9v0.9h-0.9zM62.7 146.6h1.1v1.1h-1.1zM101.6 130.2h0.9v0.9h-0.9zM102.3 129.5h0.9v0.9h-0.9zM101.2 145.6h1.1v1.1h-1.1zM111.7 190.9h1.2v1.2h-1.2zM106.7 142.8h1.1v1.1h-1.1zM117.4 163.5h1.1v1.1h-1.1zM72.6 134.9h1.5v1.5h-1.5zM95.0 176.8h1.1v1.1h-1.1zM95.1 164.3h1.0v1.0h-1.0zM131.7 150.7h1.0v1.0h-1.0zM109.7 128.3h1.6v1.6h-1.6zM118.0 187.3h1.1v1.1h-1.1zM114.5 143.4h1.3v1.3h-1.3zM65.6 156.5h1.1v1.1h-1.1zM83.1 163.1h0.8v0.8h-0.8zM68.4 145.8h1.0v1.0h-1.0zM119.9 177.9h1.4v1.4h-1.4zM93.2 164.3h1.2v1.2h-1.2zM101.7 153.4h0.9v0.9h-0.9zM74.1 162.1h1.3v1.3h-1.3zM67.3 152.5h1.0v1.0h-1.0zM86.2 198.5h1.0v1.0h-1.0zM75.2 184.3h1.1v1.1h-1.1zM70.2 148.8h1.0v1.0h-1.0zM93.4 149.6h0.9v0.9h-0.9zM114.8 170.2h1.2v1.2h-1.2zM101.4 135.3h1.3v1.3h-1.3zM108.0 156.1h1.5v1.5h-1.5zM111.9 177.7h1.1v1.1h-1.1zM76.9 162.5h1.3v1.3h-1.3zM86.3 177.0h0.9v0.9h-0.9zM80.8 194.1h1.5v1.5h-1.5zM96.7 128.2h1.2v1.2h-1.2zM97.7 129.1h1.2v1.2h-1.2zM69.0 167.4h1.4v1.4h-1.4zM85.0 186.3h1.2v1.2h-1.2zM110.1 147.0h1.4v1.4h-1.4zM70.0 164.5h0.8v0.8h-0.8zM77.7 178.8h1.1v1.1h-1.1zM81.4 209.5h1.4v1.4h-1.4zM107.2 172.7h1.2v1.2h-1.2zM77.6 182.5h0.9v0.9h-0.9zM86.8 176.3h1.1v1.1h-1.1zM91.1 203.5h1.1v1.1h-1.1zM118.6 158.9h1.5v1.5h-1.5zM89.0 179.5h1.1v1.1h-1.1zM73.4 167.7h0.9v0.9h-0.9zM123.3 178.2h1.0v1.0h-1.0zM106.1 183.6h1.5v1.5h-1.5zM80.1 177.8h1.6v1.6h-1.6zM102.9 194.0h1.1v1.1h-1.1zM130.2 127.9h1.5v1.5h-1.5zM71.8 200.8h1.4v1.4h-1.4zM100.5 125.3h0.9v0.9h-0.9zM85.4 209.4h1.5v1.5h-1.5zM105.6 161.1h1.1v1.1h-1.1zM110.6 129.7h0.8v0.8h-0.8zM72.0 151.5h1.5v1.5h-1.5zM74.0 173.5h1.4v1.4h-1.4zM72.8 172.4h1.4v1.4h-1.4zM121.4 158.9h1.6v1.6h-1.6zM51.8 173.6h1.0v1.0h-1.0zM102.7 124.9h1.4v1.4h-1.4zM103.9 185.0h1.3v1.3h-1.3zM94.9 192.7h1.3v1.3h-1.3zM125.5 178.6h1.3v1.3h-1.3zM93.2 196.1h1.3v1.3h-1.3zM110.8 192.3h1.5v1.5h-1.5zM109.5 191.1h1.5v1.5h-1.5zM70.3 186.1h1.3v1.3h-1.3zM103.5 196.4h1.4v1.4h-1.4zM113.4 128.5h1.1v1.1h-1.1zM127.9 126.1h1.4v1.4h-1.4zM118.0 161.8h1.0v1.0h-1.0zM88.2 188.7h1.2v1.2h-1.2zM60.2 157.6h1.5v1.5h-1.5zM67.4 155.7h1.5v1.5h-1.5zM68.9 202.3h1.4v1.4h-1.4zM76.9 191.1h1.2v1.2h-1.2zM101.5 167.8h1.1v1.1h-1.1zM64.5 166.7h1.3v1.3h-1.3zM103.6 160.2h1.1v1.1h-1.1zM130.1 167.8h1.3v1.3h-1.3zM87.5 180.9h1.5v1.5h-1.5zM88.7 182.1h1.5v1.5h-1.5zM98.5 127.3h1.3v1.3h-1.3zM68.2 146.0h1.5v1.5h-1.5zM78.1 209.3h1.0v1.0h-1.0zM77.4 208.6h1.0v1.0h-1.0zM109.5 164.8h1.2v1.2h-1.2zM87.5 134.5h1.4v1.4h-1.4zM88.6 134.5h1.4v1.4h-1.4zM139.0 133.9h1.1v1.1h-1.1zM74.9 164.9h1.2v1.2h-1.2zM68.8 196.2h1.4v1.4h-1.4zM101.5 170.4h1.0v1.0h-1.0zM106.1 159.5h1.3v1.3h-1.3zM121.2 130.6h0.9v0.9h-0.9zM74.4 205.3h1.1v1.1h-1.1zM73.5 204.4h1.1v1.1h-1.1zM120.2 125.1h1.5v1.5h-1.5zM99.2 193.6h1.3v1.3h-1.3zM90.0 135.7h1.3v1.3h-1.3zM66.9 152.9h1.5v1.5h-1.5zM66.9 171.5h1.3v1.3h-1.3zM77.5 132.6h1.6v1.6h-1.6zM126.8 160.7h0.9v0.9h-0.9zM54.1 211.3h1.2v1.2h-1.2zM63.8 227.1h1.1v1.1h-1.1zM62.8 209.2h0.9v0.9h-0.9zM45.0 175.8h0.9v0.9h-0.9zM54.7 181.8h0.9v0.9h-0.9zM55.4 181.8h0.9v0.9h-0.9zM54.3 182.4h0.9v0.9h-0.9zM58.1 192.4h1.1v1.1h-1.1zM56.8 212.4h1.0v1.0h-1.0zM60.2 182.6h0.8v0.8h-0.8zM59.7 180.2h0.8v0.8h-0.8zM60.3 180.8h0.8v0.8h-0.8zM57.9 217.0h0.8v0.8h-0.8zM57.2 216.3h0.8v0.8h-0.8zM44.7 177.8h1.2v1.2h-1.2zM46.3 175.9h0.7v0.7h-0.7zM53.8 184.5h0.9v0.9h-0.9zM58.8 198.8h1.1v1.1h-1.1zM52.3 187.8h0.9v0.9h-0.9zM57.4 197.6h1.0v1.0h-1.0zM59.8 221.6h0.7v0.7h-0.7zM57.1 177.6h1.1v1.1h-1.1zM57.8 191.1h0.7v0.7h-0.7zM43.0 184.0h0.6v0.6h-0.6zM42.5 184.5h0.6v0.6h-0.6zM54.7 180.7h1.1v1.1h-1.1zM59.9 177.6h1.1v1.1h-1.1zM52.5 195.6h0.8v0.8h-0.8zM59.8 176.8h0.7v0.7h-0.7zM47.3 202.2h1.1v1.1h-1.1zM54.8 213.2h0.7v0.7h-0.7zM43.4 197.9h1.1v1.1h-1.1zM61.5 175.5h1.2v1.2h-1.2zM47.4 179.2h0.8v0.8h-0.8zM63.2 201.3h1.0v1.0h-1.0zM55.6 203.9h1.1v1.1h-1.1zM49.2 190.4h1.2v1.2h-1.2zM58.7 179.2h0.8v0.8h-0.8zM55.8 221.2h0.7v0.7h-0.7zM56.4 221.8h0.7v0.7h-0.7zM61.8 181.3h0.7v0.7h-0.7zM57.8 200.9h0.7v0.7h-0.7zM57.2 201.5h0.7v0.7h-0.7zM51.1 177.4h0.7v0.7h-0.7zM58.3 227.6h0.7v0.7h-0.7zM57.7 201.8h1.1v1.1h-1.1zM60.1 188.1h0.8v0.8h-0.8zM55.5 204.2h0.6v0.6h-0.6zM60.1 190.0h0.8v0.8h-0.8zM55.1 175.3h0.9v0.9h-0.9zM55.4 214.0h0.8v0.8h-0.8zM46.7 183.9h0.6v0.6h-0.6zM50.6 200.5h1.0v1.0h-1.0zM44.3 181.1h0.7v0.7h-0.7zM46.2 176.3h0.8v0.8h-0.8zM43.0 195.9h1.1v1.1h-1.1zM59.7 193.6h0.8v0.8h-0.8zM55.6 196.5h0.9v0.9h-0.9zM55.5 213.7h1.2v1.2h-1.2zM52.6 175.5h0.7v0.7h-0.7zM58.2 225.5h0.7v0.7h-0.7zM54.0 207.3h0.8v0.8h-0.8zM61.5 177.5h0.9v0.9h-0.9zM56.5 184.3h0.6v0.6h-0.6zM49.2 185.0h1.0v1.0h-1.0zM44.6 182.1h0.9v0.9h-0.9zM53.6 176.7h0.8v0.8h-0.8zM42.8 182.3h1.1v1.1h-1.1zM50.8 203.7h1.2v1.2h-1.2zM61.5 174.7h1.1v1.1h-1.1zM57.7 197.9h1.0v1.0h-1.0zM47.0 184.2h0.8v0.8h-0.8zM60.5 215.9h0.6v0.6h-0.6zM45.4 203.4h0.9v0.9h-0.9zM59.0 199.3h0.6v0.6h-0.6zM54.7 216.4h0.9v0.9h-0.9zM97.2 216.9h1.0v1.0h-1.0zM140.7 204.9h1.0v1.0h-1.0zM128.8 203.7h1.3v1.3h-1.3zM106.8 200.4h1.0v1.0h-1.0z"/><rect x="41.5" y="123.5" width="107" height="106" fill="none" stroke="#5a5a5a" stroke-width="1"/><line x1="37" y1="174.3" x2="41" y2="174.3" stroke="#777" stroke-width="1" /><text x="33.4" y="177.6" font-size="9" font-weight="bold" text-anchor="end" fill="#000" stroke="#000" stroke-width="0.25" >38.25°N</text><line x1="65.4" y1="230" x2="65.4" y2="234" stroke="#777" stroke-width="1" /><text x="65.4" y="245.0" font-size="9" font-weight="bold" text-anchor="middle" fill="#000" stroke="#000" stroke-width="0.25" >27.00°E</text><line x1="125" y1="230" x2="125" y2="234" stroke="#777" stroke-width="1" /><text x="125.0" y="245.0" font-size="9" font-weight="bold" text-anchor="middle" fill="#000" stroke="#000" stroke-width="0.25" >27.05°E</text><text x="44.6" y="136.3" font-size="14.5" font-weight="normal" text-anchor="start" fill="#000" stroke="#000" stroke-width="0.25" >2</text><rect x="438.0" y="7.0" width="108.0" height="103.0" fill="#d5eed1" /><rect x="439.0" y="8.0" width="26.0" height="4.0" fill="#c3e1ea" /><rect x="465.0" y="8.0" width="9.0" height="4.0" fill="#5dadde" /><rect x="474.0" y="8.0" width="20.0" height="4.0" fill="#9fd0e6" /><rect x="494.0" y="8.0" width="6.0" height="4.0" fill="#9fd0e6" /><rect x="500.0" y="8.0" width="8.0" height="4.0" fill="#5dadde" /><rect x="508.0" y="8.0" width="14.0" height="4.0" fill="#2a8bd6" /><rect x="522.0" y="8.0" width="19.0" height="4.0" fill="#9fd0e6" /><rect x="439.0" y="12.0" width="7.0" height="4.5" fill="#c3e1ea" /><rect x="446.0" y="12.0" width="19.0" height="4.5" fill="#9fd0e6" /><rect x="465.0" y="12.0" width="9.0" height="4.5" fill="#5dadde" /><rect x="474.0" y="12.0" width="20.0" height="4.5" fill="#9fd0e6" /><rect x="494.0" y="12.0" width="10.0" height="4.5" fill="#5dadde" /><rect x="504.0" y="12.0" width="18.0" height="4.5" fill="#2a8bd6" /><rect x="522.0" y="12.0" width="5.0" height="4.5" fill="#9fd0e6" /><rect x="439.0" y="16.5" width="7.0" height="4.5" fill="#5dadde" /><rect x="446.0" y="16.5" width="48.0" height="4.5" fill="#9fd0e6" /><rect x="494.0" y="16.5" width="14.0" height="4.5" fill="#2a8bd6" /><rect x="508.0" y="16.5" width="14.0" height="4.5" fill="#5dadde" /><rect x="439.0" y="21.0" width="26.0" height="4.5" fill="#2a8bd6" /><rect x="465.0" y="21.0" width="9.0" height="4.5" fill="#9fd0e6" /><rect x="474.0" y="21.0" width="9.0" height="4.5" fill="#2a8bd6" /><rect x="483.0" y="21.0" width="11.0" height="4.5" fill="#9fd0e6" /><rect x="494.0" y="21.0" width="4.0" height="15.0" fill="#2a8bd6" /><rect x="498.0" y="21.0" width="6.0" height="15.0" fill="#0c68c8" /><rect x="504.0" y="21.0" width="4.0" height="15.0" fill="#2a8bd6" /><rect x="508.0" y="21.0" width="4.0" height="15.0" fill="#9fd0e6" /><rect x="439.0" y="25.5" width="21.0" height="4.5" fill="#c3e1ea" /><rect x="488.0" y="25.5" width="6.0" height="9.5" fill="#c3e1ea" /><polyline points="441.0,16.0 457.6,25.6 464.0,30.5 477.0,37.4 483.0,40.5 490.0,45.0" fill="none" stroke="#f9b43a" stroke-width="1.0" stroke-linejoin="round" stroke-linecap="round" stroke-dasharray="3 1"/><polyline points="490.0,45.5 497.6,52.0 505.0,60.0 511.0,67.5 515.0,72.0 519.0,76.3 521.0,83.5 522.0,88.7 523.2,95.0 526.3,103.2 531.5,107.4" fill="none" stroke="#f2281c" stroke-width="1.1" stroke-linejoin="round" stroke-linecap="round" stroke-dasharray="7 1.5 4 1"/><polyline points="489.0,43.5 493.0,47.0" fill="none" stroke="#f2281c" stroke-width="1.6" stroke-linejoin="round" stroke-linecap="round" /><polyline points="503.5,50.7 510.0,55.5 517.0,61.0" fill="none" stroke="#f5502a" stroke-width="0.9" stroke-linejoin="round" stroke-linecap="round" stroke-dasharray="3 1.2"/><polyline points="531.5,8.0 536.6,25.5 520.6,68.0 506.6,102.2 504.5,109.0" fill="none" stroke="#f6b440" stroke-width="1.0" stroke-linejoin="round" stroke-linecap="round" /><polyline points="471.0,38.0 473.5,36.5" fill="none" stroke="#f2281c" stroke-width="1.2" stroke-linejoin="round" stroke-linecap="round" /><polyline points="461.0,41.0 464.0,44.0" fill="none" stroke="#f2281c" stroke-width="1.1" stroke-linejoin="round" stroke-linecap="round" /><polyline points="473.0,49.5 480.0,47.0" fill="none" stroke="#f2281c" stroke-width="1.3" stroke-linejoin="round" stroke-linecap="round" /><ellipse cx="478.5" cy="48" rx="2" ry="1.2" fill="#f2281c"/><polyline points="510.7,45.0 514.0,44.2 517.0,46.0" fill="none" stroke="#f2281c" stroke-width="1.6" stroke-linejoin="round" stroke-linecap="round" /><polyline points="523.0,48.5 526.5,47.0" fill="none" stroke="#f2281c" stroke-width="1.5" stroke-linejoin="round" stroke-linecap="round" /><polyline points="456.5,108.0 459.5,102.0 463.5,98.5" fill="none" stroke="#f2281c" stroke-width="1.1" stroke-linejoin="round" stroke-linecap="round" /><polyline points="481.0,108.0 488.0,105.0" fill="none" stroke="#f5502a" stroke-width="1.1" stroke-linejoin="round" stroke-linecap="round" /><polyline points="510.7,107.0 513.8,109.0" fill="none" stroke="#f2281c" stroke-width="1.1" stroke-linejoin="round" stroke-linecap="round" /><polyline points="520.0,94.0 522.0,98.0 525.0,97.0 523.5,94.5" fill="none" stroke="#f2281c" stroke-width="1.0" stroke-linejoin="round" stroke-linecap="round" /><ellipse cx="505.8" cy="90.3" rx="3.5" ry="2.6" fill="#f2281c"/><ellipse cx="507.5" cy="104" rx="2.6" ry="3" fill="#ffe40a"/><path fill="#f2281c" d="M499.3 92.9h1.0v1.0h-1.0zM506.7 89.9h1.0v1.0h-1.0zM510.3 92.3h1.6v1.6h-1.6zM507.0 93.5h1.5v1.5h-1.5zM506.2 96.6h1.0v1.0h-1.0zM511.8 90.1h1.3v1.3h-1.3zM498.8 92.7h1.3v1.3h-1.3zM500.1 90.9h1.4v1.4h-1.4zM508.0 89.3h1.3v1.3h-1.3zM510.4 89.1h1.4v1.4h-1.4zM510.0 90.8h1.2v1.2h-1.2zM504.5 89.8h1.3v1.3h-1.3zM505.1 90.3h1.2v1.2h-1.2zM508.7 92.4h1.3v1.3h-1.3zM507.9 87.5h1.5v1.5h-1.5zM503.5 86.6h1.3v1.3h-1.3zM503.0 92.5h1.2v1.2h-1.2zM501.9 90.1h0.8v0.8h-0.8zM507.4 90.5h1.1v1.1h-1.1zM501.4 90.9h0.9v0.9h-0.9zM499.4 87.3h1.4v1.4h-1.4zM503.3 95.3h1.1v1.1h-1.1zM508.9 92.3h1.0v1.0h-1.0zM508.8 100.8h1.3v1.3h-1.3zM503.7 106.7h1.0v1.0h-1.0zM503.7 101.8h1.0v1.0h-1.0zM504.5 105.5h0.8v0.8h-0.8zM502.4 103.8h1.2v1.2h-1.2zM506.5 106.6h1.5v1.5h-1.5zM507.0 105.5h1.3v1.3h-1.3zM516.6 105.3h1.4v1.4h-1.4zM508.1 103.9h1.2v1.2h-1.2zM510.9 104.9h1.0v1.0h-1.0zM508.8 103.8h1.4v1.4h-1.4zM506.5 103.3h1.1v1.1h-1.1zM507.4 105.7h1.5v1.5h-1.5zM504.5 102.6h0.8v0.8h-0.8zM497.6 62.1h0.9v0.9h-0.9zM501.9 58.9h1.1v1.1h-1.1zM500.0 57.3h0.9v0.9h-0.9zM501.3 57.1h1.1v1.1h-1.1zM505.0 63.8h1.2v1.2h-1.2zM504.0 57.3h1.1v1.1h-1.1zM500.4 60.4h1.1v1.1h-1.1zM502.1 63.5h1.3v1.3h-1.3zM540.4 73.4h1.0v1.0h-1.0zM537.6 75.8h0.9v0.9h-0.9zM538.6 75.6h1.2v1.2h-1.2zM538.8 70.8h1.1v1.1h-1.1zM538.7 69.0h0.9v0.9h-0.9zM481.1 92.6h1.0v1.0h-1.0zM489.7 85.6h1.0v1.0h-1.0zM481.7 88.7h1.1v1.1h-1.1zM487.6 82.6h0.6v0.6h-0.6zM470.7 90.6h0.6v0.6h-0.6zM493.7 94.7h0.8v0.8h-0.8zM495.6 85.0h1.2v1.2h-1.2zM493.1 101.9h0.9v0.9h-0.9zM493.6 94.8h0.7v0.7h-0.7zM495.5 86.4h0.8v0.8h-0.8zM494.5 86.5h0.6v0.6h-0.6zM494.7 102.3h0.9v0.9h-0.9zM487.8 97.4h0.8v0.8h-0.8zM499.3 77.7h1.0v1.0h-1.0zM486.5 91.4h1.2v1.2h-1.2zM489.9 100.4h1.2v1.2h-1.2zM498.8 75.6h1.1v1.1h-1.1zM498.5 89.9h1.2v1.2h-1.2zM501.8 84.0h0.9v0.9h-0.9zM483.5 35.5h1.4v1.4h-1.4zM470.5 41.5h1.4v1.4h-1.4zM481.0 44.5h1.4v1.4h-1.4zM446.5 48.0h1.4v1.4h-1.4zM454.5 48.5h1.4v1.4h-1.4zM454.5 51.0h1.4v1.4h-1.4zM448.0 53.5h1.4v1.4h-1.4zM513.8 52.8h1.4v1.4h-1.4zM523.0 53.8h1.4v1.4h-1.4zM522.0 58.0h1.4v1.4h-1.4zM519.0 41.4h1.4v1.4h-1.4zM540.8 49.2h1.4v1.4h-1.4zM486.0 21.0h1.4v1.4h-1.4zM498.0 60.0h1.4v1.4h-1.4zM515.0 72.3h0.7v0.7h-0.7zM541.2 97.8h0.7v0.7h-0.7zM439.2 82.0h1.0v1.0h-1.0z"/><path fill="#fd9a2a" d="M502.0 89.4h1.0v1.0h-1.0zM502.3 86.8h1.3v1.3h-1.3zM504.7 88.6h0.9v0.9h-0.9zM511.1 93.5h1.2v1.2h-1.2zM511.3 91.3h0.9v0.9h-0.9zM514.1 88.3h1.1v1.1h-1.1zM505.4 93.5h0.9v0.9h-0.9zM504.2 87.8h1.2v1.2h-1.2zM504.8 91.5h1.0v1.0h-1.0zM502.7 84.9h1.0v1.0h-1.0zM505.1 96.7h0.8v0.8h-0.8zM510.7 87.8h1.2v1.2h-1.2zM505.9 101.8h1.3v1.3h-1.3zM508.6 103.6h1.5v1.5h-1.5zM506.3 106.5h1.4v1.4h-1.4zM505.8 105.7h1.6v1.6h-1.6zM512.2 103.1h1.0v1.0h-1.0zM507.6 106.0h0.8v0.8h-0.8zM509.2 102.2h1.0v1.0h-1.0zM508.8 103.2h1.2v1.2h-1.2zM506.2 107.3h1.0v1.0h-1.0zM504.4 105.4h1.4v1.4h-1.4zM512.7 104.6h1.3v1.3h-1.3zM501.3 58.5h1.4v1.4h-1.4zM504.3 64.3h0.8v0.8h-0.8zM504.2 57.1h0.8v0.8h-0.8zM500.0 51.4h1.0v1.0h-1.0zM501.3 64.9h1.1v1.1h-1.1zM508.2 64.4h0.9v0.9h-0.9zM501.6 57.5h1.0v1.0h-1.0zM499.0 63.7h1.0v1.0h-1.0zM502.7 61.6h0.9v0.9h-0.9zM506.4 64.1h1.0v1.0h-1.0zM498.4 59.4h1.2v1.2h-1.2zM497.5 63.3h1.2v1.2h-1.2zM537.2 69.2h1.2v1.2h-1.2zM539.8 70.6h1.3v1.3h-1.3zM539.3 74.9h0.8v0.8h-0.8zM541.1 73.0h0.8v0.8h-0.8zM542.0 70.3h1.1v1.1h-1.1zM540.0 70.3h0.9v0.9h-0.9zM536.6 74.8h0.9v0.9h-0.9zM537.8 72.1h0.8v0.8h-0.8zM536.4 67.8h1.1v1.1h-1.1zM542.8 73.1h0.7v0.7h-0.7zM538.9 74.4h0.8v0.8h-0.8zM538.0 76.0h1.0v1.0h-1.0zM538.6 71.8h1.0v1.0h-1.0zM475.3 87.6h0.9v0.9h-0.9zM474.8 84.9h0.9v0.9h-0.9zM479.1 81.3h0.7v0.7h-0.7zM490.2 87.8h1.0v1.0h-1.0zM477.4 87.3h1.0v1.0h-1.0zM479.0 87.6h0.7v0.7h-0.7zM481.9 91.5h1.0v1.0h-1.0zM498.7 85.2h0.7v0.7h-0.7zM492.4 89.9h0.9v0.9h-0.9zM490.3 89.2h1.1v1.1h-1.1zM493.8 95.7h0.8v0.8h-0.8zM496.1 85.7h1.0v1.0h-1.0zM496.4 75.2h0.9v0.9h-0.9zM491.9 89.0h0.7v0.7h-0.7zM484.6 98.4h1.2v1.2h-1.2zM495.8 91.8h1.1v1.1h-1.1zM493.1 84.3h0.7v0.7h-0.7zM499.6 97.8h0.8v0.8h-0.8zM441.0 46.0h1.4v1.4h-1.4zM480.5 67.5h1.4v1.4h-1.4zM446.3 85.3h1.1v1.1h-1.1zM457.8 37.8h0.9v0.9h-0.9zM509.1 102.2h0.9v0.9h-0.9zM454.6 70.7h1.1v1.1h-1.1zM440.1 69.5h0.8v0.8h-0.8zM467.3 73.8h0.6v0.6h-0.6zM460.2 49.3h0.8v0.8h-0.8zM471.0 26.5h0.7v0.7h-0.7zM525.9 58.4h0.7v0.7h-0.7zM505.7 47.1h1.0v1.0h-1.0zM468.1 95.4h0.7v0.7h-0.7zM493.8 87.9h0.7v0.7h-0.7zM501.5 69.4h0.8v0.8h-0.8z"/><path fill="#ffe40a" d="M502.9 88.9h1.3v1.3h-1.3zM509.7 85.6h1.2v1.2h-1.2zM504.5 89.8h0.8v0.8h-0.8zM513.7 89.2h1.3v1.3h-1.3zM510.2 90.3h1.6v1.6h-1.6zM509.7 104.7h1.5v1.5h-1.5zM506.3 99.5h1.3v1.3h-1.3zM501.7 101.7h1.0v1.0h-1.0zM504.7 104.6h1.3v1.3h-1.3zM503.8 100.6h1.1v1.1h-1.1zM508.0 105.0h1.4v1.4h-1.4zM506.8 102.8h0.9v0.9h-0.9zM510.8 99.9h1.5v1.5h-1.5zM508.9 104.8h1.0v1.0h-1.0zM505.7 107.7h1.2v1.2h-1.2zM502.6 103.8h1.3v1.3h-1.3zM507.4 101.5h1.0v1.0h-1.0zM509.7 108.1h0.9v0.9h-0.9zM507.6 106.7h1.2v1.2h-1.2zM509.7 95.2h0.8v0.8h-0.8zM506.8 104.9h1.0v1.0h-1.0zM508.6 107.6h1.1v1.1h-1.1zM507.9 103.1h1.5v1.5h-1.5zM505.5 107.1h1.4v1.4h-1.4zM506.4 102.9h1.3v1.3h-1.3zM510.4 107.4h0.9v0.9h-0.9zM509.3 105.1h1.6v1.6h-1.6zM502.3 103.2h1.6v1.6h-1.6zM501.7 59.3h1.0v1.0h-1.0zM496.7 56.5h0.9v0.9h-0.9zM498.8 59.6h1.2v1.2h-1.2zM502.6 54.4h0.7v0.7h-0.7zM500.2 63.2h1.0v1.0h-1.0zM507.4 59.4h1.2v1.2h-1.2zM499.1 57.7h1.3v1.3h-1.3zM498.0 61.4h1.0v1.0h-1.0zM506.5 58.7h0.9v0.9h-0.9zM509.2 53.1h1.3v1.3h-1.3zM505.1 54.0h1.2v1.2h-1.2zM503.0 61.2h0.7v0.7h-0.7zM507.3 58.5h1.1v1.1h-1.1zM501.0 59.2h1.0v1.0h-1.0zM501.0 62.9h1.3v1.3h-1.3zM503.5 61.6h1.3v1.3h-1.3zM503.4 59.2h0.8v0.8h-0.8zM507.3 64.1h0.7v0.7h-0.7zM498.8 61.2h0.7v0.7h-0.7zM503.7 63.3h1.0v1.0h-1.0zM452.5 55.0h1.4v1.4h-1.4zM476.3 77.7h0.7v0.7h-0.7zM467.5 73.9h0.8v0.8h-0.8zM491.3 46.7h0.8v0.8h-0.8zM496.6 33.2h0.8v0.8h-0.8zM512.8 49.6h1.0v1.0h-1.0zM477.7 85.7h0.9v0.9h-0.9z"/><path fill="#f8c8a8" d="M476.6 88.6h0.7v0.7h-0.7zM486.2 88.8h0.7v0.7h-0.7zM485.5 86.7h0.8v0.8h-0.8zM471.9 91.5h0.8v0.8h-0.8zM490.3 85.7h0.6v0.6h-0.6zM485.6 82.8h0.7v0.7h-0.7zM483.1 88.2h1.0v1.0h-1.0zM475.4 96.5h0.7v0.7h-0.7zM480.4 99.2h0.6v0.6h-0.6zM495.2 89.3h1.1v1.1h-1.1z"/><path fill="#f6a08a" d="M462.0 34.5h1.4v1.4h-1.4zM450.5 67.0h1.4v1.4h-1.4z"/><path fill="#f8c0a0" d="M498.6 38.2h0.8v0.8h-0.8zM457.4 58.6h0.8v0.8h-0.8zM458.3 43.1h0.9v0.9h-0.9zM499.2 61.4h0.8v0.8h-0.8zM449.1 54.9h1.1v1.1h-1.1zM502.6 85.5h1.0v1.0h-1.0zM463.6 88.6h0.9v0.9h-0.9zM503.5 15.6h0.7v0.7h-0.7zM454.2 49.5h0.8v0.8h-0.8zM478.0 54.1h1.0v1.0h-1.0zM477.0 23.5h0.8v0.8h-0.8z"/><rect x="438.5" y="7.5" width="107" height="102" fill="none" stroke="#5a5a5a" stroke-width="1"/><line x1="434" y1="24.2" x2="438" y2="24.2" stroke="#777" stroke-width="1" /><text x="430.4" y="27.5" font-size="9" font-weight="bold" text-anchor="end" fill="#000" stroke="#000" stroke-width="0.25" >38.1°N</text><line x1="489.6" y1="110" x2="489.6" y2="114" stroke="#777" stroke-width="1" /><text x="489.6" y="124.6" font-size="9" font-weight="bold" text-anchor="middle" fill="#000" stroke="#000" stroke-width="0.25" >27.4°E</text><text x="442.6" y="20.3" font-size="14.5" font-weight="normal" text-anchor="start" fill="#000" stroke="#000" stroke-width="0.25" >7</text><rect x="438.0" y="129.0" width="108.0" height="103.0" fill="#d5eed1" /><rect x="538.7" y="130.0" width="6.3" height="12.5" fill="#7cbfe0" /><rect x="543.4" y="135.0" width="1.6" height="12.6" fill="#3a90d0" /><ellipse cx="444" cy="149.5" rx="2.2" ry="1.3" fill="#f2281c" transform="rotate(-20 444 149.5)"/><ellipse cx="457" cy="147" rx="1.3" ry="1.3" fill="#f2281c" transform="rotate(0 457 147)"/><ellipse cx="523.5" cy="195.5" rx="2.0" ry="1.2" fill="#f2281c" transform="rotate(-30 523.5 195.5)"/><ellipse cx="485.5" cy="214" rx="1.5" ry="1.8" fill="#f2281c" transform="rotate(0 485.5 214)"/><path fill="#f2281c" d="M439.0 151.1h1.3v1.3h-1.3zM439.3 151.7h1.0v1.0h-1.0zM444.8 148.1h1.4v1.4h-1.4zM443.8 148.5h1.2v1.2h-1.2zM441.6 150.4h1.2v1.2h-1.2zM439.0 151.5h1.2v1.2h-1.2zM439.3 151.3h1.2v1.2h-1.2zM446.3 146.9h1.3v1.3h-1.3zM444.1 148.8h1.3v1.3h-1.3zM442.4 149.2h1.0v1.0h-1.0zM440.7 149.5h1.1v1.1h-1.1zM445.8 147.0h1.3v1.3h-1.3zM443.6 148.0h1.2v1.2h-1.2zM441.4 150.3h1.3v1.3h-1.3zM442.5 149.6h1.1v1.1h-1.1zM440.1 150.6h1.2v1.2h-1.2zM439.2 151.3h1.4v1.4h-1.4zM443.9 152.0h1.0v1.0h-1.0zM444.0 152.4h0.9v0.9h-0.9zM442.1 152.9h1.2v1.2h-1.2zM444.0 150.5h1.1v1.1h-1.1zM444.6 151.7h0.9v0.9h-0.9zM444.9 150.8h1.0v1.0h-1.0zM444.8 150.9h1.1v1.1h-1.1zM453.5 150.0h0.9v0.9h-0.9zM454.0 150.2h1.1v1.1h-1.1zM455.4 147.9h0.9v0.9h-0.9zM453.8 149.8h1.0v1.0h-1.0zM455.1 148.8h1.2v1.2h-1.2zM454.1 150.0h1.2v1.2h-1.2zM455.5 148.8h1.0v1.0h-1.0zM471.6 135.6h1.1v1.1h-1.1zM463.7 136.0h0.9v0.9h-0.9zM468.4 136.1h0.8v0.8h-0.8zM472.5 144.6h1.6v1.6h-1.6zM498.6 157.8h1.0v1.0h-1.0zM500.9 157.0h1.1v1.1h-1.1zM497.1 157.5h1.2v1.2h-1.2zM495.5 158.2h1.4v1.4h-1.4zM499.7 157.9h1.1v1.1h-1.1zM499.5 158.1h1.2v1.2h-1.2zM497.0 158.0h1.4v1.4h-1.4zM499.9 157.9h1.2v1.2h-1.2zM501.9 159.5h1.0v1.0h-1.0zM501.0 159.4h1.4v1.4h-1.4zM502.8 158.8h1.2v1.2h-1.2zM504.4 159.6h1.5v1.5h-1.5zM504.0 158.5h1.5v1.5h-1.5zM502.5 159.1h1.4v1.4h-1.4zM502.5 159.6h1.5v1.5h-1.5zM502.7 159.1h1.3v1.3h-1.3zM502.3 158.5h1.5v1.5h-1.5zM500.6 159.5h1.1v1.1h-1.1zM503.3 158.9h1.4v1.4h-1.4zM508.4 161.2h1.6v1.6h-1.6zM513.6 158.2h1.6v1.6h-1.6zM514.6 157.1h2.0v2.0h-2.0zM509.8 159.8h1.6v1.6h-1.6zM511.7 159.9h2.3v2.3h-2.3zM506.9 160.6h2.1v2.1h-2.1zM513.0 158.7h1.6v1.6h-1.6zM507.2 160.9h1.6v1.6h-1.6zM509.9 159.1h2.1v2.1h-2.1zM508.3 157.9h1.6v1.6h-1.6zM508.8 159.6h2.1v2.1h-2.1zM510.6 160.3h1.8v1.8h-1.8zM509.3 159.9h2.2v2.2h-2.2zM509.3 161.3h1.9v1.9h-1.9zM508.1 160.0h2.1v2.1h-2.1zM512.6 158.4h1.8v1.8h-1.8zM512.0 158.2h1.6v1.6h-1.6zM506.5 159.6h1.6v1.6h-1.6zM505.9 159.9h1.9v1.9h-1.9zM510.2 159.2h2.1v2.1h-2.1zM510.6 159.1h2.2v2.2h-2.2zM513.2 156.9h2.0v2.0h-2.0zM513.9 158.9h1.7v1.7h-1.7zM512.8 158.5h2.2v2.2h-2.2zM514.2 159.2h2.1v2.1h-2.1zM512.9 158.8h1.9v1.9h-1.9zM511.8 159.3h1.7v1.7h-1.7zM507.8 160.0h2.1v2.1h-2.1zM500.0 153.5h0.9v0.9h-0.9zM497.7 154.0h0.8v0.8h-0.8zM499.1 154.0h1.2v1.2h-1.2zM503.4 153.9h0.9v0.9h-0.9zM505.2 153.2h1.1v1.1h-1.1zM499.9 153.4h0.8v0.8h-0.8zM503.7 153.2h1.1v1.1h-1.1zM499.0 153.5h0.9v0.9h-0.9zM504.1 153.4h1.1v1.1h-1.1zM508.0 155.8h0.9v0.9h-0.9zM506.8 155.2h1.0v1.0h-1.0zM508.2 155.6h0.9v0.9h-0.9zM505.8 155.6h1.1v1.1h-1.1zM506.5 155.7h1.2v1.2h-1.2zM508.8 154.9h0.9v0.9h-0.9zM509.5 154.6h1.0v1.0h-1.0zM506.0 156.5h1.2v1.2h-1.2zM510.7 154.8h1.3v1.3h-1.3zM510.3 154.6h1.1v1.1h-1.1zM520.8 143.2h1.2v1.2h-1.2zM520.3 142.4h1.2v1.2h-1.2zM519.2 142.2h1.0v1.0h-1.0zM518.8 141.6h1.0v1.0h-1.0zM516.9 141.6h1.1v1.1h-1.1zM517.1 141.8h1.2v1.2h-1.2zM519.0 141.4h1.3v1.3h-1.3zM520.5 142.4h1.1v1.1h-1.1zM528.4 140.6h1.3v1.3h-1.3zM525.9 143.2h1.2v1.2h-1.2zM527.8 140.4h1.2v1.2h-1.2zM530.2 139.5h1.0v1.0h-1.0zM526.2 143.0h1.0v1.0h-1.0zM523.3 145.7h1.2v1.2h-1.2zM524.3 146.2h0.9v0.9h-0.9zM524.7 144.6h0.9v0.9h-0.9zM527.7 141.3h1.3v1.3h-1.3zM524.4 144.2h1.1v1.1h-1.1zM523.9 145.3h1.2v1.2h-1.2zM531.5 137.8h1.0v1.0h-1.0zM527.9 140.9h0.9v0.9h-0.9zM531.8 137.4h1.3v1.3h-1.3zM531.3 138.2h1.3v1.3h-1.3zM527.9 141.3h1.0v1.0h-1.0zM530.6 137.7h1.2v1.2h-1.2zM526.0 143.4h0.8v0.8h-0.8zM526.4 144.5h1.1v1.1h-1.1zM524.8 145.2h1.3v1.3h-1.3zM526.6 144.6h1.2v1.2h-1.2zM532.5 137.3h1.0v1.0h-1.0zM527.1 135.3h0.9v0.9h-0.9zM528.0 140.3h0.8v0.8h-0.8zM532.2 139.6h1.3v1.3h-1.3zM525.8 138.2h1.1v1.1h-1.1zM529.2 141.9h1.3v1.3h-1.3zM530.0 143.5h0.9v0.9h-0.9zM521.5 148.0h1.6v1.6h-1.6zM526.7 153.2h1.1v1.1h-1.1zM522.9 159.2h1.3v1.3h-1.3zM525.4 154.6h1.2v1.2h-1.2zM524.8 156.6h1.0v1.0h-1.0zM518.0 163.2h0.8v0.8h-0.8zM474.9 169.7h1.4v1.4h-1.4zM447.4 171.2h1.4v1.4h-1.4zM476.2 170.0h1.6v1.6h-1.6zM451.6 172.4h1.1v1.1h-1.1zM444.0 171.7h1.5v1.5h-1.5zM468.6 170.9h1.1v1.1h-1.1zM462.3 172.2h1.3v1.3h-1.3zM467.5 171.2h1.3v1.3h-1.3zM468.9 171.0h1.4v1.4h-1.4zM453.4 172.6h1.3v1.3h-1.3zM452.9 173.0h1.6v1.6h-1.6zM463.8 171.3h1.4v1.4h-1.4zM474.6 171.0h1.4v1.4h-1.4zM467.3 170.0h1.5v1.5h-1.5zM461.7 172.0h1.2v1.2h-1.2zM463.3 170.5h1.4v1.4h-1.4zM474.4 170.8h1.3v1.3h-1.3zM466.1 171.7h1.3v1.3h-1.3zM462.1 172.2h1.5v1.5h-1.5zM451.7 171.5h1.3v1.3h-1.3zM442.7 172.5h1.6v1.6h-1.6zM471.3 170.1h1.5v1.5h-1.5zM450.1 172.5h1.3v1.3h-1.3zM442.7 172.6h1.5v1.5h-1.5zM464.9 171.2h1.1v1.1h-1.1zM454.2 172.6h1.5v1.5h-1.5zM442.1 171.8h1.4v1.4h-1.4zM452.9 171.5h1.6v1.6h-1.6zM445.5 171.8h1.6v1.6h-1.6zM456.6 171.6h1.6v1.6h-1.6zM442.3 171.5h1.4v1.4h-1.4zM447.6 170.8h1.4v1.4h-1.4zM447.4 170.7h1.6v1.6h-1.6zM447.0 171.5h1.1v1.1h-1.1zM453.4 171.4h1.4v1.4h-1.4zM463.2 170.3h1.1v1.1h-1.1zM447.0 170.7h1.1v1.1h-1.1zM451.6 170.9h1.1v1.1h-1.1zM465.6 171.8h1.6v1.6h-1.6zM475.7 169.5h1.1v1.1h-1.1zM459.1 172.5h1.4v1.4h-1.4zM447.8 170.8h1.2v1.2h-1.2zM474.9 170.2h1.2v1.2h-1.2zM452.9 172.7h1.3v1.3h-1.3zM473.6 169.9h1.5v1.5h-1.5zM474.6 169.9h1.5v1.5h-1.5zM452.2 172.0h1.5v1.5h-1.5zM447.5 171.2h1.5v1.5h-1.5zM446.5 170.8h1.2v1.2h-1.2zM453.7 172.6h1.6v1.6h-1.6zM463.7 171.7h1.2v1.2h-1.2zM444.0 172.3h1.2v1.2h-1.2zM472.9 170.4h1.1v1.1h-1.1zM463.5 171.6h1.4v1.4h-1.4zM462.3 170.8h1.1v1.1h-1.1zM460.7 171.2h1.5v1.5h-1.5zM443.3 171.9h1.1v1.1h-1.1zM468.4 170.9h1.1v1.1h-1.1zM458.6 171.7h1.4v1.4h-1.4zM472.9 171.2h1.6v1.6h-1.6zM468.2 171.4h1.6v1.6h-1.6zM472.2 170.8h1.3v1.3h-1.3zM466.9 170.9h1.6v1.6h-1.6zM443.5 171.1h1.1v1.1h-1.1zM442.2 171.7h1.5v1.5h-1.5zM447.1 170.7h1.1v1.1h-1.1zM452.2 176.6h1.2v1.2h-1.2zM454.0 177.1h1.0v1.0h-1.0zM450.9 174.4h1.3v1.3h-1.3zM453.4 175.9h1.1v1.1h-1.1zM450.5 174.6h1.1v1.1h-1.1zM448.4 171.6h1.1v1.1h-1.1zM451.0 175.3h1.2v1.2h-1.2zM451.9 176.1h1.3v1.3h-1.3zM452.8 175.6h1.1v1.1h-1.1zM454.7 178.6h1.0v1.0h-1.0zM448.9 173.7h1.0v1.0h-1.0zM449.0 172.0h1.1v1.1h-1.1zM449.8 173.9h1.4v1.4h-1.4zM453.1 178.3h1.0v1.0h-1.0zM454.2 178.0h1.2v1.2h-1.2zM455.3 174.6h0.8v0.8h-0.8zM458.2 173.7h1.0v1.0h-1.0zM461.0 175.7h0.9v0.9h-0.9zM454.2 169.5h1.1v1.1h-1.1zM454.3 173.0h0.7v0.7h-0.7zM446.3 181.6h0.7v0.7h-0.7zM450.0 176.5h1.0v1.0h-1.0zM450.5 176.5h0.9v0.9h-0.9zM451.0 178.7h1.1v1.1h-1.1zM451.3 172.1h0.8v0.8h-0.8zM453.8 175.9h1.2v1.2h-1.2zM451.4 174.7h1.0v1.0h-1.0zM449.3 174.5h1.4v1.4h-1.4zM483.0 181.2h1.0v1.0h-1.0zM481.6 181.7h0.9v0.9h-0.9zM484.1 181.3h1.1v1.1h-1.1zM483.2 182.7h1.0v1.0h-1.0zM484.8 180.5h0.9v0.9h-0.9zM484.2 180.7h1.3v1.3h-1.3zM480.7 182.8h1.1v1.1h-1.1zM481.6 182.2h1.1v1.1h-1.1zM485.0 180.0h1.3v1.3h-1.3zM482.2 182.7h0.9v0.9h-0.9zM483.7 181.3h1.2v1.2h-1.2zM484.4 179.7h1.1v1.1h-1.1zM484.9 169.1h1.2v1.2h-1.2zM484.8 168.0h1.0v1.0h-1.0zM481.0 170.4h1.1v1.1h-1.1zM486.1 167.7h1.3v1.3h-1.3zM482.7 169.8h1.2v1.2h-1.2zM484.7 168.2h0.9v0.9h-0.9zM484.2 169.2h1.2v1.2h-1.2zM485.3 168.7h1.1v1.1h-1.1zM486.0 167.9h1.0v1.0h-1.0zM484.6 169.6h1.2v1.2h-1.2zM486.6 167.7h1.3v1.3h-1.3zM447.7 185.5h1.2v1.2h-1.2zM443.9 186.7h1.2v1.2h-1.2zM448.5 185.5h1.0v1.0h-1.0zM444.8 186.2h1.4v1.4h-1.4zM445.9 185.7h1.5v1.5h-1.5zM446.9 185.4h1.5v1.5h-1.5zM447.2 185.2h1.1v1.1h-1.1zM446.8 185.4h1.4v1.4h-1.4zM461.6 184.7h1.2v1.2h-1.2zM460.7 184.1h1.2v1.2h-1.2zM459.5 184.9h1.3v1.3h-1.3zM461.9 185.2h0.8v0.8h-0.8zM458.6 184.3h1.1v1.1h-1.1zM455.6 184.7h1.2v1.2h-1.2zM456.6 184.1h1.3v1.3h-1.3zM459.7 184.4h0.9v0.9h-0.9zM455.2 185.1h1.2v1.2h-1.2zM458.3 184.1h1.3v1.3h-1.3zM456.4 184.9h1.3v1.3h-1.3zM458.2 184.8h1.0v1.0h-1.0zM458.7 184.8h1.1v1.1h-1.1zM455.8 185.5h1.1v1.1h-1.1zM456.9 185.3h1.3v1.3h-1.3zM467.4 185.4h1.2v1.2h-1.2zM467.8 186.2h1.1v1.1h-1.1zM469.6 184.8h1.3v1.3h-1.3zM467.7 186.6h1.3v1.3h-1.3zM468.2 185.2h1.0v1.0h-1.0zM467.9 186.4h1.4v1.4h-1.4zM463.8 188.4h1.3v1.3h-1.3zM464.9 187.9h1.3v1.3h-1.3zM464.6 187.6h1.2v1.2h-1.2zM467.8 187.1h1.4v1.4h-1.4zM466.5 186.2h0.9v0.9h-0.9zM469.9 186.2h1.1v1.1h-1.1zM458.9 194.7h1.0v1.0h-1.0zM464.1 197.0h1.1v1.1h-1.1zM461.0 196.1h1.2v1.2h-1.2zM462.8 193.1h1.4v1.4h-1.4zM461.3 196.2h1.4v1.4h-1.4zM461.8 195.6h1.3v1.3h-1.3zM458.8 191.0h1.0v1.0h-1.0zM457.3 193.5h1.5v1.5h-1.5zM456.6 197.3h0.9v0.9h-0.9zM464.0 197.4h1.4v1.4h-1.4zM453.2 201.1h1.1v1.1h-1.1zM461.6 200.9h0.9v0.9h-0.9zM458.6 201.8h1.3v1.3h-1.3zM463.3 200.9h0.9v0.9h-0.9zM462.1 201.3h1.4v1.4h-1.4zM461.5 202.1h1.5v1.5h-1.5zM458.6 200.8h1.0v1.0h-1.0zM460.3 201.3h1.0v1.0h-1.0zM456.3 206.1h1.0v1.0h-1.0zM455.9 205.5h1.0v1.0h-1.0zM456.4 205.7h0.8v0.8h-0.8zM455.9 204.9h0.8v0.8h-0.8zM456.4 206.3h0.8v0.8h-0.8zM456.5 204.8h0.9v0.9h-0.9zM456.1 208.6h1.0v1.0h-1.0zM456.2 206.2h0.9v0.9h-0.9zM455.6 208.2h0.9v0.9h-0.9zM454.9 208.9h1.1v1.1h-1.1zM456.3 206.0h1.0v1.0h-1.0zM512.8 184.1h1.2v1.2h-1.2zM510.8 185.3h1.2v1.2h-1.2zM516.8 180.8h1.4v1.4h-1.4zM512.1 185.6h1.0v1.0h-1.0zM511.6 183.5h1.4v1.4h-1.4zM511.0 185.9h1.2v1.2h-1.2zM516.6 182.1h1.1v1.1h-1.1zM511.3 184.1h1.3v1.3h-1.3zM513.3 183.6h1.1v1.1h-1.1zM514.7 182.3h1.0v1.0h-1.0zM517.1 181.4h1.4v1.4h-1.4zM512.8 183.7h1.4v1.4h-1.4zM510.8 185.5h1.1v1.1h-1.1zM515.2 181.5h1.0v1.0h-1.0zM516.7 181.4h1.2v1.2h-1.2zM516.5 181.4h1.2v1.2h-1.2zM513.7 183.4h1.0v1.0h-1.0zM512.5 188.8h1.3v1.3h-1.3zM512.3 189.2h1.3v1.3h-1.3zM512.0 188.7h1.6v1.6h-1.6zM511.7 187.7h1.2v1.2h-1.2zM510.2 185.3h1.4v1.4h-1.4zM513.2 189.0h1.1v1.1h-1.1zM512.2 188.9h1.5v1.5h-1.5zM511.8 188.3h1.5v1.5h-1.5zM525.0 192.5h1.3v1.3h-1.3zM528.9 195.8h1.1v1.1h-1.1zM457.6 200.9h1.2v1.2h-1.2zM459.0 201.9h1.3v1.3h-1.3zM460.9 201.5h1.4v1.4h-1.4zM462.1 201.9h1.1v1.1h-1.1zM455.9 208.7h1.1v1.1h-1.1zM454.3 208.7h1.4v1.4h-1.4zM454.8 208.7h0.8v0.8h-0.8zM442.0 208.5h1.4v1.4h-1.4zM518.0 222.0h1.1v1.1h-1.1zM516.7 222.8h1.2v1.2h-1.2zM518.6 221.5h1.0v1.0h-1.0zM517.1 222.9h1.1v1.1h-1.1zM519.1 220.8h1.4v1.4h-1.4zM518.6 221.9h1.2v1.2h-1.2zM517.3 222.6h1.2v1.2h-1.2zM517.9 220.9h1.4v1.4h-1.4zM517.9 223.4h1.1v1.1h-1.1zM510.9 206.5h0.8v0.8h-0.8zM511.7 157.1h0.9v0.9h-0.9zM458.7 219.3h1.0v1.0h-1.0zM476.4 183.1h0.7v0.7h-0.7zM441.9 160.2h0.6v0.6h-0.6zM510.8 201.7h1.0v1.0h-1.0zM511.8 166.1h1.0v1.0h-1.0zM482.8 142.2h0.7v0.7h-0.7zM509.2 211.3h0.8v0.8h-0.8zM505.3 191.8h0.9v0.9h-0.9z"/><path fill="#ffe40a" d="M439.2 150.6h1.2v1.2h-1.2zM444.4 148.8h1.1v1.1h-1.1zM444.2 151.8h0.9v0.9h-0.9zM466.6 133.6h1.2v1.2h-1.2zM467.3 136.1h1.1v1.1h-1.1zM471.2 137.4h1.4v1.4h-1.4zM438.5 156.5h1.5v1.5h-1.5zM497.7 157.6h1.5v1.5h-1.5zM509.5 160.1h1.5v1.5h-1.5zM511.6 159.1h2.2v2.2h-2.2zM507.4 160.1h1.7v1.7h-1.7zM502.1 153.2h1.0v1.0h-1.0zM499.9 153.1h1.2v1.2h-1.2zM504.5 153.4h1.1v1.1h-1.1zM507.5 155.0h1.1v1.1h-1.1zM518.5 141.8h1.3v1.3h-1.3zM520.7 142.8h1.5v1.5h-1.5zM517.5 141.2h1.4v1.4h-1.4zM509.0 161.0h1.2v1.2h-1.2zM525.5 142.6h1.2v1.2h-1.2zM531.6 136.5h1.2v1.2h-1.2zM531.8 137.5h1.0v1.0h-1.0zM525.0 143.9h0.9v0.9h-0.9zM529.8 142.2h1.0v1.0h-1.0zM521.7 144.1h0.7v0.7h-0.7zM518.7 163.9h1.1v1.1h-1.1zM516.4 158.7h0.8v0.8h-0.8zM453.1 172.4h1.1v1.1h-1.1zM448.2 170.5h1.6v1.6h-1.6zM457.9 172.3h1.6v1.6h-1.6zM459.6 171.8h1.4v1.4h-1.4zM443.1 172.0h1.2v1.2h-1.2zM450.9 172.0h1.2v1.2h-1.2zM445.4 171.0h1.4v1.4h-1.4zM468.9 170.5h1.4v1.4h-1.4zM475.7 169.9h1.6v1.6h-1.6zM469.7 171.2h1.6v1.6h-1.6zM453.5 177.6h0.9v0.9h-0.9zM452.4 176.2h1.0v1.0h-1.0zM448.2 171.3h1.1v1.1h-1.1zM453.2 176.0h1.4v1.4h-1.4zM450.2 174.5h1.0v1.0h-1.0zM454.6 175.8h0.8v0.8h-0.8zM458.7 177.0h1.0v1.0h-1.0zM448.0 174.0h1.2v1.2h-1.2zM451.2 180.0h0.8v0.8h-0.8zM452.1 174.6h1.2v1.2h-1.2zM454.9 173.5h1.1v1.1h-1.1zM457.4 174.9h0.8v0.8h-0.8zM455.8 178.2h1.0v1.0h-1.0zM451.3 175.9h0.8v0.8h-0.8zM449.9 171.6h1.3v1.3h-1.3zM457.9 177.7h0.9v0.9h-0.9zM452.2 177.4h0.8v0.8h-0.8zM453.6 174.3h1.0v1.0h-1.0zM456.5 173.8h1.1v1.1h-1.1zM451.7 175.5h1.3v1.3h-1.3zM472.0 177.5h0.7v0.7h-0.7zM468.1 176.3h1.0v1.0h-1.0zM470.1 181.6h0.7v0.7h-0.7zM467.5 175.7h1.1v1.1h-1.1zM471.3 175.7h1.2v1.2h-1.2zM473.1 175.0h1.4v1.4h-1.4zM470.8 179.2h1.4v1.4h-1.4zM468.1 176.7h1.2v1.2h-1.2zM470.2 183.3h0.8v0.8h-0.8zM469.3 176.1h1.3v1.3h-1.3zM469.1 181.2h1.3v1.3h-1.3zM465.9 178.6h0.8v0.8h-0.8zM467.8 179.4h0.8v0.8h-0.8zM482.8 181.3h1.3v1.3h-1.3zM484.6 168.6h0.8v0.8h-0.8zM446.8 185.7h1.0v1.0h-1.0zM460.7 184.7h1.1v1.1h-1.1zM461.2 184.9h1.2v1.2h-1.2zM459.5 193.8h1.2v1.2h-1.2zM463.4 196.3h0.8v0.8h-0.8zM460.1 193.5h1.1v1.1h-1.1zM461.2 194.2h1.0v1.0h-1.0zM464.7 195.5h1.3v1.3h-1.3zM458.6 192.7h0.9v0.9h-0.9zM458.5 201.5h1.0v1.0h-1.0zM459.3 201.2h1.0v1.0h-1.0zM461.6 200.6h1.1v1.1h-1.1zM459.8 201.2h1.4v1.4h-1.4zM455.1 200.1h1.3v1.3h-1.3zM456.5 201.2h1.2v1.2h-1.2zM456.3 205.7h0.8v0.8h-0.8zM516.8 181.5h1.1v1.1h-1.1zM512.0 184.3h0.9v0.9h-0.9zM510.1 184.5h1.3v1.3h-1.3zM512.0 188.6h1.6v1.6h-1.6zM520.5 179.0h1.5v1.5h-1.5zM521.5 191.5h1.4v1.4h-1.4zM460.2 201.3h1.0v1.0h-1.0zM461.9 199.9h1.0v1.0h-1.0zM457.1 201.3h0.9v0.9h-0.9zM460.4 202.4h1.3v1.3h-1.3zM455.1 201.7h0.9v0.9h-0.9zM463.6 200.6h1.4v1.4h-1.4zM457.0 208.0h1.1v1.1h-1.1zM455.6 208.8h1.2v1.2h-1.2zM453.8 207.1h1.2v1.2h-1.2zM455.1 208.2h1.4v1.4h-1.4zM455.2 206.4h1.1v1.1h-1.1zM486.0 211.5h1.4v1.4h-1.4zM518.6 220.7h1.0v1.0h-1.0zM519.0 220.0h1.4v1.4h-1.4zM496.0 229.5h1.6v1.6h-1.6zM490.1 201.9h1.0v1.0h-1.0zM504.5 154.6h0.9v0.9h-0.9zM448.6 201.9h1.1v1.1h-1.1zM482.8 196.7h0.9v0.9h-0.9zM487.3 217.0h0.7v0.7h-0.7z"/><path fill="#fd9a2a" d="M440.7 150.0h1.4v1.4h-1.4zM444.9 147.8h1.3v1.3h-1.3zM453.0 150.6h0.9v0.9h-0.9zM465.6 134.6h0.7v0.7h-0.7zM466.0 134.3h1.0v1.0h-1.0zM468.2 137.8h1.2v1.2h-1.2zM474.1 137.5h1.2v1.2h-1.2zM467.3 133.3h1.2v1.2h-1.2zM461.3 130.9h0.9v0.9h-0.9zM473.9 137.4h1.2v1.2h-1.2zM469.4 131.5h1.0v1.0h-1.0zM499.9 157.3h1.2v1.2h-1.2zM503.6 159.3h1.0v1.0h-1.0zM511.3 159.0h2.1v2.1h-2.1zM504.5 153.0h0.8v0.8h-0.8zM501.1 153.7h0.9v0.9h-0.9zM506.0 155.4h1.3v1.3h-1.3zM519.6 141.9h1.0v1.0h-1.0zM527.8 142.7h1.3v1.3h-1.3zM525.7 139.8h1.0v1.0h-1.0zM528.6 144.3h1.1v1.1h-1.1zM527.1 138.4h1.2v1.2h-1.2zM525.6 139.3h1.3v1.3h-1.3zM526.8 154.1h1.2v1.2h-1.2zM520.2 162.1h1.2v1.2h-1.2zM523.3 161.0h1.2v1.2h-1.2zM513.9 152.5h1.0v1.0h-1.0zM516.4 163.7h1.0v1.0h-1.0zM515.9 158.9h0.8v0.8h-0.8zM522.0 156.7h1.2v1.2h-1.2zM468.8 171.2h1.1v1.1h-1.1zM474.8 170.4h1.2v1.2h-1.2zM475.1 169.8h1.2v1.2h-1.2zM443.6 171.6h1.4v1.4h-1.4zM465.3 171.5h1.4v1.4h-1.4zM451.8 172.4h1.5v1.5h-1.5zM454.0 172.8h1.6v1.6h-1.6zM447.1 169.9h1.5v1.5h-1.5zM443.6 171.0h1.2v1.2h-1.2zM450.5 171.9h1.6v1.6h-1.6zM447.8 170.4h1.5v1.5h-1.5zM448.4 173.4h1.0v1.0h-1.0zM450.0 173.7h1.4v1.4h-1.4zM452.7 174.1h1.0v1.0h-1.0zM454.4 174.0h1.1v1.1h-1.1zM459.2 173.6h1.2v1.2h-1.2zM455.4 174.5h1.0v1.0h-1.0zM455.3 174.5h1.0v1.0h-1.0zM458.0 173.8h1.0v1.0h-1.0zM458.7 174.3h1.2v1.2h-1.2zM459.6 174.4h0.8v0.8h-0.8zM461.2 175.5h1.1v1.1h-1.1zM457.6 172.9h1.1v1.1h-1.1zM454.3 174.3h1.1v1.1h-1.1zM458.7 174.4h1.0v1.0h-1.0zM461.6 175.4h0.8v0.8h-0.8zM454.1 174.8h0.9v0.9h-0.9zM459.0 173.6h0.9v0.9h-0.9zM460.9 175.4h1.0v1.0h-1.0zM461.6 175.9h1.0v1.0h-1.0zM445.8 174.6h0.9v0.9h-0.9zM451.1 173.1h1.0v1.0h-1.0zM446.8 174.7h1.2v1.2h-1.2zM446.3 176.6h1.0v1.0h-1.0zM450.5 176.5h1.3v1.3h-1.3zM460.1 175.9h0.9v0.9h-0.9zM455.6 180.0h1.2v1.2h-1.2zM452.7 174.0h1.0v1.0h-1.0zM444.3 172.8h1.3v1.3h-1.3zM450.7 174.8h0.7v0.7h-0.7zM469.8 176.8h1.0v1.0h-1.0zM472.4 180.3h1.1v1.1h-1.1zM468.0 182.4h1.3v1.3h-1.3zM467.2 174.0h0.7v0.7h-0.7zM468.3 178.1h0.7v0.7h-0.7zM484.3 181.3h1.1v1.1h-1.1zM485.8 179.3h1.0v1.0h-1.0zM484.2 168.5h1.0v1.0h-1.0zM484.1 168.4h1.1v1.1h-1.1zM447.6 185.4h1.1v1.1h-1.1zM448.1 185.2h1.0v1.0h-1.0zM467.5 185.9h1.4v1.4h-1.4zM466.1 186.7h1.1v1.1h-1.1zM468.0 186.0h1.1v1.1h-1.1zM509.4 186.0h1.3v1.3h-1.3zM511.9 187.8h1.4v1.4h-1.4zM512.0 186.6h1.2v1.2h-1.2zM515.4 223.5h1.2v1.2h-1.2zM509.0 221.5h1.5v1.5h-1.5zM505.5 154.2h1.0v1.0h-1.0zM498.3 182.3h0.7v0.7h-0.7zM533.5 183.7h0.8v0.8h-0.8zM527.8 198.6h0.6v0.6h-0.6zM500.5 160.7h0.8v0.8h-0.8zM476.6 164.2h0.7v0.7h-0.7zM491.5 174.2h0.7v0.7h-0.7zM475.4 229.8h0.9v0.9h-0.9zM519.6 187.4h1.0v1.0h-1.0zM475.5 161.9h0.8v0.8h-0.8zM514.5 221.7h0.8v0.8h-0.8zM494.2 224.6h0.8v0.8h-0.8zM494.1 191.2h0.6v0.6h-0.6zM486.0 217.4h1.0v1.0h-1.0zM501.1 130.5h0.8v0.8h-0.8zM440.3 160.4h1.0v1.0h-1.0zM440.5 189.8h0.6v0.6h-0.6z"/><path fill="#f57050" d="M531.5 196.2h1.0v1.0h-1.0zM527.9 195.6h1.0v1.0h-1.0zM528.2 195.5h0.9v0.9h-0.9zM531.9 195.6h1.1v1.1h-1.1zM531.4 196.3h1.0v1.0h-1.0zM531.5 195.7h1.0v1.0h-1.0zM532.0 195.7h1.1v1.1h-1.1zM531.2 196.2h1.2v1.2h-1.2z"/><path fill="#f8c0a8" d="M500.7 197.1h1.0v1.0h-1.0zM469.3 156.6h0.6v0.6h-0.6zM493.5 154.8h1.1v1.1h-1.1zM449.8 173.0h0.7v0.7h-0.7zM504.8 162.7h1.0v1.0h-1.0zM482.3 180.9h1.1v1.1h-1.1zM506.7 146.1h0.7v0.7h-0.7zM497.5 173.1h0.7v0.7h-0.7zM480.1 197.8h1.1v1.1h-1.1zM449.9 202.1h0.9v0.9h-0.9zM527.3 211.3h0.8v0.8h-0.8zM462.9 142.5h0.8v0.8h-0.8zM472.6 188.3h0.9v0.9h-0.9zM466.6 172.7h1.0v1.0h-1.0zM471.8 189.8h1.0v1.0h-1.0zM514.6 225.6h0.8v0.8h-0.8zM481.6 212.8h0.9v0.9h-0.9zM519.9 228.7h0.8v0.8h-0.8zM463.5 148.9h0.9v0.9h-0.9zM517.0 162.3h0.9v0.9h-0.9zM458.0 162.7h0.9v0.9h-0.9zM542.6 191.5h0.8v0.8h-0.8zM517.1 182.2h0.9v0.9h-0.9zM472.1 147.7h0.8v0.8h-0.8zM498.8 185.6h1.0v1.0h-1.0zM482.2 221.5h0.9v0.9h-0.9z"/><rect x="438.5" y="129.5" width="107" height="102" fill="none" stroke="#5a5a5a" stroke-width="1"/><line x1="434" y1="145.8" x2="438" y2="145.8" stroke="#777" stroke-width="1" /><text x="430.4" y="149.1" font-size="9" font-weight="bold" text-anchor="end" fill="#000" stroke="#000" stroke-width="0.25" >38.1°N</text><line x1="482.6" y1="232" x2="482.6" y2="236" stroke="#777" stroke-width="1" /><text x="482.6" y="246.1" font-size="9" font-weight="bold" text-anchor="middle" fill="#000" stroke="#000" stroke-width="0.25" >27.3°E</text><text x="441.6" y="141.6" font-size="14.5" font-weight="normal" text-anchor="start" fill="#000" stroke="#000" stroke-width="0.25" >6</text><rect x="81.0" y="254.0" width="108.0" height="101.0" fill="#abe0e3" /><rect x="82.0" y="255.0" width="1.2" height="99.0" fill="#f6f2a0" /><ellipse cx="114.5" cy="334.5" rx="3.2" ry="3.5" fill="#f2281c" transform="rotate(20 114.5 334.5)"/><ellipse cx="140" cy="336" rx="2" ry="1.2" fill="#f2281c" transform="rotate(-10 140 336)"/><polyline points="185.0,273.5 188.0,272.8" fill="none" stroke="#f2281c" stroke-width="1.8" stroke-linejoin="round" stroke-linecap="round" /><polyline points="115.0,311.0 120.0,312.0" fill="none" stroke="#f2281c" stroke-width="1.4" stroke-linejoin="round" stroke-linecap="round" /><polyline points="125.0,313.5 128.5,316.8" fill="none" stroke="#f2281c" stroke-width="1.5" stroke-linejoin="round" stroke-linecap="round" /><path fill="#f0c8a0" d="M153.8 329.3h0.7v0.7h-0.7zM156.8 352.0h1.0v1.0h-1.0zM147.2 319.6h0.9v0.9h-0.9zM161.9 323.8h1.0v1.0h-1.0zM139.7 273.9h0.9v0.9h-0.9zM165.3 258.2h1.1v1.1h-1.1zM155.5 261.8h1.0v1.0h-1.0zM126.1 341.6h0.7v0.7h-0.7zM131.0 309.7h0.8v0.8h-0.8zM125.3 306.9h0.7v0.7h-0.7zM157.4 314.7h1.1v1.1h-1.1zM82.6 317.4h1.0v1.0h-1.0zM131.3 299.7h0.9v0.9h-0.9zM145.8 330.8h0.6v0.6h-0.6zM133.9 273.1h0.6v0.6h-0.6zM87.6 300.1h0.9v0.9h-0.9zM128.5 333.5h0.7v0.7h-0.7zM169.2 266.4h0.7v0.7h-0.7zM132.0 320.3h0.6v0.6h-0.6zM135.3 315.2h1.1v1.1h-1.1zM141.0 286.1h0.8v0.8h-0.8zM152.4 278.6h1.1v1.1h-1.1zM116.6 305.7h0.7v0.7h-0.7zM128.6 266.2h0.7v0.7h-0.7zM170.0 336.0h0.9v0.9h-0.9zM102.0 307.0h0.8v0.8h-0.8zM84.3 348.5h0.9v0.9h-0.9zM178.7 279.2h0.7v0.7h-0.7zM128.4 267.1h0.8v0.8h-0.8zM138.7 272.1h1.0v1.0h-1.0z"/><path fill="#dfe6a0" d="M82.9 332.2h1.0v1.0h-1.0zM157.4 288.9h0.7v0.7h-0.7zM163.8 281.4h0.8v0.8h-0.8zM89.9 297.6h0.7v0.7h-0.7zM133.4 260.0h1.0v1.0h-1.0zM86.5 259.1h1.1v1.1h-1.1zM183.9 346.2h0.7v0.7h-0.7zM156.8 298.6h0.9v0.9h-0.9zM120.1 329.5h1.0v1.0h-1.0zM168.3 348.4h0.9v0.9h-0.9zM128.5 346.1h0.7v0.7h-0.7zM109.8 286.9h0.8v0.8h-0.8zM146.8 351.4h1.0v1.0h-1.0zM116.8 277.1h0.9v0.9h-0.9zM102.7 321.3h0.7v0.7h-0.7zM177.2 350.6h0.6v0.6h-0.6zM137.0 308.8h0.8v0.8h-0.8zM131.9 301.4h0.7v0.7h-0.7zM115.8 280.0h1.1v1.1h-1.1zM128.1 275.5h0.6v0.6h-0.6zM117.2 351.2h1.1v1.1h-1.1zM158.2 286.7h1.1v1.1h-1.1zM154.0 318.5h0.7v0.7h-0.7zM106.9 270.0h0.6v0.6h-0.6zM117.2 318.9h0.8v0.8h-0.8zM134.1 280.0h0.9v0.9h-0.9zM100.1 269.5h1.1v1.1h-1.1zM85.5 348.0h0.8v0.8h-0.8zM140.3 340.0h0.6v0.6h-0.6zM121.9 286.1h0.6v0.6h-0.6zM152.1 314.3h1.0v1.0h-1.0zM99.5 276.1h1.0v1.0h-1.0zM95.7 310.5h1.0v1.0h-1.0zM166.5 345.9h1.1v1.1h-1.1zM145.5 285.5h1.1v1.1h-1.1zM143.5 311.7h0.9v0.9h-0.9zM136.7 352.5h0.9v0.9h-0.9zM124.9 347.1h0.7v0.7h-0.7zM97.5 330.2h0.7v0.7h-0.7zM102.2 258.1h0.6v0.6h-0.6zM104.6 289.8h0.7v0.7h-0.7zM154.8 349.7h0.6v0.6h-0.6zM183.0 338.7h0.7v0.7h-0.7zM183.7 295.4h0.8v0.8h-0.8zM116.7 342.6h1.0v1.0h-1.0zM156.6 318.8h0.8v0.8h-0.8zM142.5 270.3h0.9v0.9h-0.9zM91.6 331.2h0.8v0.8h-0.8zM187.0 310.8h0.9v0.9h-0.9zM166.7 256.7h0.9v0.9h-0.9zM142.5 293.7h1.0v1.0h-1.0zM166.3 335.4h0.9v0.9h-0.9zM118.1 255.3h1.0v1.0h-1.0zM128.1 316.1h1.0v1.0h-1.0zM126.0 270.1h0.7v0.7h-0.7zM184.9 272.1h0.6v0.6h-0.6zM87.0 332.1h0.8v0.8h-0.8zM156.1 310.9h0.7v0.7h-0.7zM147.5 310.8h1.1v1.1h-1.1zM143.5 348.6h0.7v0.7h-0.7zM131.4 321.5h0.9v0.9h-0.9zM168.9 263.1h0.7v0.7h-0.7zM131.3 308.9h0.8v0.8h-0.8zM174.9 315.3h0.9v0.9h-0.9zM152.2 333.7h0.8v0.8h-0.8zM176.5 291.4h0.8v0.8h-0.8zM139.7 321.7h0.7v0.7h-0.7zM172.3 330.6h1.0v1.0h-1.0zM145.0 270.8h1.0v1.0h-1.0zM166.9 262.9h1.0v1.0h-1.0zM183.1 273.3h0.7v0.7h-0.7zM121.6 268.9h1.0v1.0h-1.0zM152.3 282.8h0.9v0.9h-0.9zM101.1 323.9h0.8v0.8h-0.8zM87.8 258.0h0.6v0.6h-0.6zM92.2 283.6h1.0v1.0h-1.0zM178.4 306.4h0.8v0.8h-0.8zM138.0 287.4h0.9v0.9h-0.9zM100.3 338.7h0.6v0.6h-0.6zM146.5 300.3h0.8v0.8h-0.8zM137.5 294.1h0.6v0.6h-0.6zM180.2 277.9h0.7v0.7h-0.7zM161.4 274.2h0.8v0.8h-0.8zM91.6 309.9h1.1v1.1h-1.1zM132.9 334.9h0.9v0.9h-0.9zM165.5 280.0h1.0v1.0h-1.0zM177.7 282.1h0.9v0.9h-0.9zM101.9 261.4h0.8v0.8h-0.8zM107.4 337.6h0.8v0.8h-0.8zM117.9 331.0h0.8v0.8h-0.8zM123.0 305.7h1.1v1.1h-1.1zM138.2 272.6h0.7v0.7h-0.7zM128.1 266.6h0.9v0.9h-0.9zM124.0 265.1h0.9v0.9h-0.9zM110.3 258.1h0.9v0.9h-0.9zM120.2 263.6h1.0v1.0h-1.0zM122.4 263.2h1.0v1.0h-1.0zM121.8 263.2h0.6v0.6h-0.6zM145.9 276.3h0.6v0.6h-0.6zM125.5 265.4h0.9v0.9h-0.9zM108.7 258.0h0.6v0.6h-0.6zM116.5 261.3h1.0v1.0h-1.0zM137.0 272.0h1.0v1.0h-1.0zM150.1 279.0h0.9v0.9h-0.9zM137.2 271.7h0.9v0.9h-0.9zM132.9 270.0h0.7v0.7h-0.7z"/><path fill="#ece29a" d="M172.4 304.9h0.7v0.7h-0.7zM176.3 322.0h0.9v0.9h-0.9zM136.0 271.4h0.8v0.8h-0.8zM92.2 336.6h0.9v0.9h-0.9zM185.0 288.5h1.1v1.1h-1.1zM147.9 255.3h0.9v0.9h-0.9zM160.5 282.8h0.6v0.6h-0.6zM107.6 319.4h0.8v0.8h-0.8zM154.3 281.4h0.8v0.8h-0.8zM179.5 313.7h0.8v0.8h-0.8zM170.5 257.1h0.8v0.8h-0.8zM154.7 334.9h0.7v0.7h-0.7zM172.6 263.9h1.1v1.1h-1.1zM93.3 293.6h1.0v1.0h-1.0zM130.1 294.4h0.7v0.7h-0.7zM143.0 328.2h0.7v0.7h-0.7zM97.0 347.8h1.0v1.0h-1.0zM131.1 324.6h1.0v1.0h-1.0zM85.0 278.1h0.8v0.8h-0.8zM84.4 305.7h0.6v0.6h-0.6zM108.7 349.4h1.0v1.0h-1.0zM122.2 352.8h0.9v0.9h-0.9zM175.9 344.1h0.8v0.8h-0.8zM139.8 339.0h1.1v1.1h-1.1zM182.9 336.3h0.7v0.7h-0.7zM123.4 350.9h0.8v0.8h-0.8zM112.6 263.5h0.8v0.8h-0.8zM151.4 331.4h0.8v0.8h-0.8zM84.1 294.5h0.6v0.6h-0.6zM114.1 290.5h1.0v1.0h-1.0zM185.3 261.3h0.8v0.8h-0.8zM82.8 325.8h0.9v0.9h-0.9zM87.3 314.4h0.7v0.7h-0.7zM93.9 334.9h0.9v0.9h-0.9zM143.2 296.9h0.8v0.8h-0.8zM179.1 261.7h0.6v0.6h-0.6zM173.7 291.2h0.8v0.8h-0.8zM132.6 312.4h1.1v1.1h-1.1zM165.9 257.3h0.7v0.7h-0.7zM124.2 348.2h0.9v0.9h-0.9zM102.1 283.0h1.1v1.1h-1.1zM142.5 308.9h0.8v0.8h-0.8zM152.4 284.8h1.1v1.1h-1.1zM182.9 325.1h0.9v0.9h-0.9zM95.9 352.4h1.0v1.0h-1.0zM140.1 351.2h0.7v0.7h-0.7zM146.2 327.8h1.0v1.0h-1.0zM136.7 298.6h0.8v0.8h-0.8zM171.6 290.2h1.0v1.0h-1.0zM169.3 323.6h0.6v0.6h-0.6zM118.9 307.2h0.7v0.7h-0.7zM157.4 350.7h1.1v1.1h-1.1zM122.6 310.3h0.8v0.8h-0.8zM143.3 336.2h0.9v0.9h-0.9zM171.1 303.0h0.7v0.7h-0.7zM173.5 275.5h0.7v0.7h-0.7zM186.8 324.1h0.6v0.6h-0.6zM170.2 287.4h0.9v0.9h-0.9zM134.7 271.0h1.0v1.0h-1.0zM142.1 299.9h1.1v1.1h-1.1zM148.7 343.9h1.1v1.1h-1.1zM88.5 268.9h0.8v0.8h-0.8zM186.7 320.7h0.7v0.7h-0.7zM107.2 256.9h0.7v0.7h-0.7zM133.1 269.8h0.9v0.9h-0.9zM133.5 269.8h0.6v0.6h-0.6zM118.0 261.4h0.9v0.9h-0.9zM129.6 268.2h1.0v1.0h-1.0zM155.0 280.2h0.6v0.6h-0.6z"/><path fill="#f6e060" d="M173.5 307.0h0.7v0.7h-0.7zM83.7 332.5h0.8v0.8h-0.8zM105.6 286.6h0.7v0.7h-0.7zM128.4 282.6h0.8v0.8h-0.8zM163.4 274.7h0.8v0.8h-0.8zM130.1 347.3h0.8v0.8h-0.8zM124.6 284.6h1.0v1.0h-1.0zM160.3 339.6h0.7v0.7h-0.7zM82.3 339.0h0.7v0.7h-0.7zM152.2 296.5h1.1v1.1h-1.1zM99.5 255.2h0.8v0.8h-0.8zM154.1 340.1h0.9v0.9h-0.9zM143.6 265.3h1.0v1.0h-1.0zM96.6 287.3h0.9v0.9h-0.9zM170.8 294.5h0.6v0.6h-0.6zM155.0 284.0h0.7v0.7h-0.7zM91.8 265.5h1.0v1.0h-1.0zM118.0 274.8h0.7v0.7h-0.7zM104.7 347.3h0.6v0.6h-0.6zM125.4 315.5h1.0v1.0h-1.0zM120.6 260.4h1.1v1.1h-1.1zM177.1 269.6h0.9v0.9h-0.9zM180.5 258.5h1.0v1.0h-1.0zM151.2 340.2h0.7v0.7h-0.7zM125.1 319.1h0.8v0.8h-0.8zM135.7 271.2h0.7v0.7h-0.7zM121.1 263.6h0.7v0.7h-0.7z"/><path fill="#eee080" d="M175.4 331.2h0.7v0.7h-0.7zM168.1 321.8h0.6v0.6h-0.6zM181.2 334.7h0.9v0.9h-0.9zM186.6 338.8h1.0v1.0h-1.0zM147.3 299.6h0.9v0.9h-0.9zM167.6 322.5h0.9v0.9h-0.9zM156.2 309.6h0.9v0.9h-0.9zM172.2 327.3h0.9v0.9h-0.9zM156.7 309.8h0.8v0.8h-0.8zM151.3 304.1h0.6v0.6h-0.6zM182.3 336.8h1.0v1.0h-1.0zM146.7 299.3h0.7v0.7h-0.7zM174.9 330.2h0.9v0.9h-0.9zM182.4 335.7h1.1v1.1h-1.1zM164.1 318.2h0.8v0.8h-0.8zM147.8 258.5h0.7v0.7h-0.7zM148.1 258.8h0.8v0.8h-0.8zM144.3 277.0h0.9v0.9h-0.9zM146.5 275.1h0.7v0.7h-0.7zM142.9 290.7h1.1v1.1h-1.1zM147.0 258.1h1.0v1.0h-1.0zM143.6 281.5h1.1v1.1h-1.1zM148.1 256.3h0.7v0.7h-0.7z"/><path fill="#ffe40a" d="M184.8 337.6h0.9v0.9h-0.9zM168.1 322.2h0.9v0.9h-0.9zM169.2 324.6h0.8v0.8h-0.8zM149.3 301.1h0.7v0.7h-0.7zM154.0 305.4h0.9v0.9h-0.9zM157.9 309.6h0.9v0.9h-0.9zM150.5 303.0h0.7v0.7h-0.7zM173.4 328.3h0.8v0.8h-0.8zM166.6 321.6h0.8v0.8h-0.8zM154.3 307.2h0.6v0.6h-0.6zM181.0 335.3h1.1v1.1h-1.1zM163.9 318.8h0.7v0.7h-0.7zM148.2 300.0h0.7v0.7h-0.7zM181.0 334.9h0.7v0.7h-0.7zM149.5 302.1h0.9v0.9h-0.9zM166.7 321.6h0.6v0.6h-0.6zM153.0 305.9h0.7v0.7h-0.7zM163.6 317.0h0.9v0.9h-0.9zM179.9 334.4h1.0v1.0h-1.0zM143.9 286.4h0.9v0.9h-0.9zM147.3 261.4h0.7v0.7h-0.7zM146.9 268.7h1.1v1.1h-1.1zM148.0 263.7h1.0v1.0h-1.0zM144.3 290.5h0.8v0.8h-0.8zM143.8 292.2h0.9v0.9h-0.9zM147.5 265.4h0.7v0.7h-0.7zM147.2 264.1h0.8v0.8h-0.8zM147.9 258.0h0.8v0.8h-0.8zM147.6 264.4h1.1v1.1h-1.1zM173.1 290.4h0.9v0.9h-0.9zM162.7 281.6h1.1v1.1h-1.1zM166.3 284.8h1.0v1.0h-1.0zM168.1 285.6h1.1v1.1h-1.1zM172.6 289.2h1.1v1.1h-1.1zM171.6 287.7h0.9v0.9h-0.9zM156.0 273.0h1.5v1.5h-1.5zM121.0 311.5h1.6v1.6h-1.6zM169.0 312.5h1.2v1.2h-1.2zM140.5 274.5h1.3v1.3h-1.3zM101.1 350.4h1.3v1.3h-1.3zM102.7 350.0h1.2v1.2h-1.2zM88.9 334.4h0.8v0.8h-0.8zM89.7 343.9h1.1v1.1h-1.1zM92.1 338.6h0.9v0.9h-0.9zM95.2 327.6h0.9v0.9h-0.9zM90.8 342.2h1.2v1.2h-1.2zM95.6 334.1h1.3v1.3h-1.3zM83.5 343.6h1.0v1.0h-1.0zM93.1 329.7h1.0v1.0h-1.0zM91.6 345.4h0.8v0.8h-0.8zM85.4 341.5h1.5v1.5h-1.5zM90.1 347.1h0.7v0.7h-0.7zM87.0 348.8h0.9v0.9h-0.9zM100.2 348.9h0.9v0.9h-0.9z"/><path fill="#fd9a2a" d="M151.3 303.4h1.1v1.1h-1.1zM181.5 335.6h0.8v0.8h-0.8zM148.6 300.4h0.7v0.7h-0.7zM155.7 308.9h0.6v0.6h-0.6zM148.4 300.4h0.6v0.6h-0.6zM184.2 337.4h0.7v0.7h-0.7zM151.6 305.3h1.1v1.1h-1.1zM156.8 310.1h1.0v1.0h-1.0zM157.0 309.1h0.8v0.8h-0.8zM166.8 322.0h1.0v1.0h-1.0zM148.4 300.5h0.9v0.9h-0.9zM147.7 256.2h0.8v0.8h-0.8zM147.3 258.0h1.2v1.2h-1.2zM145.4 275.2h0.9v0.9h-0.9zM142.8 290.6h1.2v1.2h-1.2zM172.0 289.3h0.8v0.8h-0.8zM162.0 280.9h0.8v0.8h-0.8zM170.6 288.7h0.7v0.7h-0.7zM162.1 281.1h0.8v0.8h-0.8zM171.8 288.7h1.0v1.0h-1.0zM164.1 283.6h0.9v0.9h-0.9zM114.4 338.4h1.0v1.0h-1.0zM114.8 336.8h1.4v1.4h-1.4zM107.0 315.5h1.3v1.3h-1.3zM88.5 316.5h1.3v1.3h-1.3zM160.5 346.0h1.4v1.4h-1.4zM141.5 266.5h1.3v1.3h-1.3zM103.5 273.5h1.2v1.2h-1.2zM82.7 339.8h1.2v1.2h-1.2zM83.8 350.5h1.4v1.4h-1.4zM91.7 338.7h1.4v1.4h-1.4zM89.9 348.1h1.5v1.5h-1.5zM95.0 336.3h1.5v1.5h-1.5zM97.2 339.2h1.1v1.1h-1.1zM86.5 333.2h1.1v1.1h-1.1zM93.4 351.7h1.1v1.1h-1.1zM89.6 324.1h0.9v0.9h-0.9zM82.7 352.4h1.1v1.1h-1.1zM101.7 351.2h1.0v1.0h-1.0zM98.6 332.6h1.4v1.4h-1.4zM100.9 345.6h0.7v0.7h-0.7zM90.2 348.1h1.4v1.4h-1.4zM100.6 341.9h1.2v1.2h-1.2zM95.2 343.6h0.8v0.8h-0.8zM91.0 341.5h1.1v1.1h-1.1zM91.6 345.5h0.9v0.9h-0.9zM103.3 338.5h1.5v1.5h-1.5zM98.4 327.0h1.1v1.1h-1.1zM93.6 336.9h1.0v1.0h-1.0zM99.6 340.0h1.3v1.3h-1.3zM101.2 327.6h0.8v0.8h-0.8zM83.0 335.6h1.5v1.5h-1.5z"/><path fill="#f2281c" d="M117.1 333.5h1.5v1.5h-1.5zM115.8 332.2h1.0v1.0h-1.0zM110.0 327.0h1.0v1.0h-1.0zM109.9 334.1h0.8v0.8h-0.8zM112.5 335.5h1.4v1.4h-1.4zM112.6 332.6h1.1v1.1h-1.1zM116.2 333.6h1.5v1.5h-1.5zM111.6 336.3h0.9v0.9h-0.9zM114.8 337.1h1.1v1.1h-1.1zM110.7 330.4h1.3v1.3h-1.3zM116.2 334.0h0.9v0.9h-0.9zM113.8 337.6h1.5v1.5h-1.5zM114.5 335.7h1.1v1.1h-1.1zM110.2 334.7h0.8v0.8h-0.8zM115.5 330.6h1.0v1.0h-1.0zM113.2 333.5h0.9v0.9h-0.9zM112.5 332.6h1.4v1.4h-1.4zM111.5 334.2h1.1v1.1h-1.1zM154.0 274.0h1.8v1.8h-1.8zM106.0 314.0h1.8v1.8h-1.8zM86.0 316.5h1.4v1.4h-1.4zM161.5 313.5h1.6v1.6h-1.6zM167.5 311.5h1.8v1.8h-1.8zM92.4 347.2h0.7v0.7h-0.7zM87.3 342.4h1.4v1.4h-1.4zM89.0 339.5h1.2v1.2h-1.2zM87.1 347.6h1.0v1.0h-1.0zM95.9 342.5h1.4v1.4h-1.4zM97.5 336.2h1.3v1.3h-1.3zM91.3 348.0h1.0v1.0h-1.0zM82.8 330.2h0.7v0.7h-0.7zM95.5 343.7h1.0v1.0h-1.0zM82.5 333.3h1.3v1.3h-1.3zM95.2 335.5h0.9v0.9h-0.9zM85.5 345.6h0.7v0.7h-0.7zM94.5 337.6h0.9v0.9h-0.9zM96.9 335.1h1.3v1.3h-1.3zM83.9 343.7h1.4v1.4h-1.4zM102.3 329.8h1.5v1.5h-1.5zM88.2 334.1h1.5v1.5h-1.5zM93.2 340.7h1.4v1.4h-1.4zM95.2 331.6h1.0v1.0h-1.0zM92.3 338.8h0.9v0.9h-0.9z"/><path fill="#f06030" d="M138.0 278.5h1.4v1.4h-1.4zM133.0 309.5h1.6v1.6h-1.6z"/><rect x="81.5" y="254.5" width="107" height="100" fill="none" stroke="#5a5a5a" stroke-width="1"/><line x1="77" y1="303.2" x2="81" y2="303.2" stroke="#777" stroke-width="1" /><text x="73.4" y="306.5" font-size="9" font-weight="bold" text-anchor="end" fill="#000" stroke="#000" stroke-width="0.25" >38.25°N</text><line x1="119" y1="355" x2="119" y2="359" stroke="#777" stroke-width="1" /><text x="119.0" y="369.6" font-size="9" font-weight="bold" text-anchor="middle" fill="#000" stroke="#000" stroke-width="0.25" >27.20°E</text><line x1="176" y1="355" x2="176" y2="359" stroke="#777" stroke-width="1" /><text x="176.0" y="369.6" font-size="9" font-weight="bold" text-anchor="middle" fill="#000" stroke="#000" stroke-width="0.25" >27.25°E</text><text x="84.6" y="266.8" font-size="14.5" font-weight="normal" text-anchor="start" fill="#000" stroke="#000" stroke-width="0.25" >3</text><rect x="242.0" y="254.0" width="108.0" height="102.0" fill="#74c5df" /><rect x="345.0" y="275.0" width="4.0" height="4.0" fill="#6ab8e0" /><rect x="340.0" y="279.0" width="5.0" height="5.0" fill="#4aa0dc" /><rect x="335.0" y="280.0" width="5.0" height="4.0" fill="#62b2e0" /><rect x="345.0" y="279.0" width="4.0" height="4.0" fill="#2a88dc" /><rect x="342.5" y="283.0" width="6.5" height="6.0" fill="#0c5ccc" /><rect x="335.0" y="284.0" width="7.5" height="5.0" fill="#2a88dc" /><rect x="329.7" y="284.0" width="5.3" height="5.0" fill="#62b2e0" /><rect x="316.0" y="289.0" width="19.0" height="5.0" fill="#56ace0" /><rect x="312.0" y="294.0" width="4.0" height="4.0" fill="#56ace0" /><rect x="316.0" y="294.0" width="9.7" height="13.6" fill="#1e84da" /><rect x="325.7" y="294.0" width="9.3" height="4.0" fill="#56ace0" /><rect x="325.3" y="312.5" width="4.7" height="8.5" fill="#5cb0e2" /><path fill="#e8b070" d="M299.8 305.1h0.8v0.8h-0.8zM284.5 270.5h0.9v0.9h-0.9zM271.7 263.3h1.3v1.3h-1.3zM280.7 311.0h1.3v1.3h-1.3zM319.4 322.1h0.8v0.8h-0.8zM297.6 260.1h1.0v1.0h-1.0zM283.9 328.5h0.9v0.9h-0.9zM246.6 275.4h0.9v0.9h-0.9zM272.5 256.5h1.1v1.1h-1.1zM284.2 342.0h0.9v0.9h-0.9zM301.5 324.3h1.0v1.0h-1.0zM280.6 282.8h0.8v0.8h-0.8zM277.0 278.2h1.2v1.2h-1.2zM278.7 283.3h1.2v1.2h-1.2zM268.3 273.4h0.9v0.9h-0.9zM289.0 289.9h1.3v1.3h-1.3zM278.3 255.4h0.9v0.9h-0.9zM290.8 273.7h0.9v0.9h-0.9zM297.2 273.2h1.1v1.1h-1.1zM338.7 311.0h0.8v0.8h-0.8zM257.4 277.4h0.8v0.8h-0.8zM271.3 294.8h1.2v1.2h-1.2zM255.0 269.2h0.7v0.7h-0.7zM292.0 339.1h0.7v0.7h-0.7zM287.2 275.9h0.9v0.9h-0.9zM296.6 278.4h1.0v1.0h-1.0zM285.0 314.8h1.1v1.1h-1.1zM271.0 263.2h1.3v1.3h-1.3zM266.1 318.4h0.8v0.8h-0.8zM262.7 272.9h0.8v0.8h-0.8zM286.3 324.4h0.9v0.9h-0.9zM287.4 331.4h0.9v0.9h-0.9zM268.5 260.4h1.1v1.1h-1.1zM295.4 314.1h1.0v1.0h-1.0zM295.7 349.8h0.8v0.8h-0.8zM328.8 348.6h1.0v1.0h-1.0zM273.6 330.7h1.3v1.3h-1.3zM294.9 318.1h0.8v0.8h-0.8zM277.6 321.1h0.7v0.7h-0.7zM276.0 268.2h0.8v0.8h-0.8zM322.6 340.2h1.1v1.1h-1.1zM280.0 322.0h1.2v1.2h-1.2zM252.8 275.8h1.2v1.2h-1.2zM281.9 281.0h1.2v1.2h-1.2zM281.9 287.7h0.9v0.9h-0.9zM286.4 256.0h0.9v0.9h-0.9zM282.7 256.7h0.9v0.9h-0.9zM271.7 269.6h1.1v1.1h-1.1zM262.1 258.5h1.1v1.1h-1.1zM282.1 287.9h1.2v1.2h-1.2zM317.0 313.0h0.8v0.8h-0.8zM284.5 325.6h1.0v1.0h-1.0zM338.7 297.5h0.7v0.7h-0.7zM267.1 330.4h0.9v0.9h-0.9zM323.9 301.7h1.1v1.1h-1.1zM289.5 262.0h1.1v1.1h-1.1zM331.2 311.8h1.0v1.0h-1.0zM333.6 304.8h0.9v0.9h-0.9zM263.8 255.7h0.8v0.8h-0.8zM280.7 273.8h1.1v1.1h-1.1zM292.5 347.1h1.0v1.0h-1.0zM252.2 265.7h0.8v0.8h-0.8zM321.0 309.1h0.8v0.8h-0.8zM259.7 272.8h1.1v1.1h-1.1zM342.4 303.4h0.9v0.9h-0.9zM322.4 330.0h0.8v0.8h-0.8zM306.2 328.3h0.8v0.8h-0.8zM254.5 266.9h1.3v1.3h-1.3zM255.5 268.4h1.1v1.1h-1.1zM268.9 275.2h0.8v0.8h-0.8zM315.0 306.7h1.1v1.1h-1.1zM286.3 306.6h1.2v1.2h-1.2zM269.4 276.0h0.7v0.7h-0.7zM260.1 273.7h0.8v0.8h-0.8zM249.4 267.7h1.1v1.1h-1.1zM283.6 275.3h1.1v1.1h-1.1zM276.1 266.6h1.1v1.1h-1.1zM282.4 283.0h1.0v1.0h-1.0zM284.5 274.0h1.0v1.0h-1.0z"/><path fill="#f0d080" d="M342.7 317.8h0.9v0.9h-0.9zM259.1 341.4h0.8v0.8h-0.8zM299.5 337.9h1.3v1.3h-1.3zM261.0 282.7h0.9v0.9h-0.9zM280.2 286.9h0.8v0.8h-0.8zM327.2 296.0h1.2v1.2h-1.2zM283.8 259.1h1.1v1.1h-1.1zM299.4 343.9h0.8v0.8h-0.8zM319.9 303.5h0.7v0.7h-0.7zM299.7 265.5h1.1v1.1h-1.1zM310.6 300.8h0.9v0.9h-0.9zM286.1 328.2h0.7v0.7h-0.7zM316.0 291.1h0.7v0.7h-0.7zM291.5 344.6h0.7v0.7h-0.7zM295.5 273.9h1.0v1.0h-1.0zM260.4 269.0h0.8v0.8h-0.8zM309.5 339.8h1.0v1.0h-1.0zM295.2 303.9h1.1v1.1h-1.1zM313.6 312.5h1.0v1.0h-1.0zM339.6 309.6h0.9v0.9h-0.9zM262.7 265.5h1.3v1.3h-1.3zM273.3 266.9h0.8v0.8h-0.8zM321.7 347.7h1.0v1.0h-1.0zM272.8 276.6h0.9v0.9h-0.9zM255.0 277.3h1.1v1.1h-1.1zM317.7 305.8h0.9v0.9h-0.9zM250.1 273.4h1.0v1.0h-1.0zM316.8 317.6h1.0v1.0h-1.0zM286.6 269.0h0.7v0.7h-0.7zM291.5 272.8h1.0v1.0h-1.0zM330.0 315.0h1.1v1.1h-1.1zM321.3 309.8h0.9v0.9h-0.9zM288.0 255.8h0.8v0.8h-0.8zM266.9 267.2h0.9v0.9h-0.9zM318.7 325.5h0.8v0.8h-0.8zM268.4 302.7h0.7v0.7h-0.7zM324.5 341.1h0.7v0.7h-0.7zM302.5 277.6h0.9v0.9h-0.9zM288.8 273.6h1.0v1.0h-1.0z"/><path fill="#ec7a50" d="M257.7 284.0h0.7v0.7h-0.7zM298.6 333.9h1.0v1.0h-1.0zM248.9 268.1h0.8v0.8h-0.8zM277.6 273.6h1.1v1.1h-1.1zM289.3 319.9h1.3v1.3h-1.3zM301.4 350.9h0.9v0.9h-0.9zM265.2 262.9h1.1v1.1h-1.1zM273.1 333.9h0.9v0.9h-0.9zM268.3 265.2h0.8v0.8h-0.8zM255.5 258.3h1.0v1.0h-1.0zM262.5 270.3h0.8v0.8h-0.8zM282.4 316.3h1.0v1.0h-1.0zM342.8 303.4h1.2v1.2h-1.2zM257.6 299.3h0.9v0.9h-0.9zM255.3 317.6h0.8v0.8h-0.8zM284.9 307.6h0.9v0.9h-0.9zM281.9 288.4h1.3v1.3h-1.3zM282.4 256.3h1.1v1.1h-1.1zM291.3 271.1h1.2v1.2h-1.2zM277.3 276.2h0.8v0.8h-0.8zM342.0 325.2h0.9v0.9h-0.9zM290.7 269.3h1.3v1.3h-1.3zM258.9 283.3h0.9v0.9h-0.9zM269.6 279.8h1.2v1.2h-1.2zM269.2 266.3h1.1v1.1h-1.1zM338.7 316.7h1.1v1.1h-1.1zM333.2 296.3h0.9v0.9h-0.9zM295.1 335.6h0.7v0.7h-0.7zM278.1 288.4h1.2v1.2h-1.2zM323.2 288.6h1.3v1.3h-1.3zM277.7 281.2h0.8v0.8h-0.8zM296.5 315.0h1.2v1.2h-1.2zM325.6 336.0h0.7v0.7h-0.7zM278.7 272.5h0.8v0.8h-0.8zM329.8 330.2h1.3v1.3h-1.3zM272.1 263.5h0.7v0.7h-0.7zM290.7 281.1h0.9v0.9h-0.9zM303.3 284.8h1.1v1.1h-1.1zM299.7 322.1h1.0v1.0h-1.0zM291.8 325.3h0.8v0.8h-0.8zM340.3 313.8h1.2v1.2h-1.2zM332.5 312.7h0.8v0.8h-0.8zM296.0 302.9h1.0v1.0h-1.0zM321.6 294.0h0.9v0.9h-0.9z"/><path fill="#ead04a" d="M252.0 270.1h1.1v1.1h-1.1zM333.4 320.5h1.0v1.0h-1.0zM321.7 306.5h1.2v1.2h-1.2zM287.0 301.2h1.1v1.1h-1.1zM262.8 309.0h1.2v1.2h-1.2zM315.9 288.1h1.1v1.1h-1.1zM275.8 288.2h0.7v0.7h-0.7zM275.3 291.0h0.9v0.9h-0.9zM253.8 280.9h0.8v0.8h-0.8zM256.1 262.5h0.9v0.9h-0.9zM281.9 267.0h1.0v1.0h-1.0zM287.9 269.4h1.2v1.2h-1.2zM324.8 299.7h1.1v1.1h-1.1zM283.1 325.3h1.3v1.3h-1.3zM297.1 267.2h0.9v0.9h-0.9zM273.9 292.4h1.1v1.1h-1.1zM261.2 278.1h0.9v0.9h-0.9zM276.7 261.0h1.2v1.2h-1.2zM288.6 279.5h1.0v1.0h-1.0zM271.5 275.1h0.8v0.8h-0.8zM305.7 303.9h1.2v1.2h-1.2zM259.3 280.1h0.8v0.8h-0.8zM300.9 326.2h1.2v1.2h-1.2zM263.5 306.3h0.7v0.7h-0.7zM287.5 333.2h0.8v0.8h-0.8zM284.4 345.9h1.0v1.0h-1.0zM267.0 269.4h1.3v1.3h-1.3zM292.7 277.7h1.1v1.1h-1.1zM275.2 278.5h0.9v0.9h-0.9zM310.8 341.0h1.2v1.2h-1.2zM315.2 338.2h0.7v0.7h-0.7zM268.6 264.0h1.2v1.2h-1.2zM321.1 346.4h0.7v0.7h-0.7zM288.5 335.7h0.9v0.9h-0.9zM258.8 285.3h0.7v0.7h-0.7zM256.2 270.5h1.2v1.2h-1.2zM324.7 295.9h1.0v1.0h-1.0zM251.8 315.5h1.2v1.2h-1.2zM298.5 280.9h0.9v0.9h-0.9zM286.1 267.0h0.8v0.8h-0.8zM292.5 308.8h0.7v0.7h-0.7zM264.4 273.4h0.9v0.9h-0.9zM270.2 284.5h0.9v0.9h-0.9zM294.8 297.1h1.2v1.2h-1.2zM328.7 345.5h1.2v1.2h-1.2zM283.9 298.5h0.9v0.9h-0.9zM300.9 343.1h1.3v1.3h-1.3zM342.1 334.7h0.8v0.8h-0.8zM254.3 307.6h0.8v0.8h-0.8zM256.3 275.4h0.9v0.9h-0.9zM294.5 292.7h1.0v1.0h-1.0zM304.0 325.5h0.8v0.8h-0.8zM284.4 276.8h1.2v1.2h-1.2zM270.6 310.0h0.8v0.8h-0.8zM296.1 336.4h1.3v1.3h-1.3zM299.7 326.0h1.3v1.3h-1.3zM312.3 337.3h1.1v1.1h-1.1zM307.2 316.6h0.8v0.8h-0.8zM278.3 281.5h1.3v1.3h-1.3zM257.9 258.3h1.2v1.2h-1.2zM302.6 283.5h0.7v0.7h-0.7zM285.8 273.6h0.9v0.9h-0.9z"/><path fill="#f2281c" d="M274.4 287.2h1.1v1.1h-1.1zM275.1 292.3h1.4v1.4h-1.4zM273.6 288.5h1.5v1.5h-1.5zM275.6 291.3h1.0v1.0h-1.0zM273.7 289.1h1.0v1.0h-1.0zM273.8 288.2h1.2v1.2h-1.2zM275.2 292.4h1.1v1.1h-1.1zM274.8 292.3h1.5v1.5h-1.5zM271.0 282.0h1.5v1.5h-1.5zM278.5 284.5h1.5v1.5h-1.5zM258.3 301.2h1.5v1.5h-1.5zM258.5 302.0h1.0v1.0h-1.0zM257.6 302.7h1.3v1.3h-1.3zM256.7 299.8h1.5v1.5h-1.5zM258.5 301.6h1.3v1.3h-1.3zM258.3 302.5h1.2v1.2h-1.2zM259.4 303.6h1.4v1.4h-1.4zM283.1 300.0h1.7v1.7h-1.7zM281.5 300.0h1.3v1.3h-1.3zM282.8 299.2h1.4v1.4h-1.4zM281.3 300.0h1.6v1.6h-1.6zM281.6 299.3h1.0v1.0h-1.0zM281.8 300.0h1.2v1.2h-1.2zM247.1 313.8h1.4v1.4h-1.4zM247.9 311.9h1.1v1.1h-1.1zM248.1 311.7h1.2v1.2h-1.2zM250.1 310.2h1.4v1.4h-1.4zM248.1 313.1h1.1v1.1h-1.1zM249.3 311.1h1.2v1.2h-1.2zM253.1 337.9h1.3v1.3h-1.3zM255.5 336.0h1.5v1.5h-1.5zM254.6 336.3h1.0v1.0h-1.0zM253.3 337.3h1.2v1.2h-1.2zM254.7 336.1h1.4v1.4h-1.4zM251.6 337.9h1.6v1.6h-1.6zM270.4 336.9h1.3v1.3h-1.3zM269.4 337.6h1.1v1.1h-1.1zM265.2 339.0h1.1v1.1h-1.1zM271.1 336.4h1.5v1.5h-1.5zM265.5 340.1h1.3v1.3h-1.3zM265.2 339.6h1.1v1.1h-1.1zM285.8 335.1h1.2v1.2h-1.2zM285.6 334.0h1.1v1.1h-1.1zM285.4 333.2h1.0v1.0h-1.0zM313.4 312.2h2.0v2.0h-2.0zM322.8 313.3h1.2v1.2h-1.2zM319.5 313.0h1.7v1.7h-1.7zM322.7 314.1h1.8v1.8h-1.8zM314.5 313.2h1.2v1.2h-1.2zM325.5 313.5h1.2v1.2h-1.2zM322.5 313.8h1.1v1.1h-1.1zM316.4 313.0h1.3v1.3h-1.3zM312.4 314.8h1.5v1.5h-1.5zM324.1 312.9h1.9v1.9h-1.9zM316.9 312.7h1.0v1.0h-1.0zM317.8 313.0h1.6v1.6h-1.6zM314.6 312.7h2.0v2.0h-2.0zM313.8 313.3h1.2v1.2h-1.2zM315.9 313.9h1.1v1.1h-1.1zM321.6 312.9h1.8v1.8h-1.8zM319.3 313.7h1.7v1.7h-1.7zM318.2 312.8h1.2v1.2h-1.2zM323.8 314.7h1.9v1.9h-1.9zM317.1 313.3h1.4v1.4h-1.4zM322.1 313.2h1.3v1.3h-1.3zM324.2 314.9h1.7v1.7h-1.7zM324.4 315.2h1.5v1.5h-1.5zM325.1 314.2h1.7v1.7h-1.7zM318.6 312.9h1.4v1.4h-1.4zM315.2 314.3h1.4v1.4h-1.4zM320.0 312.5h1.4v1.4h-1.4zM320.5 315.5h2.0v2.0h-2.0zM321.3 316.1h1.8v1.8h-1.8zM320.2 316.2h1.5v1.5h-1.5zM320.6 316.5h1.7v1.7h-1.7zM324.5 317.7h1.5v1.5h-1.5zM323.5 317.1h1.8v1.8h-1.8zM320.0 316.0h1.7v1.7h-1.7zM321.5 316.8h1.2v1.2h-1.2zM321.2 315.6h1.7v1.7h-1.7zM322.5 317.1h1.2v1.2h-1.2zM321.9 317.5h1.6v1.6h-1.6zM321.9 317.7h1.9v1.9h-1.9zM324.1 318.1h1.4v1.4h-1.4zM329.0 328.9h1.6v1.6h-1.6zM328.1 328.7h1.5v1.5h-1.5zM333.0 322.7h1.3v1.3h-1.3zM331.0 329.0h1.2v1.2h-1.2zM333.7 320.4h1.7v1.7h-1.7zM326.6 321.0h2.0v2.0h-2.0zM333.6 326.0h1.1v1.1h-1.1zM327.2 327.6h1.0v1.0h-1.0zM331.2 319.1h1.3v1.3h-1.3zM330.1 320.3h1.5v1.5h-1.5zM332.2 320.1h1.4v1.4h-1.4zM327.5 328.1h1.2v1.2h-1.2zM324.0 323.5h1.2v1.2h-1.2zM326.5 325.9h1.5v1.5h-1.5zM334.0 322.3h2.0v2.0h-2.0zM327.0 326.8h1.7v1.7h-1.7zM329.1 319.2h1.4v1.4h-1.4zM333.3 325.3h1.3v1.3h-1.3zM334.6 325.3h1.3v1.3h-1.3zM324.1 322.2h1.2v1.2h-1.2zM326.4 320.2h2.0v2.0h-2.0zM327.4 320.7h1.1v1.1h-1.1zM324.9 321.9h1.6v1.6h-1.6zM329.1 328.5h1.3v1.3h-1.3zM333.4 320.4h1.4v1.4h-1.4zM325.2 322.1h1.9v1.9h-1.9zM333.7 321.1h1.0v1.0h-1.0zM327.8 327.8h1.5v1.5h-1.5zM329.8 327.5h1.2v1.2h-1.2zM329.9 320.7h1.6v1.6h-1.6zM324.4 322.7h1.2v1.2h-1.2zM331.0 327.3h1.9v1.9h-1.9zM334.4 324.2h1.1v1.1h-1.1zM331.5 320.2h2.0v2.0h-2.0zM332.7 326.6h1.9v1.9h-1.9zM326.5 327.8h1.7v1.7h-1.7zM331.4 326.7h1.5v1.5h-1.5zM330.1 319.8h1.3v1.3h-1.3zM328.2 327.7h1.5v1.5h-1.5zM332.0 327.8h1.4v1.4h-1.4zM330.6 320.7h1.7v1.7h-1.7zM334.7 323.4h1.2v1.2h-1.2zM334.7 321.7h1.4v1.4h-1.4zM330.4 328.9h2.0v2.0h-2.0zM323.8 324.1h1.6v1.6h-1.6zM327.7 328.1h1.1v1.1h-1.1zM331.4 327.5h1.3v1.3h-1.3zM333.3 320.0h1.3v1.3h-1.3zM324.9 322.4h1.6v1.6h-1.6zM334.2 324.0h1.4v1.4h-1.4zM333.6 322.0h1.8v1.8h-1.8zM328.0 327.5h1.3v1.3h-1.3zM327.6 320.9h2.0v2.0h-2.0zM329.3 327.9h1.9v1.9h-1.9zM335.1 324.2h1.1v1.1h-1.1zM326.0 326.0h1.5v1.5h-1.5zM333.8 322.3h1.2v1.2h-1.2zM330.1 328.9h1.3v1.3h-1.3zM326.5 328.1h1.2v1.2h-1.2zM324.9 327.3h1.8v1.8h-1.8zM327.0 319.8h1.5v1.5h-1.5zM331.2 319.5h1.2v1.2h-1.2zM324.6 324.3h1.5v1.5h-1.5zM322.6 324.8h1.6v1.6h-1.6zM329.0 327.7h1.6v1.6h-1.6zM328.2 320.5h1.0v1.0h-1.0zM331.9 321.4h1.3v1.3h-1.3zM332.2 329.7h1.5v1.5h-1.5zM325.5 329.6h1.8v1.8h-1.8zM326.9 328.4h2.1v2.1h-2.1zM328.4 329.8h2.0v2.0h-2.0zM327.3 329.6h2.0v2.0h-2.0zM330.6 329.0h2.2v2.2h-2.2zM326.0 329.1h2.0v2.0h-2.0zM334.3 329.1h2.1v2.1h-2.1zM323.2 328.3h2.1v2.1h-2.1zM335.2 329.2h1.6v1.6h-1.6zM328.8 329.7h1.8v1.8h-1.8zM326.9 329.1h1.7v1.7h-1.7zM328.1 330.2h2.0v2.0h-2.0zM330.7 328.7h1.5v1.5h-1.5zM333.8 328.9h1.7v1.7h-1.7zM328.3 330.0h1.6v1.6h-1.6zM331.8 327.8h1.6v1.6h-1.6zM329.4 329.8h1.9v1.9h-1.9zM332.0 328.6h2.0v2.0h-2.0zM327.8 329.2h1.6v1.6h-1.6zM327.5 329.8h2.2v2.2h-2.2zM327.6 329.6h1.4v1.4h-1.4zM331.9 329.1h1.7v1.7h-1.7zM328.8 330.2h1.5v1.5h-1.5zM331.1 329.0h1.8v1.8h-1.8zM328.3 331.1h1.3v1.3h-1.3zM332.2 329.0h2.0v2.0h-2.0zM327.8 329.1h1.6v1.6h-1.6zM328.3 329.9h2.1v2.1h-2.1zM310.7 326.0h1.6v1.6h-1.6zM306.6 334.9h1.2v1.2h-1.2zM307.4 330.4h1.5v1.5h-1.5zM304.5 335.7h1.6v1.6h-1.6zM303.9 333.3h1.0v1.0h-1.0zM304.6 334.4h1.7v1.7h-1.7zM307.3 327.7h0.8v0.8h-0.8zM304.2 338.6h1.2v1.2h-1.2zM306.4 333.6h1.0v1.0h-1.0zM312.0 323.5h1.0v1.0h-1.0zM304.3 335.8h1.8v1.8h-1.8zM309.3 327.7h0.9v0.9h-0.9zM303.7 339.0h0.9v0.9h-0.9zM307.4 331.5h1.6v1.6h-1.6zM306.9 331.7h1.1v1.1h-1.1zM304.4 338.4h1.8v1.8h-1.8zM309.0 327.4h1.4v1.4h-1.4zM310.4 322.1h1.7v1.7h-1.7zM305.2 335.3h1.6v1.6h-1.6zM299.8 312.2h1.4v1.4h-1.4zM297.5 313.7h1.6v1.6h-1.6zM298.4 311.5h1.5v1.5h-1.5zM300.6 312.2h1.2v1.2h-1.2zM299.7 311.3h1.6v1.6h-1.6zM303.4 310.1h1.5v1.5h-1.5zM296.7 312.3h1.5v1.5h-1.5zM300.1 311.8h0.9v0.9h-0.9zM298.5 312.7h1.2v1.2h-1.2zM300.4 311.5h1.0v1.0h-1.0zM305.3 310.0h1.2v1.2h-1.2zM307.3 309.4h1.5v1.5h-1.5zM304.3 309.6h1.4v1.4h-1.4zM305.9 309.1h1.6v1.6h-1.6zM304.3 311.1h1.1v1.1h-1.1zM306.1 309.4h1.1v1.1h-1.1zM305.7 310.2h1.2v1.2h-1.2zM303.5 310.3h1.0v1.0h-1.0zM308.5 308.0h1.2v1.2h-1.2zM335.8 307.6h1.5v1.5h-1.5zM336.0 304.7h1.6v1.6h-1.6zM336.8 305.2h1.5v1.5h-1.5zM337.0 305.6h1.4v1.4h-1.4zM335.4 306.1h1.5v1.5h-1.5zM346.7 317.2h1.5v1.5h-1.5zM343.7 313.5h1.4v1.4h-1.4zM347.5 318.3h1.4v1.4h-1.4zM344.8 315.1h1.1v1.1h-1.1zM343.8 313.2h1.6v1.6h-1.6zM344.3 313.0h1.6v1.6h-1.6zM346.1 318.0h1.0v1.0h-1.0zM345.9 314.3h1.5v1.5h-1.5zM345.8 316.2h0.9v0.9h-0.9zM346.8 325.8h1.1v1.1h-1.1zM345.8 327.2h1.2v1.2h-1.2zM346.4 326.3h1.2v1.2h-1.2zM346.9 325.8h1.6v1.6h-1.6zM345.4 328.9h0.7v0.7h-0.7zM344.7 325.8h0.8v0.8h-0.8zM342.6 327.6h0.9v0.9h-0.9zM343.9 321.6h1.0v1.0h-1.0zM343.1 326.0h0.9v0.9h-0.9zM341.4 314.7h1.3v1.3h-1.3zM338.0 317.5h0.8v0.8h-0.8zM335.6 318.1h1.0v1.0h-1.0zM338.2 312.8h1.1v1.1h-1.1zM339.6 319.0h1.0v1.0h-1.0zM346.0 317.9h0.9v0.9h-0.9zM341.5 313.8h0.9v0.9h-0.9zM336.0 325.0h1.2v1.2h-1.2zM341.8 321.1h1.0v1.0h-1.0zM305.8 353.4h1.2v1.2h-1.2zM306.8 353.5h1.3v1.3h-1.3zM308.1 351.3h1.2v1.2h-1.2zM307.7 351.9h1.0v1.0h-1.0zM307.4 350.8h1.5v1.5h-1.5zM306.9 351.8h1.2v1.2h-1.2zM308.0 352.6h1.1v1.1h-1.1zM306.5 353.5h1.3v1.3h-1.3zM320.0 349.5h1.4v1.4h-1.4zM340.5 288.2h1.5v1.5h-1.5zM342.9 285.9h0.9v0.9h-0.9zM340.7 287.3h1.3v1.3h-1.3zM340.6 287.1h1.4v1.4h-1.4zM344.7 284.4h1.3v1.3h-1.3zM344.7 284.8h1.1v1.1h-1.1zM343.0 285.8h1.5v1.5h-1.5zM344.3 284.5h1.1v1.1h-1.1zM341.8 286.3h1.6v1.6h-1.6zM343.4 285.7h1.2v1.2h-1.2zM345.0 283.8h1.2v1.2h-1.2zM340.1 288.6h1.7v1.7h-1.7zM342.5 286.2h1.1v1.1h-1.1z"/><path fill="#f06030" d="M261.0 281.0h1.5v1.5h-1.5z"/><path fill="#f05020" d="M278.0 255.3h1.6v1.6h-1.6z"/><path fill="#ffe40a" d="M258.4 303.1h1.4v1.4h-1.4zM280.5 300.7h1.1v1.1h-1.1zM289.4 314.0h1.2v1.2h-1.2zM292.4 312.9h1.3v1.3h-1.3zM291.0 312.5h1.2v1.2h-1.2zM254.6 336.2h1.2v1.2h-1.2zM251.7 338.0h1.3v1.3h-1.3zM251.6 338.4h1.5v1.5h-1.5zM253.0 337.0h1.1v1.1h-1.1zM271.1 336.4h1.5v1.5h-1.5zM268.1 337.9h1.0v1.0h-1.0zM269.4 337.7h1.3v1.3h-1.3zM268.3 338.4h1.1v1.1h-1.1zM266.4 340.2h1.1v1.1h-1.1zM266.7 338.8h1.1v1.1h-1.1zM286.3 335.1h1.1v1.1h-1.1zM285.3 334.1h1.1v1.1h-1.1zM285.3 333.4h1.4v1.4h-1.4zM273.0 331.0h1.5v1.5h-1.5zM320.5 312.5h1.7v1.7h-1.7zM317.8 313.1h1.0v1.0h-1.0zM323.6 313.0h1.4v1.4h-1.4zM317.2 312.3h1.5v1.5h-1.5zM318.4 312.7h1.7v1.7h-1.7zM323.7 314.3h1.3v1.3h-1.3zM314.4 312.9h1.9v1.9h-1.9zM323.8 324.7h1.6v1.6h-1.6zM332.7 327.4h1.7v1.7h-1.7zM334.1 323.4h1.9v1.9h-1.9zM326.5 320.6h1.7v1.7h-1.7zM327.6 319.5h1.6v1.6h-1.6zM328.2 327.1h1.4v1.4h-1.4zM325.2 325.7h1.5v1.5h-1.5zM329.0 319.5h1.6v1.6h-1.6zM326.3 321.0h1.4v1.4h-1.4zM330.4 328.3h1.3v1.3h-1.3zM330.3 327.9h1.1v1.1h-1.1zM326.6 320.1h1.5v1.5h-1.5zM335.7 323.5h1.8v1.8h-1.8zM325.0 327.2h1.2v1.2h-1.2zM326.7 327.1h1.1v1.1h-1.1zM330.6 328.8h1.9v1.9h-1.9zM325.1 329.7h1.8v1.8h-1.8zM334.0 329.0h1.8v1.8h-1.8zM333.9 328.6h1.4v1.4h-1.4zM334.8 328.5h1.9v1.9h-1.9zM325.9 328.5h1.6v1.6h-1.6zM330.7 329.9h1.5v1.5h-1.5zM325.1 329.2h2.1v2.1h-2.1zM327.8 330.4h1.6v1.6h-1.6zM326.0 323.0h1.4v1.4h-1.4zM324.0 326.5h1.5v1.5h-1.5zM305.6 334.3h0.8v0.8h-0.8zM303.1 339.5h1.0v1.0h-1.0zM306.5 334.1h1.8v1.8h-1.8zM304.5 339.2h1.5v1.5h-1.5zM305.3 332.9h1.7v1.7h-1.7zM309.7 327.5h1.3v1.3h-1.3zM304.5 334.4h1.7v1.7h-1.7zM303.6 337.5h1.7v1.7h-1.7zM302.2 338.0h1.5v1.5h-1.5zM306.9 332.5h1.3v1.3h-1.3zM304.6 334.4h1.4v1.4h-1.4zM309.0 327.7h1.0v1.0h-1.0zM310.4 327.3h1.4v1.4h-1.4zM305.9 332.7h1.3v1.3h-1.3zM307.1 330.7h1.0v1.0h-1.0zM304.2 338.4h1.3v1.3h-1.3zM300.3 312.2h1.2v1.2h-1.2zM300.1 311.6h1.2v1.2h-1.2zM308.1 308.2h1.2v1.2h-1.2zM335.0 307.7h1.0v1.0h-1.0zM344.7 316.2h1.0v1.0h-1.0zM346.9 325.3h1.0v1.0h-1.0zM345.4 326.8h1.1v1.1h-1.1zM342.9 314.0h0.9v0.9h-0.9zM338.7 311.9h1.1v1.1h-1.1zM343.0 319.6h1.3v1.3h-1.3zM344.5 309.4h1.2v1.2h-1.2zM341.0 313.0h0.8v0.8h-0.8zM340.8 328.4h0.9v0.9h-0.9zM337.7 309.3h1.0v1.0h-1.0zM310.1 350.6h1.4v1.4h-1.4zM310.3 349.9h0.8v0.8h-0.8zM309.7 351.8h1.4v1.4h-1.4zM307.9 352.9h1.0v1.0h-1.0zM308.0 351.5h1.1v1.1h-1.1zM310.5 351.8h1.4v1.4h-1.4zM308.9 351.4h1.2v1.2h-1.2zM334.6 335.6h1.4v1.4h-1.4zM343.8 285.0h1.6v1.6h-1.6zM342.1 286.2h1.1v1.1h-1.1zM341.4 287.0h1.7v1.7h-1.7zM344.0 284.6h1.0v1.0h-1.0z"/><path fill="#fd9a2a" d="M281.9 300.6h1.3v1.3h-1.3zM248.5 311.4h1.4v1.4h-1.4zM249.1 310.2h1.0v1.0h-1.0zM290.1 312.9h1.2v1.2h-1.2zM291.4 313.1h1.3v1.3h-1.3zM290.4 313.0h1.3v1.3h-1.3zM292.7 311.5h1.0v1.0h-1.0zM291.7 312.3h1.0v1.0h-1.0zM292.0 312.9h1.0v1.0h-1.0zM254.9 336.2h1.5v1.5h-1.5zM326.6 313.2h1.3v1.3h-1.3zM320.5 312.5h1.8v1.8h-1.8zM312.7 313.7h1.9v1.9h-1.9zM317.9 312.8h1.8v1.8h-1.8zM312.2 314.3h1.7v1.7h-1.7zM322.8 313.1h1.1v1.1h-1.1zM321.3 316.5h1.9v1.9h-1.9zM332.7 326.8h1.4v1.4h-1.4zM330.9 327.0h1.9v1.9h-1.9zM324.3 324.2h1.2v1.2h-1.2zM334.1 325.4h1.6v1.6h-1.6zM325.7 326.9h1.1v1.1h-1.1zM334.5 324.7h1.4v1.4h-1.4zM326.0 321.2h1.5v1.5h-1.5zM326.9 329.7h2.1v2.1h-2.1zM331.2 328.0h1.3v1.3h-1.3zM326.9 328.0h2.1v2.1h-2.1zM303.6 335.4h0.9v0.9h-0.9zM309.9 324.9h1.8v1.8h-1.8zM311.4 323.6h1.5v1.5h-1.5zM313.1 324.4h1.8v1.8h-1.8zM310.8 330.2h1.7v1.7h-1.7zM311.1 325.7h0.8v0.8h-0.8zM306.9 328.4h1.0v1.0h-1.0zM307.9 332.3h1.4v1.4h-1.4zM309.9 329.1h0.9v0.9h-0.9zM309.1 328.2h1.0v1.0h-1.0zM304.6 335.8h1.0v1.0h-1.0zM309.8 325.8h1.6v1.6h-1.6zM308.0 330.8h1.0v1.0h-1.0zM304.4 336.5h1.7v1.7h-1.7zM307.3 332.0h1.4v1.4h-1.4zM309.3 307.3h1.3v1.3h-1.3zM304.2 310.7h1.6v1.6h-1.6zM337.0 305.5h1.6v1.6h-1.6zM335.8 305.2h1.1v1.1h-1.1zM345.8 316.0h1.0v1.0h-1.0zM345.8 316.2h1.1v1.1h-1.1zM347.4 317.2h1.4v1.4h-1.4zM347.2 317.0h1.2v1.2h-1.2zM345.1 306.7h1.1v1.1h-1.1zM329.8 307.5h1.3v1.3h-1.3zM340.4 302.1h0.9v0.9h-0.9zM343.9 324.0h1.0v1.0h-1.0zM339.2 315.5h0.7v0.7h-0.7zM341.6 320.6h0.7v0.7h-0.7zM337.9 316.1h0.8v0.8h-0.8zM338.8 312.4h1.1v1.1h-1.1zM340.9 320.1h0.9v0.9h-0.9zM342.3 286.6h1.4v1.4h-1.4zM342.4 285.8h1.3v1.3h-1.3zM340.2 288.1h1.5v1.5h-1.5zM343.2 285.2h1.4v1.4h-1.4z"/><rect x="242.5" y="254.5" width="107" height="101" fill="none" stroke="#5a5a5a" stroke-width="1"/><line x1="238" y1="258.6" x2="242" y2="258.6" stroke="#777" stroke-width="1" /><text x="234.4" y="262.4" font-size="9" font-weight="bold" text-anchor="end" fill="#000" stroke="#000" stroke-width="0.25" >38.20°N</text><line x1="238" y1="315.4" x2="242" y2="315.4" stroke="#777" stroke-width="1" /><text x="234.4" y="319.2" font-size="9" font-weight="bold" text-anchor="end" fill="#000" stroke="#000" stroke-width="0.25" >38.15°N</text><line x1="279" y1="356" x2="279" y2="360" stroke="#777" stroke-width="1" /><text x="279.0" y="370.0" font-size="9" font-weight="bold" text-anchor="middle" fill="#000" stroke="#000" stroke-width="0.25" >27.20°E</text><line x1="336" y1="356" x2="336" y2="360" stroke="#777" stroke-width="1" /><text x="336.0" y="370.0" font-size="9" font-weight="bold" text-anchor="middle" fill="#000" stroke="#000" stroke-width="0.25" >27.25°E</text><text x="245.6" y="266.6" font-size="14.5" font-weight="normal" text-anchor="start" fill="#000" stroke="#000" stroke-width="0.25" >4</text><rect x="403.0" y="254.0" width="108.0" height="102.0" fill="#abe0e3" /><rect x="436.0" y="259.0" width="16.0" height="4.0" fill="#b4dcea" /><rect x="404.0" y="263.0" width="16.0" height="5.0" fill="#b4dcea" /><rect x="420.0" y="263.0" width="32.0" height="5.0" fill="#8ac6e6" /><rect x="452.0" y="263.0" width="3.0" height="5.0" fill="#b4dcea" /><rect x="404.0" y="268.0" width="11.0" height="4.0" fill="#b4dcea" /><rect x="415.0" y="268.0" width="11.0" height="4.0" fill="#8ac6e6" /><rect x="434.0" y="268.0" width="6.0" height="4.0" fill="#8ac6e6" /><rect x="440.0" y="268.0" width="12.0" height="4.0" fill="#4aa2e0" /><rect x="404.0" y="272.0" width="6.0" height="5.0" fill="#4aa2e0" /><rect x="410.0" y="272.0" width="7.0" height="5.0" fill="#1c7ad8" /><rect x="417.0" y="272.0" width="5.0" height="5.0" fill="#1c7ad8" /><rect x="422.0" y="272.0" width="4.0" height="5.0" fill="#8ac6e6" /><rect x="434.0" y="272.0" width="4.0" height="5.0" fill="#8ac6e6" /><rect x="438.0" y="272.0" width="14.0" height="5.0" fill="#1c7ad8" /><rect x="452.0" y="272.0" width="5.0" height="5.0" fill="#8ac6e6" /><rect x="404.0" y="277.0" width="6.0" height="4.0" fill="#1c7ad8" /><rect x="410.0" y="277.0" width="7.0" height="4.0" fill="#1c7ad8" /><rect x="417.0" y="277.0" width="5.0" height="4.0" fill="#0c5cc6" /><rect x="422.0" y="277.0" width="4.0" height="4.0" fill="#4aa2e0" /><rect x="438.0" y="277.0" width="14.0" height="4.0" fill="#1c7ad8" /><rect x="404.0" y="281.0" width="8.0" height="5.0" fill="#1c7ad8" /><rect x="404.0" y="286.0" width="6.0" height="4.0" fill="#1c7ad8" /><rect x="495.0" y="331.0" width="5.0" height="19.0" fill="#8ac6e6" /><rect x="500.0" y="337.0" width="4.0" height="13.0" fill="#8ac6e6" /><rect x="504.0" y="341.0" width="5.0" height="9.0" fill="#b4dcea" /><rect x="476.0" y="302.0" width="4.0" height="6.0" fill="#8ac6e6" /><ellipse cx="420" cy="303" rx="2" ry="1.5" fill="#f2281c" transform="rotate(0 420 303)"/><ellipse cx="443.5" cy="328" rx="2" ry="1.5" fill="#f2281c" transform="rotate(0 443.5 328)"/><path fill="#e8b070" d="M420.7 317.2h0.9v0.9h-0.9zM435.3 319.4h0.8v0.8h-0.8zM436.5 310.2h0.9v0.9h-0.9zM486.6 277.0h0.9v0.9h-0.9zM479.9 307.0h0.8v0.8h-0.8zM473.2 331.4h0.8v0.8h-0.8zM450.2 278.2h0.6v0.6h-0.6zM458.5 275.8h0.7v0.7h-0.7zM438.7 294.5h0.6v0.6h-0.6zM461.5 277.1h0.8v0.8h-0.8zM446.2 259.3h0.8v0.8h-0.8zM480.1 314.3h0.9v0.9h-0.9zM425.3 264.3h1.0v1.0h-1.0zM487.1 283.4h0.9v0.9h-0.9zM455.1 329.0h0.9v0.9h-0.9zM499.0 277.3h0.7v0.7h-0.7zM469.8 273.8h0.6v0.6h-0.6zM469.5 269.4h1.1v1.1h-1.1zM464.6 292.0h0.7v0.7h-0.7zM461.6 339.8h0.6v0.6h-0.6zM480.3 296.7h0.6v0.6h-0.6zM503.5 317.6h1.0v1.0h-1.0zM476.6 343.9h0.9v0.9h-0.9zM436.1 310.7h1.0v1.0h-1.0zM454.8 261.6h0.8v0.8h-0.8zM447.7 302.8h1.0v1.0h-1.0zM447.8 296.9h0.8v0.8h-0.8zM478.4 308.0h0.7v0.7h-0.7zM483.3 278.3h0.9v0.9h-0.9zM456.5 291.4h1.0v1.0h-1.0zM428.4 325.4h1.1v1.1h-1.1zM440.2 296.0h1.1v1.1h-1.1zM420.7 300.0h0.9v0.9h-0.9zM444.2 275.3h1.0v1.0h-1.0zM500.1 293.8h0.6v0.6h-0.6zM474.4 280.0h0.8v0.8h-0.8zM426.3 294.5h0.9v0.9h-0.9zM459.7 300.7h0.9v0.9h-0.9zM467.0 306.4h0.6v0.6h-0.6zM482.6 299.1h1.1v1.1h-1.1zM428.6 286.3h0.8v0.8h-0.8zM409.6 318.7h0.9v0.9h-0.9zM415.4 293.8h0.7v0.7h-0.7zM508.7 320.2h1.0v1.0h-1.0z"/><path fill="#ead04a" d="M487.9 328.0h0.9v0.9h-0.9zM469.3 260.9h0.8v0.8h-0.8zM418.0 291.8h0.9v0.9h-0.9zM450.1 347.8h1.1v1.1h-1.1zM502.8 294.6h1.0v1.0h-1.0zM439.6 325.9h1.1v1.1h-1.1zM413.3 283.6h0.7v0.7h-0.7zM434.2 315.8h0.9v0.9h-0.9zM449.2 302.3h0.8v0.8h-0.8zM438.7 308.7h1.0v1.0h-1.0zM474.1 311.3h0.9v0.9h-0.9zM423.0 261.3h0.6v0.6h-0.6zM476.1 330.4h1.1v1.1h-1.1zM471.1 284.7h1.0v1.0h-1.0zM499.4 309.0h0.9v0.9h-0.9zM444.0 331.9h0.8v0.8h-0.8zM452.6 285.3h0.9v0.9h-0.9zM472.2 258.3h0.8v0.8h-0.8zM424.7 333.8h0.7v0.7h-0.7zM414.7 282.1h1.0v1.0h-1.0zM450.2 303.1h0.7v0.7h-0.7zM429.4 299.3h1.0v1.0h-1.0zM465.7 284.7h1.0v1.0h-1.0zM430.0 335.1h0.7v0.7h-0.7zM504.0 311.0h0.7v0.7h-0.7zM476.8 337.5h0.9v0.9h-0.9zM468.2 285.3h0.9v0.9h-0.9zM504.7 310.0h0.8v0.8h-0.8zM469.8 300.3h0.9v0.9h-0.9zM492.3 293.8h1.0v1.0h-1.0zM464.6 309.1h0.7v0.7h-0.7zM423.1 314.3h0.6v0.6h-0.6zM477.8 324.2h0.9v0.9h-0.9zM489.9 297.2h0.7v0.7h-0.7zM485.0 322.3h0.8v0.8h-0.8zM454.4 297.8h0.9v0.9h-0.9zM461.2 269.6h0.9v0.9h-0.9zM447.1 266.5h0.8v0.8h-0.8z"/><path fill="#f0d080" d="M416.1 320.6h1.0v1.0h-1.0zM470.0 312.3h1.0v1.0h-1.0zM486.6 284.5h1.0v1.0h-1.0zM491.4 304.5h0.7v0.7h-0.7zM451.4 267.4h1.1v1.1h-1.1zM470.3 320.0h0.9v0.9h-0.9zM447.3 286.9h0.6v0.6h-0.6zM415.6 286.7h1.1v1.1h-1.1zM476.1 287.4h1.1v1.1h-1.1zM450.0 305.1h0.8v0.8h-0.8zM474.6 336.7h0.9v0.9h-0.9zM466.7 278.7h0.7v0.7h-0.7zM457.6 269.1h0.8v0.8h-0.8zM489.2 283.0h1.1v1.1h-1.1zM454.0 258.5h0.7v0.7h-0.7zM426.5 334.9h0.8v0.8h-0.8zM475.6 272.0h0.9v0.9h-0.9zM438.7 299.4h1.0v1.0h-1.0zM482.0 341.0h0.8v0.8h-0.8zM446.3 308.8h0.9v0.9h-0.9z"/><path fill="#ec7a50" d="M444.5 279.6h0.9v0.9h-0.9zM428.8 307.8h0.7v0.7h-0.7zM485.5 344.5h0.6v0.6h-0.6zM460.7 292.2h1.0v1.0h-1.0zM453.2 329.5h1.1v1.1h-1.1zM468.3 334.5h0.6v0.6h-0.6zM437.0 339.4h0.7v0.7h-0.7zM420.1 281.3h0.7v0.7h-0.7zM468.6 318.5h0.9v0.9h-0.9zM437.3 261.1h1.0v1.0h-1.0zM473.6 341.7h0.7v0.7h-0.7zM410.5 306.9h1.0v1.0h-1.0zM454.3 343.4h1.0v1.0h-1.0zM436.2 296.0h0.8v0.8h-0.8zM468.1 305.2h0.6v0.6h-0.6zM492.0 293.5h0.6v0.6h-0.6zM496.2 331.0h0.6v0.6h-0.6zM428.9 323.0h1.0v1.0h-1.0zM452.9 304.4h1.0v1.0h-1.0zM427.3 296.5h0.6v0.6h-0.6zM430.8 318.6h1.0v1.0h-1.0zM483.3 266.9h0.8v0.8h-0.8z"/><path fill="#fd9a2a" d="M422.5 306.8h1.5v1.5h-1.5zM422.5 302.0h1.4v1.4h-1.4zM420.1 303.4h1.0v1.0h-1.0zM417.5 301.2h0.9v0.9h-0.9zM413.6 308.4h1.4v1.4h-1.4zM420.9 302.9h1.4v1.4h-1.4zM422.7 300.4h1.0v1.0h-1.0zM417.3 306.5h1.3v1.3h-1.3zM424.4 305.6h1.4v1.4h-1.4zM419.9 302.6h1.3v1.3h-1.3zM416.6 307.6h1.5v1.5h-1.5zM426.2 301.2h1.5v1.5h-1.5zM413.4 299.8h1.1v1.1h-1.1zM405.8 322.0h1.9v1.9h-1.9zM452.0 318.3h1.2v1.2h-1.2zM453.7 316.6h1.3v1.3h-1.3zM443.6 331.3h1.4v1.4h-1.4zM451.0 319.5h1.4v1.4h-1.4zM453.5 316.7h1.5v1.5h-1.5zM442.4 329.2h0.9v0.9h-0.9zM452.2 320.1h0.8v0.8h-0.8zM451.4 320.0h1.5v1.5h-1.5zM445.1 328.6h0.8v0.8h-0.8zM447.7 321.8h1.0v1.0h-1.0zM451.1 316.9h1.3v1.3h-1.3zM440.8 336.4h1.6v1.6h-1.6zM443.0 331.2h1.0v1.0h-1.0zM454.4 315.7h1.2v1.2h-1.2zM439.8 337.2h1.1v1.1h-1.1zM451.8 317.3h1.1v1.1h-1.1zM442.4 336.7h1.5v1.5h-1.5zM423.5 353.0h0.9v0.9h-0.9zM431.9 350.1h1.2v1.2h-1.2zM424.4 348.7h1.3v1.3h-1.3zM429.4 351.1h0.9v0.9h-0.9zM423.0 350.2h1.1v1.1h-1.1zM425.2 347.7h1.1v1.1h-1.1zM423.9 348.9h1.0v1.0h-1.0zM417.2 350.6h1.3v1.3h-1.3zM423.6 351.0h1.4v1.4h-1.4zM425.2 349.8h1.1v1.1h-1.1zM468.8 267.2h1.4v1.4h-1.4zM468.1 267.3h1.3v1.3h-1.3zM469.6 266.2h1.1v1.1h-1.1zM470.9 264.4h1.0v1.0h-1.0zM470.4 264.6h1.4v1.4h-1.4zM469.3 267.5h1.0v1.0h-1.0zM468.7 264.8h1.2v1.2h-1.2zM470.7 264.3h1.3v1.3h-1.3zM470.8 264.3h1.5v1.5h-1.5zM469.8 265.9h1.0v1.0h-1.0zM493.7 262.7h1.1v1.1h-1.1zM495.3 260.2h0.9v0.9h-0.9zM494.5 262.0h1.2v1.2h-1.2zM495.9 259.9h1.1v1.1h-1.1zM491.0 264.6h1.2v1.2h-1.2zM494.1 265.0h1.2v1.2h-1.2zM492.5 264.7h1.3v1.3h-1.3zM491.5 264.8h1.1v1.1h-1.1zM495.5 261.3h1.3v1.3h-1.3zM495.0 262.4h1.0v1.0h-1.0zM495.2 260.3h1.1v1.1h-1.1zM495.3 262.0h1.2v1.2h-1.2zM494.6 261.1h1.2v1.2h-1.2zM490.7 265.4h1.3v1.3h-1.3zM492.3 264.9h0.9v0.9h-0.9zM491.0 265.6h1.2v1.2h-1.2zM490.7 264.6h1.0v1.0h-1.0zM492.7 263.1h1.2v1.2h-1.2zM461.9 295.0h0.9v0.9h-0.9zM459.6 291.5h0.9v0.9h-0.9zM458.2 291.1h1.0v1.0h-1.0zM457.9 289.5h0.9v0.9h-0.9zM465.2 297.0h1.0v1.0h-1.0zM461.9 294.4h1.1v1.1h-1.1zM461.5 294.0h1.0v1.0h-1.0zM487.0 329.2h1.0v1.0h-1.0zM486.7 328.5h1.1v1.1h-1.1zM488.5 330.5h1.0v1.0h-1.0zM483.6 324.0h1.0v1.0h-1.0zM475.2 313.5h1.2v1.2h-1.2zM485.2 326.1h1.2v1.2h-1.2zM497.3 343.7h0.8v0.8h-0.8zM489.1 330.8h0.9v0.9h-0.9zM488.0 329.1h1.0v1.0h-1.0zM467.8 301.4h0.9v0.9h-0.9zM482.5 323.1h0.8v0.8h-0.8zM484.0 325.1h1.1v1.1h-1.1zM496.6 344.4h1.0v1.0h-1.0zM465.0 298.1h0.9v0.9h-0.9zM486.0 326.6h0.8v0.8h-0.8zM501.0 348.8h0.8v0.8h-0.8zM474.3 311.0h0.9v0.9h-0.9zM483.5 323.2h1.2v1.2h-1.2zM494.2 340.0h1.0v1.0h-1.0zM450.8 268.9h1.4v1.4h-1.4zM445.4 262.8h1.1v1.1h-1.1zM448.7 266.3h0.9v0.9h-0.9zM505.1 291.2h1.2v1.2h-1.2zM504.4 318.0h0.9v0.9h-0.9zM506.2 313.5h0.9v0.9h-0.9zM504.9 314.5h1.2v1.2h-1.2zM505.2 316.0h0.8v0.8h-0.8zM498.3 308.6h1.2v1.2h-1.2zM503.3 309.3h0.8v0.8h-0.8zM503.1 308.8h1.2v1.2h-1.2zM499.4 316.8h0.9v0.9h-0.9zM506.0 305.1h0.9v0.9h-0.9zM478.3 347.4h1.0v1.0h-1.0zM482.8 347.6h1.1v1.1h-1.1zM483.6 344.1h0.8v0.8h-0.8zM472.2 347.6h0.7v0.7h-0.7zM478.1 350.7h1.1v1.1h-1.1zM489.0 345.1h0.9v0.9h-0.9zM492.8 345.3h0.8v0.8h-0.8z"/><path fill="#f2281c" d="M420.5 306.0h1.5v1.5h-1.5zM427.0 303.6h1.5v1.5h-1.5zM415.0 302.3h1.4v1.4h-1.4zM421.0 304.0h1.2v1.2h-1.2zM425.9 300.8h1.0v1.0h-1.0zM419.8 302.5h1.1v1.1h-1.1zM423.6 305.7h1.2v1.2h-1.2zM423.6 299.8h1.5v1.5h-1.5zM422.4 305.8h1.0v1.0h-1.0zM422.1 302.2h1.5v1.5h-1.5zM420.6 306.3h1.3v1.3h-1.3zM421.8 307.4h1.1v1.1h-1.1zM420.6 304.7h1.1v1.1h-1.1zM404.5 318.8h2.4v2.4h-2.4zM404.7 320.3h1.7v1.7h-1.7zM404.1 317.9h1.6v1.6h-1.6zM404.1 318.4h1.7v1.7h-1.7zM404.5 319.8h1.7v1.7h-1.7zM405.2 317.0h1.9v1.9h-1.9zM404.1 318.2h2.3v2.3h-2.3zM454.6 317.6h1.1v1.1h-1.1zM452.7 316.9h1.4v1.4h-1.4zM445.0 327.7h1.5v1.5h-1.5zM445.9 329.7h1.3v1.3h-1.3zM450.3 319.5h1.2v1.2h-1.2zM448.7 318.0h1.3v1.3h-1.3zM441.5 335.4h1.3v1.3h-1.3zM442.4 336.7h1.5v1.5h-1.5zM449.0 321.2h1.2v1.2h-1.2zM446.3 328.1h1.0v1.0h-1.0zM449.2 327.0h1.2v1.2h-1.2zM442.4 331.6h1.3v1.3h-1.3zM448.0 324.8h1.5v1.5h-1.5zM442.5 334.6h1.1v1.1h-1.1zM444.0 331.6h0.8v0.8h-0.8zM453.1 318.4h1.0v1.0h-1.0zM454.6 317.5h0.8v0.8h-0.8zM447.5 322.2h1.3v1.3h-1.3zM449.0 327.1h1.1v1.1h-1.1zM454.7 316.0h1.6v1.6h-1.6zM448.0 320.9h1.0v1.0h-1.0zM441.6 336.9h0.9v0.9h-0.9zM443.6 338.0h1.2v1.2h-1.2zM442.2 335.5h1.3v1.3h-1.3zM443.0 337.0h1.6v1.6h-1.6zM442.7 338.6h1.2v1.2h-1.2zM441.3 335.8h1.1v1.1h-1.1zM442.8 335.4h1.2v1.2h-1.2zM443.5 337.6h1.6v1.6h-1.6zM441.9 335.9h1.5v1.5h-1.5zM422.8 353.6h0.8v0.8h-0.8zM423.0 349.1h1.0v1.0h-1.0zM429.8 348.1h1.3v1.3h-1.3zM420.1 350.8h1.5v1.5h-1.5zM423.6 348.2h1.1v1.1h-1.1zM417.3 348.7h1.3v1.3h-1.3zM424.1 351.4h1.4v1.4h-1.4zM428.8 350.7h1.3v1.3h-1.3zM420.2 351.9h1.4v1.4h-1.4zM420.2 350.2h0.9v0.9h-0.9zM423.7 350.6h1.0v1.0h-1.0zM422.5 349.6h1.5v1.5h-1.5zM424.8 348.8h1.4v1.4h-1.4zM414.9 346.0h1.5v1.5h-1.5zM426.6 352.8h1.4v1.4h-1.4zM422.0 349.4h1.6v1.6h-1.6zM410.5 343.0h1.6v1.6h-1.6zM458.4 273.0h0.9v0.9h-0.9zM457.8 273.1h1.0v1.0h-1.0zM455.8 266.9h1.1v1.1h-1.1zM456.5 270.3h1.2v1.2h-1.2zM458.2 271.7h1.0v1.0h-1.0zM458.7 274.5h1.2v1.2h-1.2zM469.8 265.4h1.4v1.4h-1.4zM473.5 256.5h1.8v1.8h-1.8zM465.5 283.8h1.3v1.3h-1.3zM467.0 284.5h1.1v1.1h-1.1zM468.5 284.0h1.5v1.5h-1.5zM470.9 284.1h1.6v1.6h-1.6zM469.7 283.9h1.1v1.1h-1.1zM474.8 282.5h1.3v1.3h-1.3zM473.3 283.6h1.4v1.4h-1.4zM474.9 282.0h1.4v1.4h-1.4zM471.4 282.9h1.4v1.4h-1.4zM468.7 284.1h1.1v1.1h-1.1zM466.9 283.3h1.2v1.2h-1.2zM471.6 283.5h1.5v1.5h-1.5zM469.7 283.5h1.6v1.6h-1.6zM475.0 282.1h1.1v1.1h-1.1zM470.0 282.7h1.6v1.6h-1.6zM470.1 284.1h1.4v1.4h-1.4zM465.6 284.5h1.6v1.6h-1.6zM471.1 284.2h1.2v1.2h-1.2zM473.5 282.2h1.4v1.4h-1.4zM473.1 282.4h1.5v1.5h-1.5zM466.9 284.0h1.5v1.5h-1.5zM468.0 276.5h1.5v1.5h-1.5zM507.0 274.0h1.5v1.5h-1.5zM461.5 292.6h1.0v1.0h-1.0zM459.0 293.1h1.3v1.3h-1.3zM465.4 297.4h1.0v1.0h-1.0zM449.5 265.6h0.9v0.9h-0.9zM448.3 265.5h1.3v1.3h-1.3zM454.6 274.0h1.0v1.0h-1.0zM454.7 272.0h0.9v0.9h-0.9zM447.3 265.4h0.9v0.9h-0.9zM447.7 265.6h1.1v1.1h-1.1zM452.3 271.7h0.8v0.8h-0.8zM456.0 275.6h1.3v1.3h-1.3zM453.5 271.8h0.9v0.9h-0.9zM455.9 275.3h1.2v1.2h-1.2zM456.5 275.7h1.1v1.1h-1.1z"/><path fill="#ffe40a" d="M417.1 301.3h1.4v1.4h-1.4zM419.6 307.1h1.3v1.3h-1.3zM419.3 300.2h1.1v1.1h-1.1zM415.6 303.7h0.8v0.8h-0.8zM421.0 302.1h1.5v1.5h-1.5zM416.8 309.0h1.2v1.2h-1.2zM420.8 305.5h1.1v1.1h-1.1zM420.0 299.6h1.0v1.0h-1.0zM421.6 303.8h1.4v1.4h-1.4zM416.6 301.5h1.4v1.4h-1.4zM421.8 296.7h1.3v1.3h-1.3zM413.7 298.6h0.8v0.8h-0.8zM426.3 306.8h0.8v0.8h-0.8zM423.2 308.2h1.6v1.6h-1.6zM404.0 318.1h1.7v1.7h-1.7zM445.4 329.5h1.5v1.5h-1.5zM448.2 320.6h1.4v1.4h-1.4zM451.0 321.7h0.9v0.9h-0.9zM437.3 339.6h0.9v0.9h-0.9zM451.4 317.2h0.8v0.8h-0.8zM444.4 334.0h1.5v1.5h-1.5zM445.6 325.5h1.6v1.6h-1.6zM449.7 321.9h0.8v0.8h-0.8zM449.0 320.3h1.1v1.1h-1.1zM441.7 335.5h1.4v1.4h-1.4zM441.9 333.4h1.0v1.0h-1.0zM446.8 328.8h1.1v1.1h-1.1zM438.6 340.8h1.0v1.0h-1.0zM444.4 328.1h1.0v1.0h-1.0zM450.7 317.0h0.9v0.9h-0.9zM452.1 319.0h1.2v1.2h-1.2zM447.9 321.1h1.5v1.5h-1.5zM453.0 317.6h1.3v1.3h-1.3zM452.8 317.5h1.5v1.5h-1.5zM446.6 321.9h1.0v1.0h-1.0zM446.9 325.2h1.4v1.4h-1.4zM440.8 335.6h1.1v1.1h-1.1zM442.9 338.0h1.7v1.7h-1.7zM443.2 339.1h1.3v1.3h-1.3zM444.0 339.3h1.2v1.2h-1.2zM443.8 337.3h1.6v1.6h-1.6zM436.1 346.9h0.9v0.9h-0.9zM429.5 347.1h1.3v1.3h-1.3zM430.3 351.6h1.0v1.0h-1.0zM431.9 350.0h1.1v1.1h-1.1zM427.4 347.5h1.3v1.3h-1.3zM422.0 348.7h0.9v0.9h-0.9zM414.3 351.3h1.1v1.1h-1.1zM426.1 347.5h1.4v1.4h-1.4zM428.0 348.3h1.4v1.4h-1.4zM418.3 348.1h1.3v1.3h-1.3zM427.4 353.5h1.2v1.2h-1.2zM421.4 352.2h1.1v1.1h-1.1zM428.6 349.8h1.0v1.0h-1.0zM419.7 349.8h0.9v0.9h-0.9zM418.5 348.1h1.2v1.2h-1.2zM423.9 348.5h1.5v1.5h-1.5zM420.3 347.1h1.4v1.4h-1.4zM421.7 347.3h1.2v1.2h-1.2zM426.7 350.3h1.2v1.2h-1.2zM422.4 351.0h1.0v1.0h-1.0zM425.9 350.4h1.1v1.1h-1.1zM420.9 349.8h1.6v1.6h-1.6zM434.3 352.8h1.5v1.5h-1.5zM426.8 352.0h1.6v1.6h-1.6zM419.5 350.0h1.1v1.1h-1.1zM426.1 346.9h1.2v1.2h-1.2zM423.4 349.2h1.2v1.2h-1.2zM418.5 347.9h1.3v1.3h-1.3zM421.5 348.6h0.8v0.8h-0.8zM429.2 344.8h1.1v1.1h-1.1zM417.9 346.6h1.2v1.2h-1.2zM423.5 346.1h0.8v0.8h-0.8zM424.4 347.3h1.2v1.2h-1.2zM472.0 264.5h1.2v1.2h-1.2zM470.6 284.1h1.2v1.2h-1.2zM466.7 284.1h1.6v1.6h-1.6zM472.1 283.6h1.5v1.5h-1.5zM466.7 284.5h1.2v1.2h-1.2zM474.7 281.8h1.3v1.3h-1.3zM494.8 339.2h1.0v1.0h-1.0zM485.7 327.2h1.0v1.0h-1.0zM467.0 300.9h0.8v0.8h-0.8zM493.4 336.6h1.2v1.2h-1.2zM499.0 346.5h0.9v0.9h-0.9zM472.4 307.4h0.9v0.9h-0.9zM484.9 325.5h1.0v1.0h-1.0zM500.1 348.0h1.1v1.1h-1.1zM491.0 334.4h0.9v0.9h-0.9zM472.1 308.9h0.9v0.9h-0.9zM491.8 336.2h0.8v0.8h-0.8zM474.1 311.0h0.9v0.9h-0.9zM471.8 307.7h0.8v0.8h-0.8zM481.0 319.8h1.2v1.2h-1.2zM494.9 339.0h1.0v1.0h-1.0zM500.3 347.9h0.8v0.8h-0.8zM490.1 332.6h1.2v1.2h-1.2zM473.4 308.6h1.1v1.1h-1.1zM487.7 329.1h0.7v0.7h-0.7zM480.4 319.1h1.2v1.2h-1.2zM464.6 297.2h0.7v0.7h-0.7zM506.0 318.7h0.8v0.8h-0.8zM505.4 306.2h0.8v0.8h-0.8zM506.5 312.3h0.7v0.7h-0.7zM505.8 315.6h1.0v1.0h-1.0zM502.1 316.9h1.1v1.1h-1.1zM506.6 315.2h0.7v0.7h-0.7zM498.6 313.8h0.7v0.7h-0.7zM487.2 345.7h0.7v0.7h-0.7zM488.7 346.8h0.8v0.8h-0.8zM486.3 346.7h0.7v0.7h-0.7zM492.7 348.9h1.0v1.0h-1.0zM476.9 347.9h1.1v1.1h-1.1zM481.0 301.0h1.5v1.5h-1.5z"/><path fill="#f06030" d="M457.7 271.2h0.9v0.9h-0.9zM457.0 271.8h1.2v1.2h-1.2zM455.8 268.1h1.2v1.2h-1.2zM456.2 269.1h1.2v1.2h-1.2zM457.4 270.7h0.9v0.9h-0.9zM459.2 274.3h0.8v0.8h-0.8zM458.4 272.6h1.3v1.3h-1.3zM457.7 273.2h1.3v1.3h-1.3zM457.8 273.4h1.2v1.2h-1.2zM455.3 268.9h1.0v1.0h-1.0zM458.2 273.1h0.8v0.8h-0.8zM455.8 268.2h1.0v1.0h-1.0zM495.0 284.0h1.5v1.5h-1.5z"/><rect x="403.5" y="254.5" width="107" height="101" fill="none" stroke="#5a5a5a" stroke-width="1"/><line x1="399" y1="258.4" x2="403" y2="258.4" stroke="#777" stroke-width="1" /><text x="395.4" y="262.3" font-size="9" font-weight="bold" text-anchor="end" fill="#000" stroke="#000" stroke-width="0.25" >38.20°N</text><line x1="399" y1="315.4" x2="403" y2="315.4" stroke="#777" stroke-width="1" /><text x="395.4" y="319.3" font-size="9" font-weight="bold" text-anchor="end" fill="#000" stroke="#000" stroke-width="0.25" >38.15°N</text><line x1="448" y1="356" x2="448" y2="360" stroke="#777" stroke-width="1" /><text x="448.0" y="370.0" font-size="9" font-weight="bold" text-anchor="middle" fill="#000" stroke="#000" stroke-width="0.25" >27.30°E</text><line x1="505.4" y1="356" x2="505.4" y2="360" stroke="#777" stroke-width="1" /><text x="505.4" y="370.0" font-size="9" font-weight="bold" text-anchor="middle" fill="#000" stroke="#000" stroke-width="0.25" >27.35°E</text><text x="406.6" y="266.6" font-size="14.5" font-weight="normal" text-anchor="start" fill="#000" stroke="#000" stroke-width="0.25" >5</text><rect x="185.0" y="6.0" width="215.0" height="172.0" fill="#ffffff" /><path fill="#fcd6a8" d="M364.6 130.4h1.0v1.0h-1.0zM352.1 123.8h0.8v0.8h-0.8zM321.3 168.0h1.2v1.2h-1.2zM312.0 81.7h0.9v0.9h-0.9zM368.3 152.0h1.1v1.1h-1.1zM328.9 89.3h0.9v0.9h-0.9zM293.0 54.9h1.1v1.1h-1.1zM350.7 164.3h0.9v0.9h-0.9zM313.6 77.0h1.3v1.3h-1.3zM279.5 94.5h1.4v1.4h-1.4zM377.5 111.8h1.1v1.1h-1.1zM304.1 54.6h0.7v0.7h-0.7zM311.0 71.0h0.8v0.8h-0.8zM246.6 108.5h0.8v0.8h-0.8zM383.9 157.6h1.5v1.5h-1.5zM321.6 171.5h0.7v0.7h-0.7zM327.5 64.6h0.9v0.9h-0.9zM351.1 148.3h1.0v1.0h-1.0zM285.3 72.5h1.3v1.3h-1.3zM249.9 67.4h1.0v1.0h-1.0zM312.8 83.9h1.2v1.2h-1.2zM308.2 121.1h0.9v0.9h-0.9zM289.7 100.2h1.0v1.0h-1.0zM353.6 167.7h1.3v1.3h-1.3zM218.2 95.9h1.1v1.1h-1.1zM335.4 110.5h1.5v1.5h-1.5zM336.7 155.7h1.0v1.0h-1.0zM251.7 41.5h1.4v1.4h-1.4z"/><path fill="#fde6c6" d="M322.5 103.8h1.0v1.0h-1.0zM215.9 50.2h1.3v1.3h-1.3zM299.3 52.9h1.2v1.2h-1.2zM274.1 75.4h1.5v1.5h-1.5zM338.5 118.8h1.4v1.4h-1.4zM292.7 109.8h1.3v1.3h-1.3zM301.9 110.2h1.3v1.3h-1.3zM324.1 104.1h1.5v1.5h-1.5zM385.6 116.3h1.3v1.3h-1.3zM363.9 131.3h0.8v0.8h-0.8zM286.2 157.1h0.8v0.8h-0.8zM308.5 145.4h1.5v1.5h-1.5zM233.3 90.7h1.5v1.5h-1.5zM381.1 128.5h1.1v1.1h-1.1zM339.8 133.9h1.5v1.5h-1.5zM262.3 131.4h1.2v1.2h-1.2zM357.2 161.5h1.3v1.3h-1.3zM212.9 39.4h1.2v1.2h-1.2zM229.4 83.1h0.9v0.9h-0.9zM326.1 165.0h1.0v1.0h-1.0zM267.6 108.3h1.5v1.5h-1.5zM300.6 136.0h1.1v1.1h-1.1zM361.7 115.9h0.8v0.8h-0.8zM322.3 158.3h1.3v1.3h-1.3zM332.9 154.7h1.4v1.4h-1.4zM327.7 133.6h0.9v0.9h-0.9zM342.6 121.9h0.9v0.9h-0.9zM315.2 104.6h1.2v1.2h-1.2zM312.6 146.0h1.3v1.3h-1.3zM369.7 170.9h1.5v1.5h-1.5zM245.5 86.9h0.9v0.9h-0.9zM372.5 148.0h1.1v1.1h-1.1zM306.1 52.2h0.9v0.9h-0.9zM353.3 160.4h1.3v1.3h-1.3zM325.2 102.4h1.4v1.4h-1.4zM344.3 142.3h1.3v1.3h-1.3zM230.1 72.9h1.2v1.2h-1.2zM278.4 66.4h1.1v1.1h-1.1zM291.7 123.2h1.1v1.1h-1.1zM294.9 116.6h0.9v0.9h-0.9zM268.9 104.7h1.1v1.1h-1.1zM262.4 87.7h0.7v0.7h-0.7z"/><path fill="#f8b89a" d="M286.8 61.1h1.2v1.2h-1.2zM374.1 152.4h1.1v1.1h-1.1zM189.8 43.8h1.2v1.2h-1.2zM329.1 111.8h1.1v1.1h-1.1zM337.8 102.1h1.4v1.4h-1.4zM239.2 60.7h1.3v1.3h-1.3zM210.5 29.7h0.8v0.8h-0.8zM333.6 67.0h0.8v0.8h-0.8zM272.6 85.0h1.2v1.2h-1.2zM345.0 143.6h0.8v0.8h-0.8zM309.5 114.3h0.8v0.8h-0.8zM267.8 112.3h1.0v1.0h-1.0zM362.9 154.0h0.8v0.8h-0.8zM293.9 162.9h1.0v1.0h-1.0zM350.3 160.9h1.4v1.4h-1.4zM361.2 150.1h1.5v1.5h-1.5zM281.3 136.2h1.1v1.1h-1.1zM329.1 59.0h0.9v0.9h-0.9z"/><path fill="#fff2b0" d="M305.5 143.6h1.2v1.2h-1.2zM271.3 59.0h1.2v1.2h-1.2zM343.3 108.5h1.2v1.2h-1.2zM229.2 38.5h1.5v1.5h-1.5zM396.3 127.6h1.4v1.4h-1.4zM345.9 171.1h1.1v1.1h-1.1zM395.9 147.8h1.4v1.4h-1.4zM327.7 67.5h1.4v1.4h-1.4zM192.8 70.5h0.9v0.9h-0.9zM291.8 117.4h1.3v1.3h-1.3zM381.4 154.3h1.1v1.1h-1.1zM304.3 140.4h0.7v0.7h-0.7zM344.8 142.6h1.2v1.2h-1.2zM253.2 117.0h1.1v1.1h-1.1zM386.8 154.2h1.3v1.3h-1.3zM192.5 63.3h0.7v0.7h-0.7zM392.3 149.5h0.8v0.8h-0.8zM333.9 135.9h0.9v0.9h-0.9zM332.3 121.7h0.8v0.8h-0.8zM298.4 61.0h1.3v1.3h-1.3zM191.8 67.3h1.1v1.1h-1.1zM322.3 131.2h1.2v1.2h-1.2zM317.5 80.0h1.1v1.1h-1.1z"/><rect x="312.3" y="6.3" width="8.4" height="8.0" fill="#fdf5c2" /><rect x="320.3" y="6.3" width="8.4" height="8.0" fill="#fdf5c2" /><rect x="328.3" y="6.3" width="8.4" height="8.0" fill="#fdf5c2" /><rect x="312.3" y="13.9" width="8.4" height="8.0" fill="#d6ecd3" /><rect x="320.3" y="13.9" width="8.4" height="8.0" fill="#d6ecd3" /><rect x="328.3" y="13.9" width="8.4" height="8.0" fill="#d6ecd3" /><rect x="312.3" y="21.5" width="8.4" height="8.0" fill="#d6ecd3" /><rect x="320.3" y="21.5" width="8.4" height="8.0" fill="#d6ecd3" /><rect x="328.3" y="21.5" width="8.4" height="8.0" fill="#d6ecd3" /><rect x="336.3" y="21.5" width="8.4" height="8.0" fill="#d6ecd3" /><rect x="344.3" y="21.5" width="8.4" height="8.0" fill="#d6ecd3" /><rect x="296.3" y="29.1" width="8.4" height="8.0" fill="#d6ecd3" /><rect x="304.3" y="29.1" width="8.4" height="8.0" fill="#bcdfea" /><rect x="312.3" y="29.1" width="8.4" height="8.0" fill="#bcdfea" /><rect x="320.3" y="29.1" width="8.4" height="8.0" fill="#d6ecd3" /><rect x="328.3" y="29.1" width="8.4" height="8.0" fill="#d6ecd3" /><rect x="336.3" y="29.1" width="8.4" height="8.0" fill="#d6ecd3" /><rect x="344.3" y="29.1" width="8.4" height="8.0" fill="#d6ecd3" /><rect x="352.3" y="29.1" width="3.4" height="8.0" fill="#fdf5c2" /><rect x="304.3" y="36.7" width="8.4" height="8.0" fill="#8ac8e2" /><rect x="312.3" y="36.7" width="8.4" height="8.0" fill="#52a8da" /><rect x="320.3" y="36.7" width="8.4" height="8.0" fill="#8ac8e2" /><rect x="328.3" y="36.7" width="8.4" height="8.0" fill="#d6ecd3" /><rect x="336.3" y="36.7" width="8.4" height="8.0" fill="#bcdfea" /><rect x="344.3" y="36.7" width="8.4" height="8.0" fill="#fdf5c2" /><rect x="352.3" y="36.7" width="3.4" height="8.0" fill="#fdf5c2" /><rect x="304.3" y="44.3" width="8.4" height="8.0" fill="#d6ecd3" /><rect x="312.3" y="44.3" width="8.4" height="8.0" fill="#d6ecd3" /><rect x="320.3" y="44.3" width="8.4" height="8.0" fill="#fdf5c2" /><rect x="328.3" y="44.3" width="8.4" height="8.0" fill="#fdf5c2" /><rect x="336.3" y="44.3" width="8.4" height="8.0" fill="#d6ecd3" /><rect x="344.3" y="44.3" width="8.4" height="8.0" fill="#d6ecd3" /><rect x="352.3" y="44.3" width="3.4" height="8.0" fill="#fdf5c2" /><rect x="272.3" y="51.9" width="8.4" height="8.0" fill="#fcd392" /><rect x="280.3" y="51.9" width="8.4" height="8.0" fill="#d6ecd3" /><rect x="288.3" y="51.9" width="8.4" height="8.0" fill="#8ac8e2" /><rect x="296.3" y="51.9" width="8.4" height="8.0" fill="#8ac8e2" /><rect x="304.3" y="51.9" width="8.4" height="8.0" fill="#bcdfea" /><rect x="312.3" y="51.9" width="8.4" height="8.0" fill="#d6ecd3" /><rect x="320.3" y="51.9" width="8.4" height="8.0" fill="#fdf5c2" /><rect x="328.3" y="51.9" width="8.4" height="8.0" fill="#fdf5c2" /><rect x="336.3" y="51.9" width="8.4" height="8.0" fill="#bcdfea" /><rect x="344.3" y="51.9" width="8.4" height="8.0" fill="#bcdfea" /><rect x="352.3" y="51.9" width="3.4" height="8.0" fill="#d6ecd3" /><rect x="272.3" y="59.5" width="8.4" height="8.0" fill="#fcd392" /><rect x="280.3" y="59.5" width="8.4" height="8.0" fill="#d6ecd3" /><rect x="288.3" y="59.5" width="8.4" height="8.0" fill="#8ac8e2" /><rect x="296.3" y="59.5" width="8.4" height="8.0" fill="#bcdfea" /><rect x="304.3" y="59.5" width="8.4" height="8.0" fill="#d6ecd3" /><rect x="312.3" y="59.5" width="8.4" height="8.0" fill="#fdf5c2" /><rect x="320.3" y="59.5" width="8.4" height="8.0" fill="#fdf5c2" /><rect x="328.3" y="59.5" width="8.4" height="8.0" fill="#fdf5c2" /><rect x="336.3" y="59.5" width="8.4" height="8.0" fill="#8ac8e2" /><rect x="344.3" y="59.5" width="8.4" height="8.0" fill="#bcdfea" /><rect x="352.3" y="59.5" width="3.4" height="8.0" fill="#d6ecd3" /><rect x="296.3" y="67.1" width="8.4" height="8.0" fill="#d6ecd3" /><rect x="304.3" y="67.1" width="8.4" height="8.0" fill="#fdf5c2" /><rect x="312.3" y="67.1" width="8.4" height="8.0" fill="#fdf5c2" /><rect x="320.3" y="67.1" width="8.4" height="8.0" fill="#fdf5c2" /><rect x="328.3" y="67.1" width="8.4" height="8.0" fill="#bcdfea" /><rect x="336.3" y="67.1" width="8.4" height="8.0" fill="#52a8da" /><rect x="344.3" y="67.1" width="8.4" height="8.0" fill="#bcdfea" /><rect x="352.3" y="67.1" width="3.4" height="8.0" fill="#d6ecd3" /><rect x="312.3" y="74.7" width="8.4" height="8.0" fill="#fdf5c2" /><rect x="320.3" y="74.7" width="8.4" height="8.0" fill="#fdf5c2" /><rect x="328.3" y="74.7" width="8.4" height="8.0" fill="#8ac8e2" /><rect x="336.3" y="74.7" width="8.4" height="8.0" fill="#bcdfea" /><rect x="344.3" y="74.7" width="8.4" height="8.0" fill="#d6ecd3" /><rect x="328.3" y="82.3" width="8.4" height="8.0" fill="#d6ecd3" /><rect x="336.3" y="82.3" width="8.4" height="8.0" fill="#d6ecd3" /><rect x="344.3" y="82.3" width="8.4" height="8.0" fill="#d6ecd3" /><rect x="288.5" y="67.3" width="8.1" height="3.3" fill="#bcdfea" /><rect x="272.5" y="50.0" width="8.0" height="2.2" fill="#fde8b0" /><polyline points="302.5,37.2 299.5,38.5 298.3,41.0 299.5,43.2 298.6,45.2 300.5,47.0 304.0,47.5 306.5,49.5 308.6,52.0 310.5,49.5 312.0,47.5 313.5,44.5" fill="none" stroke="#1a6ee0" stroke-width="1.9" stroke-linejoin="round" stroke-linecap="round" /><polyline points="300.5,41.5 302.5,42.5 304.5,44.5 306.5,45.5" fill="none" stroke="#1a6ee0" stroke-width="1.0" stroke-linejoin="round" stroke-linecap="round" /><polyline points="311.5,36.6 314.0,36.2 316.5,36.7 319.5,38.0" fill="none" stroke="#1a6ee0" stroke-width="2.2" stroke-linejoin="round" stroke-linecap="round" /><polyline points="308.6,52.0 309.5,54.5" fill="none" stroke="#1a6ee0" stroke-width="1.4" stroke-linejoin="round" stroke-linecap="round" /><polyline points="351.0,117.8 353.5,115.2 356.0,112.5 359.0,110.8 363.0,109.6 368.0,109.0" fill="none" stroke="#1a6ee0" stroke-width="2.2" stroke-linejoin="round" stroke-linecap="round" /><polyline points="352.5,114.5 355.0,113.2" fill="none" stroke="#1a6ee0" stroke-width="1.4" stroke-linejoin="round" stroke-linecap="round" /><polyline points="356.0,114.5 360.0,112.6 363.5,111.6" fill="none" stroke="#1a6ee0" stroke-width="1.5" stroke-linejoin="round" stroke-linecap="round" /><polyline points="360.0,109.2 362.0,108.2" fill="none" stroke="#1a6ee0" stroke-width="1.2" stroke-linejoin="round" stroke-linecap="round" /><polyline points="353.5,116.5 354.0,120.0" fill="none" stroke="#1a6ee0" stroke-width="1.3" stroke-linejoin="round" stroke-linecap="round" /><polyline points="326.2,125.9 329.0,127.6 331.0,129.5" fill="none" stroke="#1a6ee0" stroke-width="1.6" stroke-linejoin="round" stroke-linecap="round" /><polygon points="328.5,128.0 333.0,128.2 337.0,128.8 341.0,130.6 344.0,131.8 343.2,133.3 338.0,133.1 333.0,133.4 330.0,133.6 328.6,131.0" fill="#1a6ee0" stroke="#1a6ee0" stroke-width="0.6" stroke-linejoin="round" stroke-linecap="round" /><polyline points="331.0,129.0 333.5,126.0 336.0,123.6" fill="none" stroke="#1a6ee0" stroke-width="1.5" stroke-linejoin="round" stroke-linecap="round" /><polyline points="334.5,129.0 337.0,126.5 339.3,123.4" fill="none" stroke="#1a6ee0" stroke-width="1.3" stroke-linejoin="round" stroke-linecap="round" /><polyline points="330.5,129.5 330.8,133.0 330.6,136.3" fill="none" stroke="#1a6ee0" stroke-width="1.6" stroke-linejoin="round" stroke-linecap="round" /><polyline points="336.0,130.0 338.5,128.5" fill="none" stroke="#1a6ee0" stroke-width="1.2" stroke-linejoin="round" stroke-linecap="round" /><circle cx="331" cy="128.4" r="0.9" fill="#e04a3a"/><polyline points="350.0,83.0 357.0,80.5 364.0,79.5" fill="none" stroke="#1a6ee0" stroke-width="1.4" stroke-linejoin="round" stroke-linecap="round" /><polyline points="338.0,96.5 342.0,95.5" fill="none" stroke="#2a7ee8" stroke-width="1.2" stroke-linejoin="round" stroke-linecap="round" /><polyline points="197.7,93.3 198.0,95.0 205.0,119.0 216.0,136.0 235.0,153.0 252.0,162.0 296.0,171.0 304.7,172.2 315.3,169.3 334.6,156.8 348.0,147.0 363.6,135.5 377.0,124.0 387.0,114.3 386.7,95.0 385.0,87.0 380.0,75.0 374.0,63.0 371.0,41.0 365.0,33.0 352.0,25.6 325.0,25.5 314.0,26.0 289.0,29.5 270.0,26.5 259.0,26.3" fill="none" stroke="#b6ec36" stroke-width="1.1" stroke-linejoin="round" stroke-linecap="round" /><polyline points="259.0,60.5 275.0,62.0 289.0,62.5 298.0,56.5 307.3,51.3 310.1,49.2 320.7,48.5 324.2,51.3 334.1,59.8 342.6,67.5 346.1,72.5 347.6,76.7 348.3,82.4 348.3,92.3 347.4,96.5 347.4,98.5 352.0,106.6 353.0,118.2 348.0,126.9 344.3,130.7 329.8,133.6 296.0,132.0 284.0,132.0 270.0,129.0 258.0,125.0 248.0,115.0 240.0,104.0 238.4,95.0 238.3,93.3" fill="none" stroke="#fbbe46" stroke-width="1.1" stroke-linejoin="round" stroke-linecap="round" /><polygon points="269.5,100.4 272.1,92.7 280.4,88.3 293.1,89.2 302.0,92.1 305.8,97.8 306.5,103.5 302.0,107.4 293.1,109.0 278.5,108.3 274.0,104.8" fill="none" stroke="#f7744a" stroke-width="1.0" stroke-linejoin="round" stroke-linecap="round" /><defs><filter id="bl" x="-1" y="-1" width="3" height="3"><feGaussianBlur stdDeviation="1.6"/></filter></defs><ellipse cx="300.5" cy="104.5" rx="3.5" ry="3" fill="#555" opacity="0.55" filter="url(#bl)"/><polygon points="295.40,97.10 296.44,99.87 299.39,100.00 297.08,101.85 297.87,104.70 295.40,103.06 292.93,104.70 293.72,101.85 291.41,100.00 294.36,99.87" fill="#f01c1c" /><circle cx="286.1" cy="110.5" r="2" fill="#f98418"/><circle cx="290.5" cy="109" r="2" fill="#f98418"/><circle cx="291.8" cy="113.7" r="2" fill="#f98418"/><circle cx="299.5" cy="109.9" r="2" fill="#f98418"/><circle cx="299.3" cy="111.8" r="2" fill="#f98418"/><circle cx="303.9" cy="112.8" r="2" fill="#f98418"/><circle cx="288.3" cy="110.8" r="2.1" fill="#d41a78"/><circle cx="309.9" cy="113.7" r="2.1" fill="#d41a78"/><circle cx="282.5" cy="64" r="2.1" fill="#d41a78"/><rect x="308" y="52.8" width="7.800000000000011" height="6.600000000000001" fill="#606060" fill-opacity="0.15" stroke="#303030" stroke-width="0.9"/><text x="311.9" y="58.7" font-size="9.4" font-weight="normal" text-anchor="middle" fill="#000" stroke="#000" stroke-width="0.15" >1</text><rect x="315.6" y="67.6" width="8.199999999999989" height="6.800000000000011" fill="#606060" fill-opacity="0.15" stroke="#303030" stroke-width="0.9"/><text x="319.7" y="73.7" font-size="9.4" font-weight="normal" text-anchor="middle" fill="#000" stroke="#000" stroke-width="0.15" >2</text><rect x="332" y="67" width="7.399999999999977" height="7.200000000000003" fill="#606060" fill-opacity="0.15" stroke="#303030" stroke-width="0.9"/><text x="335.7" y="73.5" font-size="9.4" font-weight="normal" text-anchor="middle" fill="#000" stroke="#000" stroke-width="0.15" >3</text><rect x="332" y="75" width="7.399999999999977" height="7" fill="#606060" fill-opacity="0.15" stroke="#303030" stroke-width="0.9"/><text x="335.7" y="81.3" font-size="9.4" font-weight="normal" text-anchor="middle" fill="#000" stroke="#000" stroke-width="0.15" >4</text><rect x="339.6" y="75" width="8.0" height="7" fill="#606060" fill-opacity="0.15" stroke="#303030" stroke-width="0.9"/><text x="343.6" y="81.3" font-size="9.4" font-weight="normal" text-anchor="middle" fill="#000" stroke="#000" stroke-width="0.15" >5</text><rect x="340.2" y="82.8" width="7.800000000000011" height="8.0" fill="#606060" fill-opacity="0.15" stroke="#303030" stroke-width="0.9"/><text x="344.1" y="90.1" font-size="9.4" font-weight="normal" text-anchor="middle" fill="#000" stroke="#000" stroke-width="0.15" >6</text><rect x="348.4" y="82.8" width="7.800000000000011" height="8.0" fill="#606060" fill-opacity="0.15" stroke="#303030" stroke-width="0.9"/><text x="352.3" y="90.1" font-size="9.4" font-weight="normal" text-anchor="middle" fill="#000" stroke="#000" stroke-width="0.15" >7</text><rect x="186.0" y="7.0" width="73.0" height="86.0" fill="#ffffff" /><polygon points="192.30,8.00 192.87,9.52 194.49,9.59 193.22,10.60 193.65,12.16 192.30,11.27 190.95,12.16 191.38,10.60 190.11,9.59 191.73,9.52" fill="#f01c1c" /><ellipse cx="195.2" cy="12.6" rx="1.9" ry="1.6" fill="#444" opacity="0.6" filter="url(#bl)"/><polygon points="192.30,8.00 192.87,9.52 194.49,9.59 193.22,10.60 193.65,12.16 192.30,11.27 190.95,12.16 191.38,10.60 190.11,9.59 191.73,9.52" fill="#f01c1c" /><text x="197.0" y="12.4" font-size="6.2" font-weight="normal" text-anchor="start" fill="#1a1a1a" stroke="#1a1a1a" stroke-width="0.06" textLength="39.4" lengthAdjust="spacingAndGlyphs">Mainshock, M 7</text><text x="186.6" y="23.1" font-size="6.2" font-weight="normal" text-anchor="start" fill="#1a1a1a" stroke="#1a1a1a" stroke-width="0.06" textLength="12.5" lengthAdjust="spacingAndGlyphs">MMI</text><line x1="189.4" y1="27.9" x2="208" y2="27.9" stroke="#98e61a" stroke-width="2.1" /><line x1="189.4" y1="35.5" x2="208" y2="35.5" stroke="#fca816" stroke-width="2.0" /><line x1="189.4" y1="43.0" x2="208" y2="43.0" stroke="#fc5018" stroke-width="2.0" /><text x="209.0" y="31.0" font-size="6.1" font-weight="normal" text-anchor="start" fill="#222" stroke="#222" stroke-width="0.05" >5</text><text x="209.0" y="38.4" font-size="6.1" font-weight="normal" text-anchor="start" fill="#222" stroke="#222" stroke-width="0.05" >6</text><text x="209.0" y="45.9" font-size="6.1" font-weight="normal" text-anchor="start" fill="#222" stroke="#222" stroke-width="0.05" >7</text><circle cx="192.2" cy="52.3" r="2.4" fill="#f98418"/><circle cx="192.2" cy="60.5" r="2.4" fill="#d41a78"/><text x="196.8" y="54.6" font-size="6.8" font-weight="normal" text-anchor="start" fill="#1a1a1a" stroke="#1a1a1a" stroke-width="0.06" textLength="47.4" lengthAdjust="spacingAndGlyphs">Reported Landslide</text><text x="196.8" y="62.7" font-size="6.8" font-weight="normal" text-anchor="start" fill="#1a1a1a" stroke="#1a1a1a" stroke-width="0.06" textLength="54.4" lengthAdjust="spacingAndGlyphs">Reported Liquefaction</text><text x="187.0" y="74.7" font-size="6.7" font-weight="normal" text-anchor="start" fill="#1a1a1a" stroke="#1a1a1a" stroke-width="0.06" textLength="58.4" lengthAdjust="spacingAndGlyphs">Liquefaction Probability</text><defs><linearGradient id="lq" x1="0" x2="1" y1="0" y2="0"><stop offset="0" stop-color="#f6fafd"/><stop offset="0.3" stop-color="#aad6ec"/><stop offset="0.55" stop-color="#1a96d0"/><stop offset="0.78" stop-color="#0b62b0"/><stop offset="1" stop-color="#083c94"/></linearGradient></defs><rect x="189.6" y="77.3" width="69.4" height="6.8" fill="url(#lq)" /><text x="189.4" y="91.3" font-size="6.7" font-weight="normal" text-anchor="start" fill="#1a1a1a" stroke="#1a1a1a" stroke-width="0.06" >0</text><text x="247.4" y="91.3" font-size="6.7" font-weight="normal" text-anchor="start" fill="#1a1a1a" stroke="#1a1a1a" stroke-width="0.06" textLength="11.7" lengthAdjust="spacingAndGlyphs">25%</text><rect x="185.5" y="6.5" width="214" height="171" fill="none" stroke="#5a5a5a" stroke-width="1"/><line x1="183.5" y1="6.5" x2="185" y2="6.5" stroke="#777" stroke-width="1" /><text x="180.6" y="9.9" font-size="9" font-weight="bold" text-anchor="end" fill="#000" stroke="#000" stroke-width="0.3" >39.0°N</text><line x1="183.5" y1="49.5" x2="185" y2="49.5" stroke="#777" stroke-width="1" /><text x="180.6" y="52.9" font-size="9" font-weight="bold" text-anchor="end" fill="#000" stroke="#000" stroke-width="0.3" >38.5°N</text><line x1="183.5" y1="92.3" x2="185" y2="92.3" stroke="#777" stroke-width="1" /><text x="180.6" y="95.7" font-size="9" font-weight="bold" text-anchor="end" fill="#000" stroke="#000" stroke-width="0.3" >38.0°N</text><line x1="183.5" y1="135.5" x2="185" y2="135.5" stroke="#777" stroke-width="1" /><text x="180.6" y="138.9" font-size="9" font-weight="bold" text-anchor="end" fill="#000" stroke="#000" stroke-width="0.3" >37.5°N</text><line x1="228.6" y1="178" x2="228.6" y2="179.5" stroke="#777" stroke-width="1" /><text x="228.6" y="189.6" font-size="9" font-weight="bold" text-anchor="middle" fill="#000" stroke="#000" stroke-width="0.3" >26.0°E</text><line x1="271.4" y1="178" x2="271.4" y2="179.5" stroke="#777" stroke-width="1" /><text x="271.4" y="189.6" font-size="9" font-weight="bold" text-anchor="middle" fill="#000" stroke="#000" stroke-width="0.3" >26.5°E</text><line x1="314.1" y1="178" x2="314.1" y2="179.5" stroke="#777" stroke-width="1" /><text x="314.1" y="189.6" font-size="9" font-weight="bold" text-anchor="middle" fill="#000" stroke="#000" stroke-width="0.3" >27.0°E</text><line x1="356.8" y1="178" x2="356.8" y2="179.5" stroke="#777" stroke-width="1" /><text x="356.8" y="189.6" font-size="9" font-weight="bold" text-anchor="middle" fill="#000" stroke="#000" stroke-width="0.3" >27.5°E</text><line x1="399.5" y1="178" x2="399.5" y2="179.5" stroke="#777" stroke-width="1" /><text x="399.5" y="189.6" font-size="9" font-weight="bold" text-anchor="middle" fill="#000" stroke="#000" stroke-width="0.3" >28.0°E</text><defs><linearGradient id="dpm" x1="0" x2="1" y1="0" y2="0"><stop offset="0" stop-color="#fff200"/><stop offset="0.2" stop-color="#ffc01c"/><stop offset="0.32" stop-color="#ffa024"/><stop offset="0.45" stop-color="#ff4c1e"/><stop offset="0.53" stop-color="#f8241e"/><stop offset="0.63" stop-color="#e2102a"/><stop offset="1" stop-color="#dc0028"/></linearGradient></defs><rect x="198.0" y="205.0" width="183.0" height="14.5" fill="url(#dpm)" /><text x="198.2" y="229.2" font-size="9.8" font-weight="normal" text-anchor="start" fill="#111" stroke="#111" stroke-width="0.15" >Minor</text><text x="381.2" y="229.2" font-size="9.8" font-weight="normal" text-anchor="end" fill="#111" stroke="#111" stroke-width="0.15" >Major</text><text x="289.6" y="243.0" font-size="12.8" font-weight="normal" text-anchor="middle" fill="#111" stroke="#111" stroke-width="0.15" >DPM surface change</text><rect x="131.0" y="381.2" width="47.0" height="10.4" fill="#f41c1c" /><rect x="178.0" y="381.2" width="47.0" height="10.4" fill="#fb5234" /><rect x="225.0" y="381.2" width="29.1" height="10.4" fill="#fb8c4c" /><rect x="254.0" y="381.2" width="18.1" height="10.4" fill="#fdd18c" /><rect x="272.0" y="381.2" width="18.1" height="10.4" fill="#ffffbf" /><rect x="290.0" y="381.2" width="17.6" height="10.4" fill="#d5eed1" /><rect x="307.5" y="381.2" width="17.6" height="10.4" fill="#abe0e3" /><rect x="325.0" y="381.2" width="29.1" height="10.4" fill="#76c2de" /><rect x="354.0" y="381.2" width="47.0" height="10.4" fill="#2b9bd2" /><rect x="401.0" y="381.2" width="47.0" height="10.4" fill="#0b72b3" /><text x="178.0" y="402.0" font-size="9.9" font-weight="normal" text-anchor="middle" fill="#111" stroke="#111" stroke-width="0.15" >-0.2</text><text x="225.0" y="402.0" font-size="9.9" font-weight="normal" text-anchor="middle" fill="#111" stroke="#111" stroke-width="0.15" >-0.1</text><text x="254.0" y="402.0" font-size="9.9" font-weight="normal" text-anchor="middle" fill="#111" stroke="#111" stroke-width="0.15" >-0.05</text><text x="290.0" y="402.0" font-size="9.9" font-weight="normal" text-anchor="middle" fill="#111" stroke="#111" stroke-width="0.15" >0</text><text x="325.0" y="402.0" font-size="9.9" font-weight="normal" text-anchor="middle" fill="#111" stroke="#111" stroke-width="0.15" >0.05</text><text x="354.0" y="402.0" font-size="9.9" font-weight="normal" text-anchor="middle" fill="#111" stroke="#111" stroke-width="0.15" >0.1</text><text x="401.0" y="402.0" font-size="9.9" font-weight="normal" text-anchor="middle" fill="#111" stroke="#111" stroke-width="0.15" >0.2</text><text x="204.3" y="419.4" font-size="12.6" fill="#111" stroke="#111" stroke-width="0.15">Soil Moisture Change (cm<tspan dy="-4.6" font-size="8.6">3</tspan><tspan dy="4.6">/cm</tspan><tspan dy="-4.6" font-size="8.6">3</tspan><tspan dy="4.6">)</tspan></text></svg></body></html>
